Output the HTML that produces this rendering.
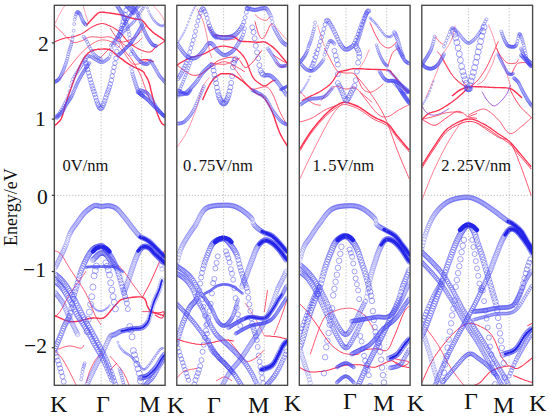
<!DOCTYPE html>
<html><head><meta charset="utf-8"><style>
html,body{margin:0;padding:0;background:#fff;}
body{width:550px;height:419px;overflow:hidden;position:relative;font-family:"Liberation Serif",serif;color:#111;}
svg{position:absolute;left:0;top:0;}
.p{margin:0 1.7px}
.t{position:absolute;white-space:nowrap;line-height:1;}
</style></head><body>
<svg width="550" height="419" viewBox="0 0 550 419">
<defs>
<clipPath id="cp0"><rect x="54.3" y="5.3" width="110.8" height="380"/></clipPath>
<clipPath id="cp1"><rect x="176.8" y="5.3" width="110.8" height="380"/></clipPath>
<clipPath id="cp2"><rect x="299.3" y="5.3" width="110.8" height="380"/></clipPath>
<clipPath id="cp3"><rect x="421.8" y="5.3" width="110.8" height="380"/></clipPath>
<marker id="m75" markerUnits="userSpaceOnUse" markerWidth="16" markerHeight="16" refX="8" refY="8" overflow="visible"><circle cx="8" cy="8" r="0.75" fill="none" stroke="#4a4af2" stroke-width="0.4"/></marker>
<marker id="m100" markerUnits="userSpaceOnUse" markerWidth="20" markerHeight="20" refX="10" refY="10" overflow="visible"><circle cx="10" cy="10" r="1.0" fill="none" stroke="#4a4af2" stroke-width="0.4"/></marker>
<marker id="m125" markerUnits="userSpaceOnUse" markerWidth="24" markerHeight="24" refX="12" refY="12" overflow="visible"><circle cx="12" cy="12" r="1.25" fill="none" stroke="#4a4af2" stroke-width="0.4"/></marker>
<marker id="m150" markerUnits="userSpaceOnUse" markerWidth="28" markerHeight="28" refX="14" refY="14" overflow="visible"><circle cx="14" cy="14" r="1.5" fill="none" stroke="#4a4af2" stroke-width="0.4"/></marker>
<marker id="m175" markerUnits="userSpaceOnUse" markerWidth="32" markerHeight="32" refX="16" refY="16" overflow="visible"><circle cx="16" cy="16" r="1.75" fill="none" stroke="#4a4af2" stroke-width="0.4"/></marker>
<marker id="m200" markerUnits="userSpaceOnUse" markerWidth="36" markerHeight="36" refX="18" refY="18" overflow="visible"><circle cx="18" cy="18" r="2.0" fill="none" stroke="#4a4af2" stroke-width="0.5"/></marker>
<marker id="m200t" markerUnits="userSpaceOnUse" markerWidth="36" markerHeight="36" refX="18" refY="18" overflow="visible"><circle cx="18" cy="18" r="2.0" fill="none" stroke="#4a4af2" stroke-width="0.3"/></marker>
<marker id="m225" markerUnits="userSpaceOnUse" markerWidth="40" markerHeight="40" refX="20" refY="20" overflow="visible"><circle cx="20" cy="20" r="2.25" fill="none" stroke="#4a4af2" stroke-width="0.5"/></marker>
<marker id="m225t" markerUnits="userSpaceOnUse" markerWidth="40" markerHeight="40" refX="20" refY="20" overflow="visible"><circle cx="20" cy="20" r="2.25" fill="none" stroke="#4a4af2" stroke-width="0.3"/></marker>
<marker id="m250" markerUnits="userSpaceOnUse" markerWidth="44" markerHeight="44" refX="22" refY="22" overflow="visible"><circle cx="22" cy="22" r="2.5" fill="none" stroke="#4a4af2" stroke-width="0.5"/></marker>
<marker id="m250t" markerUnits="userSpaceOnUse" markerWidth="44" markerHeight="44" refX="22" refY="22" overflow="visible"><circle cx="22" cy="22" r="2.5" fill="none" stroke="#4a4af2" stroke-width="0.3"/></marker>
<marker id="m275" markerUnits="userSpaceOnUse" markerWidth="48" markerHeight="48" refX="24" refY="24" overflow="visible"><circle cx="24" cy="24" r="2.75" fill="none" stroke="#4a4af2" stroke-width="0.5"/></marker>
<marker id="m300" markerUnits="userSpaceOnUse" markerWidth="52" markerHeight="52" refX="26" refY="26" overflow="visible"><circle cx="26" cy="26" r="3.0" fill="none" stroke="#4a4af2" stroke-width="0.5"/></marker>
</defs>
<g clip-path="url(#cp0)">
<g fill="none" stroke="#ff3050"><path d="M86.4,25.4L86.8,24.9L87.4,24.2L88.1,23.4L88.9,22.6L89.7,21.6L90.5,20.7L91.3,19.8L92.1,19.0L92.8,18.2L93.6,17.4L94.4,16.6L95.1,15.8L95.9,15.1L96.6,14.4L97.3,13.8L97.9,13.3L98.4,12.9L98.9,12.7L99.3,12.5L99.7,12.4L100.1,12.3L100.5,12.3L101.0,12.2L101.5,12.2L102.1,12.2L102.6,12.2L103.1,12.2L103.7,12.3L104.4,12.3L105.1,12.4L106.0,12.6L107.0,12.7L108.2,12.9L109.7,13.0L111.3,13.3L112.9,13.5L114.6,13.7L116.3,14.0L117.8,14.2L119.2,14.5L120.4,14.8L121.5,15.0L122.5,15.3L123.5,15.6L124.4,15.9L125.3,16.2L126.2,16.5L127.2,16.8L128.2,17.1L129.2,17.4L130.3,17.7L131.3,18.0L132.3,18.3L133.3,18.5L134.3,18.8L135.2,19.0L136.1,19.2L137.0,19.2L137.8,19.3L138.6,19.3L139.4,19.4L140.2,19.5L141.0,19.8L141.8,20.2L142.6,20.8L143.3,21.6L144.1,22.4L144.9,23.4L145.6,24.3L146.3,25.3L147.1,26.3L147.8,27.1L148.5,27.9L149.2,28.6L149.9,29.4L150.7,30.1L151.4,30.8L152.1,31.5L152.8,32.1L153.6,32.8L154.4,33.4L155.3,34.1L156.2,34.7L157.1,35.2L158.0,35.8L158.8,36.4L159.6,36.9L160.4,37.4L161.1,37.9L161.8,38.4L162.5,38.9L163.2,39.4L163.8,39.8L164.3,40.2L164.8,40.5L165.1,40.8" stroke-width="1.44"/><path d="M54.3,42.0L55.0,41.7L56.0,41.3L57.2,40.8L58.5,40.3L59.8,39.8L61.2,39.3L62.6,38.8L63.9,38.4L65.2,38.1L66.5,37.8L67.8,37.6L69.1,37.4L70.4,37.3L71.7,37.0L73.0,36.8L74.2,36.5L75.4,36.2L76.5,35.8L77.6,35.4L78.7,35.0L79.8,34.6L80.8,34.1L81.9,33.6L83.0,33.0L84.1,32.4L85.2,31.6L86.3,30.8L87.5,30.0L88.6,29.2L89.7,28.4L90.8,27.6L92.0,27.0L93.2,26.4L94.4,25.8L95.6,25.3L96.8,24.8L98.0,24.3L99.2,24.0L100.4,23.7L101.5,23.6L102.6,23.6L103.7,23.8L104.8,24.0L105.9,24.3L107.0,24.7L108.0,25.2L109.0,25.6L110.0,26.0L111.0,26.4L111.9,26.9L112.8,27.4L113.7,27.9L114.6,28.4L115.4,29.0L116.2,29.5L116.9,30.0L117.6,30.5L118.2,30.9L118.7,31.4L119.3,31.8L119.8,32.3L120.3,32.8L120.9,33.4L121.5,34.0L122.2,34.7L122.8,35.6L123.6,36.4L124.3,37.4L125.0,38.3L125.7,39.2L126.5,40.0L127.2,40.8L127.9,41.5L128.6,42.1L129.2,42.7L129.9,43.2L130.6,43.8L131.3,44.3L132.1,44.8L132.9,45.4L133.8,46.0L134.7,46.6L135.7,47.2L136.7,47.9L137.8,48.5L138.9,49.0L139.9,49.5L141.0,50.0L142.1,50.4L143.3,50.8L144.4,51.2L145.6,51.6L146.8,51.9L147.9,52.1L149.0,52.1L150.0,52.0L150.9,51.7L151.6,51.3L152.3,50.7L153.0,50.0L153.7,49.3L154.4,48.5L155.1,47.7L156.0,47.0L157.0,46.3L158.2,45.4L159.6,44.6L160.9,43.7L162.2,42.9L163.3,42.1L164.3,41.5L165.0,41.0" stroke-width="1.04"/><path d="M54.3,24.8L54.8,25.3L55.5,26.0L56.4,26.9L57.3,27.8L58.3,28.8L59.3,29.8L60.3,30.8L61.2,31.7L62.1,32.6L62.9,33.5L63.8,34.4L64.7,35.3L65.5,36.2L66.4,37.0L67.2,37.8L68.0,38.5L68.8,39.2L69.5,39.8L70.2,40.5L70.8,41.0L71.5,41.5L72.2,42.0L73.0,42.3L73.8,42.5L74.7,42.6L75.6,42.5L76.6,42.4L77.7,42.1L78.7,41.8L79.7,41.5L80.8,41.2L81.8,40.8L82.8,40.4L83.7,39.9L84.6,39.3L85.6,38.8L86.5,38.2L87.5,37.7L88.6,37.3L89.8,37.0L91.1,36.9L92.5,36.8L94.1,36.9L95.6,37.0L97.2,37.1L98.7,37.3L100.2,37.4L101.5,37.4L102.7,37.4L103.8,37.2L104.8,37.1L105.8,36.9L106.7,36.8L107.7,36.7L108.8,36.8L110.0,37.0L111.3,37.4L112.6,38.1L114.0,38.9L115.4,39.8L116.9,40.6L118.4,41.3L119.9,41.8L121.5,42.0L123.2,41.9L124.9,41.6L126.8,41.1L128.7,40.4L130.5,39.7L132.2,38.9L133.8,38.2L135.2,37.4L136.4,36.6L137.4,35.8L138.3,34.9L139.0,34.0L139.7,33.1L140.4,32.2L141.1,31.3L141.8,30.5L142.6,29.7L143.3,28.9L144.1,28.1L144.8,27.3L145.5,26.6L146.1,26.0L146.6,25.4L147.0,25.0" stroke-width="0.80"/><path d="M54.3,125.8L54.7,125.5L55.2,125.1L55.7,124.7L56.4,124.2L57.1,123.6L57.7,123.0L58.4,122.4L58.9,121.8L59.4,121.2L59.8,120.7L60.2,120.2L60.6,119.7L61.0,119.1L61.4,118.3L61.8,117.3L62.3,116.1L62.8,114.6L63.3,112.9L63.8,111.1L64.3,109.1L64.9,106.9L65.5,104.7L66.2,102.4L66.9,100.0L67.7,97.5L68.7,94.7L69.7,91.8L70.8,88.9L71.8,85.9L72.9,83.1L73.9,80.3L74.9,77.8L75.8,75.4L76.7,73.2L77.6,71.0L78.5,68.9L79.3,66.9L80.2,65.1L81.0,63.4L81.8,61.8L82.6,60.4L83.3,59.1L84.0,58.0L84.7,57.0L85.4,56.0L86.1,55.2L86.8,54.4L87.5,53.7L88.2,53.0L88.9,52.5L89.6,52.0L90.2,51.6L90.9,51.2L91.7,50.9L92.5,50.6L93.3,50.3L94.2,50.0L95.2,49.8L96.2,49.6L97.2,49.4L98.3,49.3L99.4,49.2L100.4,49.1L101.5,49.1L102.5,49.1L103.6,49.0L104.6,49.0L105.7,49.0L106.7,49.1L107.8,49.3L108.9,49.6L110.0,50.0L111.1,50.6L112.2,51.3L113.3,52.2L114.4,53.2L115.6,54.2L116.7,55.2L117.9,56.2L119.2,57.2L120.5,58.2L121.9,59.2L123.3,60.2L124.8,61.3L126.2,62.3L127.7,63.3L129.2,64.3L130.6,65.2L132.1,66.0L133.7,66.8L135.3,67.6L136.8,68.3L138.4,68.9L139.8,69.6L141.0,70.3L142.1,70.9L142.9,71.5L143.5,72.1L144.0,72.6L144.3,73.1L144.6,73.7L144.8,74.2L145.1,74.8L145.5,75.5L145.9,76.2L146.4,76.9L146.8,77.6L147.2,78.4L147.7,79.2L148.1,80.2L148.6,81.2L149.0,82.4L149.4,83.8L149.8,85.3L150.2,86.9L150.6,88.6L151.0,90.4L151.5,92.2L151.9,94.1L152.4,96.0L152.9,98.0L153.5,100.1L154.0,102.3L154.6,104.5L155.2,106.7L155.8,108.8L156.4,110.8L157.0,112.6L157.6,114.3L158.2,115.8L158.8,117.3L159.4,118.7L159.9,120.0L160.5,121.1L161.1,122.1L161.6,123.0L162.1,123.7L162.7,124.2L163.2,124.5L163.7,124.8L164.2,124.9L164.6,125.0L164.9,125.1L165.2,125.2" stroke-width="1.44"/><path d="M58.9,80.1L59.7,79.1L60.7,77.9L62.0,76.4L63.3,74.7L64.8,72.9L66.3,71.0L67.8,69.2L69.2,67.5L70.6,65.8L72.0,64.0L73.4,62.2L74.9,60.4L76.3,58.6L77.8,56.9L79.3,55.2L80.7,53.7L82.1,52.3L83.6,50.9L85.0,49.5L86.5,48.2L87.9,47.0L89.3,45.9L90.7,44.9L92.0,44.0L93.3,43.2L94.5,42.5L95.7,41.8L96.8,41.3L97.9,40.8L99.1,40.4L100.3,40.2L101.5,40.0L102.8,39.9L104.1,40.0L105.5,40.1L106.8,40.4L108.2,40.7L109.5,41.1L110.8,41.5L112.0,42.0L113.2,42.5L114.3,43.1L115.3,43.8L116.4,44.6L117.4,45.3L118.4,46.2L119.3,47.1L120.3,48.0L121.2,49.0L122.2,50.1L123.0,51.3L123.9,52.5L124.8,53.8L125.6,55.0L126.4,56.1L127.2,57.2L127.9,58.2L128.6,59.3L129.3,60.3L129.9,61.2L130.6,62.1L131.3,62.9L132.0,63.5L132.9,64.0L133.9,64.3L135.0,64.3L136.2,64.3L137.4,64.1L138.7,63.8L139.9,63.5L141.0,63.2L142.1,62.9L143.1,62.6L144.1,62.1L145.2,61.6L146.1,61.1L147.0,60.6L147.8,60.2L148.5,59.8L149.0,59.5" stroke-width="0.72"/><path d="M54.3,24.8L54.7,24.1L55.1,23.1L55.7,22.0L56.3,20.7L57.0,19.4L57.6,18.0L58.3,16.8L58.9,15.6L59.5,14.5L60.1,13.4L60.7,12.3L61.3,11.2L61.9,10.1L62.5,9.2L63.0,8.3L63.5,7.6L63.9,7.0L64.3,6.6L64.6,6.2L64.9,5.9L65.2,5.7L65.4,5.6L65.6,5.4L65.8,5.3" stroke-width="0.64" opacity="0.7"/><path d="M83.0,5.3L83.3,6.2L83.6,7.5L84.1,9.0L84.6,10.6L85.1,12.3L85.5,14.0L86.0,15.5L86.4,16.8L86.8,17.9L87.1,19.0L87.4,20.0L87.8,20.9L88.1,21.8L88.3,22.5L88.5,23.1L88.7,23.6" stroke-width="0.64" opacity="0.7"/><path d="M153.0,5.3L153.5,5.8L154.1,6.5L154.9,7.3L155.7,8.2L156.6,9.1L157.4,10.1L158.3,11.1L159.0,12.0L159.7,13.0L160.4,14.0L161.1,15.0L161.8,16.1L162.5,17.2L163.1,18.2L163.6,19.1L164.0,20.0L164.3,20.8L164.6,21.6L164.7,22.3L164.8,23.0L164.9,23.6L164.9,24.2L165.0,24.6L165.0,25.0" stroke-width="0.64" opacity="0.7"/><path d="M110.0,28.0L110.3,28.5L110.8,29.2L111.3,30.0L111.9,30.9L112.5,31.9L113.2,32.9L113.9,34.0L114.6,35.0L115.4,36.1L116.2,37.2L117.2,38.4L118.1,39.7L119.1,40.9L120.0,42.1L120.8,43.2L121.5,44.3L122.1,45.2L122.5,46.1L122.9,46.9L123.2,47.7L123.5,48.4L123.9,49.2L124.3,50.1L124.9,51.0L125.6,52.0L126.4,53.0L127.3,54.0L128.2,55.0L129.1,56.2L130.1,57.3L131.0,58.6L132.0,60.0L133.0,61.5L134.0,63.1L135.0,64.8L136.1,66.6L137.1,68.4L138.1,70.2L139.1,72.1L140.0,74.0L140.9,75.9L141.7,78.0L142.5,80.1L143.2,82.2L144.0,84.4L144.7,86.4L145.4,88.3L146.0,90.0L146.6,91.6L147.2,93.2L147.8,94.6L148.4,96.0L148.9,97.2L149.3,98.3L149.7,99.3L150.0,100.0" stroke-width="0.80"/><path d="M118.0,37.4L118.4,38.0L119.0,38.8L119.7,39.8L120.5,40.9L121.3,41.9L122.1,43.0L122.9,43.8L123.7,44.5L124.4,45.0L125.1,45.4L125.8,45.7L126.5,45.9L127.2,46.0L128.0,46.1L128.7,46.1L129.5,46.0L130.3,45.9L131.2,45.7L132.1,45.4L133.0,45.0L134.0,44.6L134.9,44.1L135.8,43.6L136.6,43.1L137.4,42.5L138.3,41.7L139.1,40.9L139.9,40.1L140.7,39.2L141.4,38.5L142.0,37.9L142.4,37.4" stroke-width="0.80"/><path d="M139.5,60.3L140.1,60.2L140.8,60.1L141.7,60.0L142.7,59.8L143.7,59.7L144.7,59.6L145.8,59.6L146.7,59.6L147.6,59.7L148.6,60.0L149.7,60.3L150.7,60.6L151.7,60.9L152.5,61.3L153.3,61.5L153.8,61.7" stroke-width="1.28"/><path d="M100.0,58.0L110.0,48.0" stroke-width="0.72"/><path d="M54.7,250.7L55.2,250.9L55.8,251.1L56.5,251.3L57.3,251.6L58.2,252.0L59.1,252.6L60.0,253.3L61.0,254.3L62.0,255.6L63.0,257.1L64.1,258.8L65.2,260.7L66.3,262.7L67.5,264.7L68.7,266.7L69.9,268.7L71.2,270.7L72.6,272.7L74.0,274.8L75.4,276.9L76.8,279.0L78.2,281.0L79.5,282.9L80.7,284.8L81.8,286.5L82.7,288.1L83.6,289.5L84.5,291.0L85.3,292.4L86.1,293.9L86.9,295.5L87.8,297.3L88.7,299.3L89.6,301.5L90.5,303.9L91.5,306.3L92.4,308.7L93.3,311.0L94.2,313.1L95.0,315.0L95.8,316.7L96.7,318.3L97.6,319.8L98.5,321.1L99.2,322.3L100.0,323.4L100.5,324.3L101.0,325.0" stroke-width="0.80"/><path d="M54.3,318.0L54.8,317.4L55.5,316.8L56.2,316.0L57.1,315.0L58.0,314.0L59.0,312.8L60.0,311.5L61.0,310.0L62.0,308.3L63.1,306.4L64.2,304.3L65.3,302.1L66.5,299.9L67.6,297.7L68.8,295.6L69.9,293.7L71.0,291.9L72.2,290.2L73.4,288.5L74.6,286.9L75.8,285.3L76.9,283.9L78.0,282.5L78.9,281.2L79.8,280.0L80.6,278.9L81.3,277.9L82.0,277.0L82.6,276.2L83.2,275.4L83.7,274.7L84.2,274.0L84.6,273.4L84.9,272.9L85.2,272.4L85.4,272.1L85.6,271.7L85.8,271.4L85.9,271.2L86.0,271.0" stroke-width="0.80"/><path d="M54.3,315.1L54.8,315.4L55.5,315.7L56.3,316.1L57.2,316.6L58.2,317.1L59.2,317.6L60.2,318.1L61.2,318.5L62.1,318.9L63.1,319.3L64.1,319.8L65.1,320.2L66.2,320.5L67.2,320.9L68.2,321.2L69.2,321.4L70.2,321.6L71.2,321.7L72.1,321.7L73.1,321.7L74.1,321.7L75.1,321.6L76.1,321.5L77.2,321.4L78.3,321.2L79.4,321.0L80.6,320.7L81.8,320.3L83.0,320.0L84.2,319.7L85.3,319.4L86.4,319.1L87.5,318.9L88.5,318.7L89.5,318.5L90.5,318.3L91.5,318.2L92.5,318.0L93.5,318.0L94.4,317.9L95.3,317.9L96.3,318.0L97.2,318.1L98.2,318.3L99.1,318.4L99.9,318.5L100.7,318.6L101.5,318.5L102.2,318.4L102.8,318.2L103.4,318.0L103.9,317.7L104.4,317.4L104.9,317.0L105.4,316.6L105.9,316.2L106.4,315.8L106.9,315.3L107.3,314.8L107.8,314.3L108.3,313.7L108.8,313.0L109.4,312.4L110.0,311.6L110.7,310.7L111.5,309.8L112.4,308.7L113.3,307.6L114.2,306.5L115.1,305.4L116.0,304.5L116.9,303.6L117.6,302.8L118.2,302.1L118.8,301.5L119.3,300.9L120.0,300.4L120.8,299.9L121.9,299.4L123.3,299.0L125.2,298.6L127.5,298.1L130.1,297.6L132.9,297.3L135.7,297.0L138.3,296.9L140.6,296.9L142.4,297.3L143.7,298.0L144.8,299.0L145.5,300.3L146.1,301.8L146.5,303.2L146.9,304.7L147.3,306.0L147.8,307.0L148.3,307.8L148.7,308.6L149.1,309.2L149.5,309.8L149.8,310.3L150.2,310.7L150.7,311.2L151.3,311.6L152.0,312.0L152.8,312.4L153.7,312.7L154.6,312.9L155.5,313.2L156.4,313.4L157.3,313.7L158.1,313.9L158.9,314.2L159.8,314.4L160.6,314.7L161.4,314.9L162.2,315.1L162.9,315.3L163.5,315.5L163.9,315.6" stroke-width="1.44"/><path d="M142.4,297.3L143.0,296.2L143.8,294.8L144.7,293.0L145.8,291.1L146.9,289.1L148.0,287.0L149.1,284.9L150.1,282.9L151.0,281.0L151.9,279.0L152.8,277.0L153.7,275.0L154.6,272.9L155.5,270.9L156.4,268.8L157.3,266.8L158.2,264.7L159.2,262.4L160.3,260.1L161.3,257.7L162.3,255.6L163.1,253.6L163.9,251.9L164.4,250.7" stroke-width="0.96"/><path d="M118.0,265.0L118.5,265.6L119.2,266.3L120.0,267.2L121.0,268.2L121.9,269.3L122.9,270.4L123.9,271.6L124.9,272.8L125.8,274.1L126.8,275.4L127.8,276.8L128.7,278.2L129.7,279.7L130.8,281.2L131.8,282.8L132.9,284.3L134.1,285.9L135.4,287.7L136.8,289.6L138.2,291.5L139.5,293.3L140.7,294.9L141.7,296.3L142.4,297.3" stroke-width="0.80"/><path d="M151.0,311.6L151.5,311.7L152.3,311.9L153.2,312.1L154.1,312.4L155.1,312.6L156.2,312.8L157.1,312.9L158.0,313.0L158.9,312.9L159.8,312.8L160.7,312.5L161.6,312.2L162.4,312.0L163.1,311.8L163.6,311.8L164.0,312.0L164.2,312.5L164.2,313.2L164.1,314.1L163.8,315.1L163.5,316.1L163.0,317.0L162.5,317.6L162.0,318.0L161.3,318.0L160.4,317.8L159.4,317.4L158.4,316.9L157.3,316.3L156.4,315.8L155.6,315.3L155.0,315.0" stroke-width="1.12"/><path d="M142.1,311.6L150.1,311.6" stroke-width="0.80"/><path d="M57.7,349.3L58.6,349.0L59.8,348.6L61.2,348.0L62.7,347.5L64.4,346.9L66.1,346.4L67.7,346.1L69.2,345.9L70.7,346.0L72.3,346.2L73.9,346.6L75.5,347.0L77.0,347.5L78.4,347.9L79.7,348.1L80.7,348.2L81.5,348.0L82.2,347.7L82.7,347.3L83.1,346.7L83.4,346.2L83.6,345.7L83.8,345.3L84.0,345.0" stroke-width="0.80"/><path d="M54.3,350.5L54.8,351.0L55.5,351.6L56.4,352.3L57.3,353.2L58.3,354.1L59.3,355.1L60.3,356.2L61.2,357.3L62.1,358.5L62.9,359.8L63.8,361.2L64.6,362.6L65.4,364.1L66.3,365.7L67.1,367.2L68.0,368.8L68.9,370.5L69.9,372.3L70.8,374.3L71.8,376.2L72.7,378.1L73.6,379.8L74.3,381.4L74.9,382.6L75.3,383.5L75.6,384.3L75.8,384.8L75.9,385.2L75.9,385.4L75.9,385.6L76.0,385.8L76.0,386.0" stroke-width="0.80"/><path d="M86.4,382.6L86.6,381.7L87.0,380.5L87.3,379.1L87.7,377.6L88.2,375.9L88.7,374.2L89.2,372.6L89.8,371.1L90.4,369.6L91.1,368.1L91.8,366.5L92.5,365.0L93.3,363.5L94.1,362.1L94.9,360.8L95.6,359.6L96.4,358.6L97.2,357.6L98.1,356.8L98.9,356.0L99.7,355.4L100.4,354.8L101.0,354.3L101.5,353.9" stroke-width="0.80"/><path d="M110.0,356.2L110.5,356.8L111.2,357.6L112.1,358.6L113.0,359.6L114.0,360.8L115.0,361.9L116.0,363.1L116.9,364.2L117.8,365.3L118.7,366.3L119.5,367.4L120.4,368.5L121.3,369.6L122.2,370.8L123.0,372.1L123.8,373.4L124.6,374.9L125.4,376.6L126.3,378.4L127.1,380.3L127.8,382.0L128.5,383.7L129.1,385.0L129.5,386.0" stroke-width="0.80"/><path d="M110.0,370.0L116.9,363.1" stroke-width="0.80"/></g>
<g fill="none" stroke="#9040d0"></g>
<g fill="none" stroke="none"><path d="M54.3,82.0l.6,-.2l.6,-.3l.6,-.2l.5,-.3l.6,-.4l.6,-.4l.6,-.5l.6,-.7l.6,-.9l.6,-1.0l.5,-1.1l.6,-1.2l.6,-1.3l.6,-1.3l.6,-1.4l.6,-1.5l.6,-1.5l.5,-1.5l.6,-1.6l.6,-1.8l.6,-2.0l.6,-2.1l.6,-2.3l.5,-2.3l.6,-2.3l.6,-2.0l.6,-1.8l.6,-1.9l.6,-1.9l.6,-2.1l.5,-2.5l.6,-3.4l.6,-5.6l.6,-6.7l.6,-4.5l.6,-2.8l.6,-2.1l.5,-1.4l.6,-.9l.6,-.4l.6,.3l.6,.5l.6,.8l.6,.9l.5,1.1l.6,1.5l.6,1.6l.6,1.5l.6,1.2l.6,.9l.6,.7l.5,.7l.6,.6l.6,.7" marker-start="url(#m150)" marker-mid="url(#m150)" marker-end="url(#m150)"/><path d="M54.3,117.8l1.2,-.9l1.1,-.9l1.2,-1.0l1.2,-1.3l1.2,-1.8l1.1,-2.0l1.2,-2.2l1.2,-2.2l1.1,-2.1l1.2,-2.2l1.2,-2.5l1.1,-3.2l1.2,-4.4l1.2,-4.8l1.2,-4.2l1.1,-3.0l1.2,-2.3l1.2,-2.0l1.1,-1.8l1.2,-1.8l1.2,-1.7l1.2,-1.7l1.1,-1.8l1.2,-1.6l1.2,-1.6l1.1,-1.6l1.2,-1.7l1.2,-2.3l1.1,-1.1l1.2,.0l1.2,.4l1.2,.6l1.1,.8l1.2,.7l1.2,.7l1.1,.7l1.2,.7l1.2,.7l1.2,.6l1.1,.3l1.2,-.1l1.2,-.4l1.2,-.7l1.2,-.8l1.2,-.9l1.2,-.8l1.2,-1.5l1.2,-3.1l1.2,-4.6l1.2,-3.6l1.1,-2.7l1.2,-2.4l1.2,-2.3l1.2,-2.3l1.2,-2.2l1.2,-2.2l1.2,-2.1l1.2,-2.2l1.2,-2.1l1.2,-2.1l1.2,-2.0l1.2,-1.9l1.2,-1.8l1.2,-1.5l1.2,-1.5l1.1,-1.3l1.2,-1.3l1.2,-1.3l1.2,-1.3l1.2,-1.2l1.2,-1.2l1.2,-1.1" marker-start="url(#m150)" marker-mid="url(#m150)" marker-end="url(#m150)"/><path d="M56.6,118.0l.6,-.7l.6,-.6l.6,-.6l.6,-.7l.6,-.6l.6,-.6l.5,-.7l.6,-.7l.6,-.8l.6,-.8l.6,-.9l.6,-1.0l.6,-1.0l.5,-1.1l.6,-1.1l.6,-1.1l.6,-1.0l.6,-.9l.6,-.9l.5,-.8l.6,-.8l.6,-.8l.6,-.9l.6,-.9l.6,-1.0l.6,-1.1l.5,-1.3l.6,-1.4l.6,-1.4l.6,-1.5l.6,-1.5l.6,-1.4l.6,-1.3l.5,-1.3l.6,-1.2l.6,-1.2l.6,-1.2l.6,-1.2l.6,-1.1l.6,-1.2l.5,-1.0l.6,-1.1l.6,-1.0l.6,-1.0l.6,-.9l.6,-1.0l.6,-.9l.5,-.9l.6,-.9l.6,-.9l.6,-.9l.6,-.8l.6,-.9l.5,-.9l.6,-.9l.6,-.8" marker-start="url(#m150)" marker-mid="url(#m150)" marker-end="url(#m150)"/><path d="M110.7,45.7l1.2,-1.5l1.2,-1.5l1.1,-1.6l1.2,-1.6l1.2,-1.7l1.2,-1.9l1.2,-2.0l1.2,-2.1l1.2,-2.1l1.2,-2.1l1.2,-2.1l1.2,-2.0l1.2,-2.0l1.2,-1.9l1.2,-1.9l1.2,-1.9l1.2,-1.9l1.1,-1.8l1.2,-1.7l1.2,-1.6l1.2,-1.5l1.2,-1.3" marker-start="url(#m125)" marker-mid="url(#m125)" marker-end="url(#m125)"/><path d="M84.9,60.1l.9,3.1l.9,3.1l.9,3.2l.9,3.3l.9,3.4l.9,3.4l.9,3.3l.9,3.1l.9,2.8l.9,2.8l.9,2.8l.9,3.0l.9,3.2l.9,2.5l.9,2.1l.9,1.8l.9,1.2l.9,.2l.9,-1.1l1,-1.8l.9,-2.2l.9,-2.5l.9,-3.0l1,-3.0l.9,-2.5l.9,-2.5l.9,-2.7l.9,-3.1l1,-3.7l.9,-4.3l.9,-4.4l.9,-4.3l1,-4.2l.9,-4.8l.9,-6.9l.9,-6.2l.9,-5.4l1,-4.2l.9,-3.6l.9,-3.4l.9,-3.4l.9,-3.4l1,-3.5l.9,-3.7l.9,-4.3l.9,-4.7" marker-start="url(#m225)" marker-mid="url(#m225)" marker-end="url(#m225)"/><path d="M117.2,5.8l.6,.9l.6,.9l.6,.9l.6,.9l.6,1.0l.6,.9l.6,1.0l.6,1.1l.6,1.1l.6,1.2l.6,1.3l.6,1.3l.6,1.4l.6,1.4l.6,1.6l.6,1.8l.6,2.0l.6,2.3l.6,2.6l.6,3.1l.6,3.7l.6,5.2l.6,10.7l.5,13.6l.6,4.0l.6,2.6l.6,2.2l.6,1.9l.6,1.9l.6,1.9l.6,1.8l.6,1.9l.6,1.7l.6,1.6l.6,1.3l.6,1.1l.6,.9l.6,.7l.6,.6l.6,.5l.6,.5l.6,.4l.6,.5" marker-start="url(#m175)" marker-mid="url(#m175)" marker-end="url(#m175)"/><path d="M137.5,92.0l.6,.4l.6,.5l.6,.4l.6,.4l.6,.5l.6,.4l.6,.5l.6,.4l.6,.5l.5,.4l.6,.5l.6,.4l.6,.5l.6,.5l.6,.4l.6,.5l.5,.6l.6,.5l.6,.6l.6,.5l.6,.6l.6,.6l.6,.6l.5,.6l.6,.6l.6,.6l.6,.6l.6,.6l.6,.6l.5,.6l.6,.5l.6,.6l.6,.6l.6,.6l.6,.6l.6,.6l.5,.6l.6,.5l.6,.6l.6,.6l.6,.6l.6,.5l.6,.6l.5,.5l.6,.6l.6,.5l.6,.6" marker-start="url(#m150)" marker-mid="url(#m150)" marker-end="url(#m150)"/><path d="M140.1,90.0l.8,.3l.8,.3l.8,.2l.7,.3l.8,.3l.8,.3l.8,.4l.8,.4l.8,.6l.7,.8l.8,1.0l.8,1.1l.8,1.2l.8,1.3l.7,1.2l.8,1.2l.8,1.3l.8,1.3l.8,1.3l.7,1.3l.8,1.2l.8,1.1l.8,1.1l.8,1.0l.7,.9l.8,.9l.8,.9l.8,.8l.8,.7l.7,.5l.8,.4l.8,.3" marker-start="url(#m150)" marker-mid="url(#m150)" marker-end="url(#m150)"/><path d="M131.3,49.2l.8,1.4l.8,1.3l.8,1.3l.8,1.3l.8,1.2l.8,1.1l.8,1.1l.8,.9l.8,1.0l.8,.8l.8,.8l.8,.7l.8,.5l.8,.5l.7,.4l.8,.2l.8,.2l.8,.2l.8,.0l.8,.0l.7,-.2l.8,-1.0l.8,-2.1l.8,-.1l.8,.8l.7,1.2l.8,1.2l.8,1.4l.8,1.3l.8,1.3l.7,1.4l.8,1.4l.8,1.5l.8,1.4l.8,1.2l.7,1.2l.8,1.0l.8,.9l.8,.9l.8,.9l.7,.9l.8,.8l.8,.9" marker-start="url(#m150)" marker-mid="url(#m150)" marker-end="url(#m150)"/><path d="M147.5,7.9l1.2,3.4l1.2,2.8l1.2,2.1l1.1,1.8l1.2,1.6l1.2,1.4l1.1,1.3l1.2,1.1l1.2,.8l1.1,.7l1.2,.6l1.2,.4l1.2,.0l1.1,-.8" marker-start="url(#m100)" marker-mid="url(#m100)" marker-end="url(#m100)"/><path d="M130.4,5.6l.6,.5l.5,.4l.6,.5l.6,.4l.6,.5l.6,.6l.6,.5l.6,.7l.6,.7l.6,.8l.6,1.0l.6,1.2l.6,1.4l.6,1.5l.6,1.7l.6,1.8l.6,1.7l.6,1.7l.6,1.5l.6,1.4l.6,1.5l.5,1.4l.6,1.3l.6,1.4l.6,1.3l.6,1.2l.6,1.2l.6,1.1l.5,1.0l.6,1.0l.6,1.0l.6,.9l.6,.9l.6,.8l.6,.8l.5,.8l.6,.6l.6,.6l.6,.4l.6,.2l.6,.2l.5,.1l.6,.1l.6,.0" marker-start="url(#m150)" marker-mid="url(#m150)" marker-end="url(#m150)"/><path d="M126.2,5.5l.6,.7l.6,.7l.6,.8l.6,.7l.6,.7l.6,.6l.6,.7l.6,.6l.5,.6l.6,.6l.6,.6l.6,.6l.6,.5" marker-start="url(#m125)" marker-mid="url(#m125)" marker-end="url(#m125)"/><path d="M83.6,36.7l1.1,1.5l1.2,1.6l1.2,2.1l1.1,2.4l1.2,2.4l1.2,2.1l1.2,2.1l1.1,1.8l1.2,1.6l1.2,1.3l1.1,1.0l1.2,.8l1.2,.6l1.2,.6l1.1,.5" marker-start="url(#m150)" marker-mid="url(#m150)" marker-end="url(#m150)"/><path d="M142.3,24.7l-.6,1.0l-.6,1.1l-.6,1.0l-.6,1.1l-.6,1.0l-.6,1.1l-.6,1.0l-.6,1.0l-.6,1.0l-.6,1.0l-.6,.9l-.6,1.0l-.6,1.0l-.6,.9l-.6,.9l-.6,.9l-.6,.9l-.6,.8l-.5,.7l-.6,.7l-.6,.7l-.6,.6l-.6,.6l-.6,.6l-.6,.6l-.6,.6l-.6,.5l-.6,.6l-.6,.6l-.6,.5l-.6,.6l-.6,.6l-.6,.6l-.6,.6l-.6,.6l-.6,.6l-.6,.6l-.6,.6l-.6,.6l-.6,.6" marker-start="url(#m150)" marker-mid="url(#m150)" marker-end="url(#m150)"/><path d="M119,37.6l1.2,-1.4l1.2,-1.4l1.2,-1.4l1.2,-1.4l1.2,-1.4l1.2,-1.3l1.2,-1.3l1.2,-1.2l1.2,-1.1l1.2,-1.1l1.1,-1.1l1.2,-1.2l1.2,-1.3l1.2,-1.5l1.2,-1.7l1.2,-1.8l1.2,-2.0l1.2,-2.0l1.2,-1.9l1.2,-1.8l1.1,-1.6" marker-start="url(#m125)" marker-mid="url(#m125)" marker-end="url(#m125)"/><path d="M55.1,267.9l.8,-1.5l.7,-1.6l.8,-1.5l.8,-1.6l.8,-1.6l.8,-1.6l.7,-1.5l.8,-1.6l.8,-1.6l.8,-1.7l.8,-1.6l.7,-1.7l.8,-1.9l.8,-1.9l.8,-2.3l.8,-2.5l.7,-2.4l.8,-2.3l.8,-1.9l.8,-1.5l.8,-1.4l.7,-1.3l.8,-1.1l.8,-1.1l.8,-1.1l.8,-1.1l.8,-1.0l.7,-1.1l.8,-1.1l.8,-1.1l.8,-1.2l.8,-1.1l.7,-1.0l.8,-1.1l.8,-1.0l.8,-.9l.8,-.9l.7,-.9l.8,-.7l.8,-.7l.8,-.7l.8,-.6l.7,-.6l.8,-.6l.8,-.5l.8,-.6l.8,-.5l.7,-.5l.8,-.4l.8,-.4l.8,-.2l.8,-.1l.7,.0l.8,.1l.8,.2l.8,.2l.8,.2l.7,.1l.8,.2l.8,.0l.8,-.1l.8,-.1l.8,-.1l.8,-.2l.8,-.1l.8,-.1l.8,-.1l.8,.0l.8,.0l.8,.2l.8,.2l.8,.2l.8,.2l.8,.2l.8,.3l.7,.4l.8,.4l.8,.5l.8,.6l.8,.7l.8,.8l.8,.9l.8,.9l.8,.9l.8,1.0l.8,1.0l.8,.9l.8,1.0l.8,1.0l.8,1.0l.8,1.0l.8,1.0l.8,1.1l.8,1.0l.8,1.1l.8,1.0l.7,1.0l.8,1.1l.8,.9l.8,1.0l.8,1.0l.8,1.0l.8,1.0l.8,1.0l.8,.9l.8,.9l.8,.8l.8,.8l.8,.5l.8,.5l.8,.2l.7,.3l.8,.3l.8,.4l.8,.4l.8,.5l.8,.4l.7,.4l.8,.5l.8,.5l.8,.6l.8,.7l.7,.8l.8,.8l.8,.9l.8,.8l.8,.9l.7,.8l.8,.8l.8,.7l.8,.8l.8,.9l.7,.8l.8,.8l.8,.8l.8,.9l.8,.9l.7,.9l.8,.9l.8,.9" marker-start="url(#m225t)" marker-mid="url(#m225t)" marker-end="url(#m225t)"/><path d="M123.8,292.5l.6,-1.5l.6,-1.5l.6,-1.5l.6,-1.6l.6,-1.6l.6,-1.7l.6,-1.8l.6,-1.8l.6,-1.8l.6,-1.9l.6,-1.8l.6,-1.8l.5,-1.7l.6,-1.7l.6,-1.7l.6,-1.7l.6,-1.7l.6,-1.7l.6,-1.6l.6,-1.6l.6,-1.5l.6,-1.5l.6,-1.3l.6,-1.3l.6,-1.1l.6,-1.1l.6,-1.0l.6,-.9l.6,-.7l.6,-.6l.6,-.5l.6,-.4l.5,-.2l.6,-.2l.6,-.1l.6,.0l.6,.1l.6,.1l.6,.1l.5,.2l.6,.2l.6,.3l.6,.4l.6,.5l.6,.6l.6,.6l.5,.7l.6,.7l.6,.6l.6,.7l.6,.6l.6,.6l.5,.6l.6,.6l.6,.6l.6,.6l.6,.6l.6,.6l.6,.6l.5,.5l.6,.6l.6,.6l.6,.6l.6,.6l.6,.6l.6,.6l.5,.5l.6,.6" marker-start="url(#m250t)" marker-mid="url(#m250t)" marker-end="url(#m250t)"/><path d="M54.3,350.5l.9,-2.1l.9,-2.1l.9,-2.2l.9,-2.1l.9,-2.1l.9,-2.2l.9,-2.2l.9,-2.3l.9,-2.4l.9,-2.3l.9,-2.2l.9,-1.9l.9,-1.7l.9,-1.4l.9,-1.6l.9,-1.7l.9,-2.1l.9,-3.1l.9,-4.3l.9,-5.1l.9,-4.8l.9,-3.7l.9,-3.2l.9,-3.0l.9,-2.9l.9,-3.2l.9,-3.4l.9,-3.3l.9,-2.9l.9,-2.5l.9,-2.4l.9,-2.2l.9,-2.1l.9,-2.0l.9,-1.8l.9,-1.6l.9,-1.6l.9,-1.6l.9,-1.4l.9,-1.4l.9,-1.2l.9,-1.1l.9,-.9l.9,-.8l.9,-.5l.9,-.5l.9,-.3l.9,-.3l.9,-.3l.9,-.2l.9,-.1l.9,-.2l.9,-.1l1,.6l.9,1.0l.9,1.0l.9,1.1l1,1.1l.9,1.1l.9,1.2l.9,1.2l.9,1.4l1,1.4l.9,1.6l.9,1.7l.9,1.9l1,2.0l.9,2.1l.9,2.3l.9,2.6l.9,2.9l1,3.1l.9,3.0l.9,3.2l.9,3.3l.9,3.2l1,3.2l.9,3.0l.9,3.3l.9,3.9l1,5.8" marker-start="url(#m250)" marker-mid="url(#m250)" marker-end="url(#m250)"/><path d="M129.8,326.6l1.2,3.4l1.1,6.9l1.2,13.7l1.2,4.3l1.2,4.5l1.2,4.8l1.2,4.6l1.2,4.5l1.2,7.7" marker-start="url(#m300)" marker-mid="url(#m300)" marker-end="url(#m300)"/><path d="M92.9,260.0l.6,-.6l.6,-.6l.6,-.7l.6,-.6l.6,-.6l.5,-.6l.6,-.5l.6,-.6l.6,-.6l.6,-.4l.6,-.5l.6,-.4l.5,-.2l.6,-.1l.6,.0l.6,.0l.6,.0l.6,.1l.6,.2l.6,.3l.6,.3l.6,.5l.6,.6l.6,.6l.6,.8l.6,.8l.6,.8l.6,.8l.6,.8l.6,.8l.6,.8l.6,.8l.6,.7l.6,.8l.6,.7l.5,.8l.6,.7l.6,.8l.6,.7l.6,.8" marker-start="url(#m250t)" marker-mid="url(#m250t)" marker-end="url(#m250t)"/><path d="M96.4,266.1l-1.1,4.5l-1.2,5.2l-1.2,11.3l-1.1,9.6l-1.2,7.7l-1.2,7.7l-1.2,7.3l-1.1,12.0" marker-start="url(#m300)" marker-mid="url(#m300)" marker-end="url(#m300)"/><path d="M105.9,262.9l1.2,3.4l1.2,3.7l1.2,4.9l1.2,7.9l1.2,7.2l1.2,6.5l1.1,5.8l1.2,6.6" marker-start="url(#m300)" marker-mid="url(#m300)" marker-end="url(#m300)"/><path d="M85.9,267.5l.6,-.2l.6,-.2l.6,-.1l.5,-.1l.6,.0l.6,-.1l.6,.0l.6,.0l.6,-.1l.6,.0l.5,.0l.6,.0l.6,.0l.6,.0l.6,-.1l.6,.0l.6,.0l.5,.0l.6,.0l.6,.0l.6,.0l.6,.0l.6,.0l.6,.0l.5,.0l.6,.0l.6,.0l.6,.0l.6,.0l.6,.0l.6,.0l.6,.0l.6,.0l.6,.0l.6,.0l.6,.0l.6,.0l.6,.0l.6,.0l.6,.0l.6,.0l.6,.0l.6,.0l.6,.0l.6,.0l.6,.1l.6,.0l.5,.1l.6,.1l.6,.1l.6,.2l.6,.2l.6,.3l.6,.5l.6,.4l.6,.4l.6,.4l.6,.4l.6,.5l.6,.4l.6,.5l.6,.5l.6,.4" marker-start="url(#m100)" marker-mid="url(#m100)" marker-end="url(#m100)"/><path d="M55.5,274.6l1.1,.9l1.2,1.0l1.2,1.0l1.2,1.0l1.1,1.3l1.2,1.3l1.2,1.3l1.1,1.5l1.2,1.5l1.2,1.6l1.1,1.8l1.2,1.8l1.2,2.0l1.2,2.0l1.1,2.1l1.2,2.2l1.2,2.1l1.1,2.3l1.2,2.3l1.2,2.4l1.2,2.3l1.1,2.4l1.2,2.3l1.2,2.2l1.1,2.2l1.2,2.1l1.2,2.1l1.1,2.1l1.2,2.1l1.2,2.1l1.2,2.1l1.1,2.1l1.2,2.2l1.2,2.1l1.1,2.1l1.2,2.2l1.2,2.1l1.2,2.2l1.1,2.2l1.2,2.5l1.2,2.5l1.2,2.5l1.2,2.7l1.2,2.8l1.2,3.0l1.2,3.1l1.2,3.1l1.2,3.2l1.2,3.2l1.1,3.3l1.2,3.3" marker-start="url(#m250)" marker-mid="url(#m250)" marker-end="url(#m250)"/><path d="M55.5,281.8l1.1,.9l1.2,.9l1.2,.9l1.2,1.2l1.1,1.3l1.2,1.5l1.2,1.7l1.1,1.8l1.2,1.8l1.2,1.9l1.1,2.0l1.2,2.2l1.2,2.4l1.2,2.4l1.1,2.5l1.2,2.3l1.2,2.3l1.1,2.2l1.2,2.0l1.2,1.7l1.2,1.7l1.1,1.7l1.2,1.8l1.2,1.8l1.1,1.9l1.2,1.9l1.2,1.9l1.1,2.0l1.2,2.2l1.2,2.1l1.2,2.3l1.1,2.2l1.2,2.2l1.2,2.1l1.1,2.0l1.2,2.0l1.2,1.9l1.2,2.0l1.1,2.1l1.2,2.3l1.2,2.4l1.2,2.4l1.2,2.6l1.2,2.7l1.2,2.8l1.2,2.9l1.2,3.0l1.2,3.1" marker-start="url(#m250)" marker-mid="url(#m250)" marker-end="url(#m250)"/><path d="M55.1,292.5l.8,1.0l.7,.9l.8,1.0l.8,1.0l.8,1.0l.8,1.0l.7,1.1l.8,1.1l.8,1.1l.8,1.3l.8,1.5l.7,1.7l.8,1.8l.8,1.9l.8,2.0l.8,1.9l.7,1.7l.8,1.7l.8,1.6l.8,1.6l.8,1.5l.7,1.6l.8,1.6l.8,1.5l.8,1.6l.8,1.6l.8,1.5l.7,1.6l.8,1.5" marker-start="url(#m225t)" marker-mid="url(#m225t)" marker-end="url(#m225t)"/><path d="M90.6,303.5l1.2,1.6l1.1,1.4l1.2,1.4l1.2,1.1l1.1,.9l1.2,.6l1.2,.4l1.2,.2l1.1,.0l1.2,-.2l1.2,-.4l1.2,-.7l1.2,-.8l1.2,-.9l1.2,-1.1l1.2,-1.5" marker-start="url(#m75)" marker-mid="url(#m75)" marker-end="url(#m75)"/><path d="M161.2,265.3l.8,3.6l0,11.1l-.8,3.1l-.8,2.6l-.8,2.5l-.7,2.3l-.8,2.1l-.8,1.8l-.8,1.7l-.8,1.7l-.7,1.7l-.8,1.9l-.8,2.1l-.8,2.5l-.8,2.7l-.7,2.9l-.8,2.8l-.8,2.8l-.8,2.9l-.8,1.7l-.7,1.2l-.8,1.1l-.8,.9l-.8,.8l-.8,.7l-.8,.6l-.7,.4l-.8,.4l-.8,.2l-.8,.2l-.8,.1l-.8,.0l-.8,.1l-.8,.0l-.8,.0l-.8,.1l-.8,.0l-.8,.1l-.8,.1l-.8,.1l-.8,.2l-.7,.1l-.8,.1l-.8,.2l-.8,.1l-.8,.1l-.8,.2l-.8,.1l-.8,.2l-.8,.2l-.8,.2l-.8,.2l-.8,.2l-.8,.3l-.8,.3l-.8,.3l-.8,.4l-.8,.4l-.8,.5l-.8,.5l-.8,.4l-.8,.5l-.7,.3l-.8,.1l-.8,.1l-.8,.2l-.8,.7l-.8,1.0l-.8,1.4l-.8,1.5l-.8,1.8l-.8,1.8l-.8,1.8l-.8,1.9l-.8,1.8l-.8,1.7l-.8,1.6l-.8,1.6l-.8,1.6l-.8,1.6l-.7,1.5l-.8,1.5l-.8,1.6l-.8,1.5l-.8,1.6l-.7,1.5l-.8,1.5l-.8,1.5l-.8,1.6l-.8,1.6l-.7,1.6l-.8,1.7l-.8,1.7l-.8,1.7l-.8,1.8l-.7,1.7l-.8,1.8" marker-start="url(#m225t)" marker-mid="url(#m225t)" marker-end="url(#m225t)"/><path d="M117.8,342.3l1.2,3.2l1.2,2.0l1.2,1.6l1.2,1.3l1.2,1.2l1.2,.9l1.2,.8l1.2,.7l1.2,.7l1.2,.8l1.2,1.0l1.1,1.1l1.2,1.1l1.2,1.3l1.2,1.2l1.2,1.3l1.2,1.3l1.2,1.5l1.2,1.6l1.2,1.4l1.2,.9l1.1,.3l1.2,-.4l1.2,-1.1l1.1,-1.2l1.2,-1.4l1.2,-1.5l1.2,-1.7l1.1,-1.7l1.2,-1.7l1.2,-1.6l1.1,-1.7l1.2,-1.7l1.2,-1.6l1.1,-1.6l1.2,-1.3l1.2,-.9l1.2,-.2" marker-start="url(#m100)" marker-mid="url(#m100)" marker-end="url(#m100)"/><path d="M139.9,378.0l.6,-.2l.6,-.1l.6,-.1l.6,-.1l.6,-.1l.5,-.1l.6,-.1l.6,-.2l.6,-.1l.6,-.2l.6,-.3l.6,-.2l.5,-.3l.6,-.4l.6,-.4l.6,-.5l.6,-.5l.6,-.5l.6,-.5l.5,-.6l.6,-.6l.6,-.6l.6,-.7l.6,-.6l.6,-.7l.5,-.7l.6,-.7l.6,-.7l.6,-.9l.6,-.8l.6,-1.0l.6,-1.0l.5,-1.0l.6,-1.0l.6,-1.1l.6,-1.0l.6,-.9l.6,-.8l.6,-.8l.5,-.8l.6,-.7l.6,-.7l.6,-.7" marker-start="url(#m250t)" marker-mid="url(#m250t)" marker-end="url(#m250t)"/><path d="M144,386.0l1.2,-1.1l1.2,-1.1l1.1,-1.1l1.2,-1.1l1.2,-1.1l1.2,-1.2l1.1,-1.3l1.2,-1.5l1.2,-1.8l1.1,-2.0l1.2,-2.1l1.2,-2.2l1.1,-2.2l1.2,-1.8l1.2,-1.7l1.2,-1.6l1.1,-1.5l1.2,-1.5" marker-start="url(#m200)" marker-mid="url(#m200)" marker-end="url(#m200)"/><path d="M84.7,363.3l-.5,1.7l-.6,1.8l-.6,2.1l-.6,3.0l-.6,3.7l-.6,3.7" marker-start="url(#m150)" marker-mid="url(#m150)" marker-end="url(#m150)"/><path d="M119.6,369.1l.6,2.0l.6,2.1l.6,2.2l.6,2.2l.6,2.4l.6,2.4l.6,2.5" marker-start="url(#m150)" marker-mid="url(#m150)" marker-end="url(#m150)"/><path d="M55.5,353.0l1.1,3.8l1.2,3.8l1.2,3.9l1.2,3.8l1.1,3.9l1.2,4.3l1.2,5.1" marker-start="url(#m250)" marker-mid="url(#m250)" marker-end="url(#m250)"/></g>
<g fill="none" stroke="#2424e8" stroke-linecap="round" stroke-linejoin="round"><path d="M140.0,237.0L140.5,237.2L141.1,237.4L141.8,237.7L142.6,238.0L143.5,238.3L144.4,238.7L145.2,239.1L146.0,239.5L146.8,240.0L147.5,240.4L148.2,241.0L149.0,241.5L149.8,242.1L150.5,242.7L151.2,243.4L152.0,244.0L152.7,244.7L153.5,245.4L154.2,246.1L154.9,246.8L155.7,247.6L156.4,248.4L157.2,249.2L158.0,250.0L158.9,250.9L159.8,251.8L160.9,252.9L161.9,253.9L162.8,254.8L163.7,255.7L164.5,256.5L165.0,257.0" stroke-width="3.20"/><path d="M138.0,251.0L138.4,250.6L138.9,250.1L139.5,249.5L140.1,248.8L140.8,248.2L141.6,247.6L142.3,247.1L143.0,246.8L143.7,246.6L144.5,246.6L145.2,246.6L146.0,246.7L146.8,246.9L147.5,247.1L148.3,247.4L149.0,247.8L149.7,248.2L150.3,248.8L150.9,249.4L151.5,250.1L152.1,250.8L152.7,251.6L153.3,252.3L154.0,253.0L154.7,253.7L155.5,254.4L156.2,255.1L157.0,255.8L157.8,256.5L158.5,257.2L159.3,257.8L160.0,258.5L160.7,259.2L161.4,259.9L162.2,260.6L162.9,261.3L163.5,262.0L164.1,262.6L164.6,263.1L165.0,263.5" stroke-width="3.20"/><path d="M93.0,251.5L93.3,251.2L93.6,250.9L94.0,250.5L94.5,250.0L94.9,249.5L95.5,249.0L96.0,248.6L96.5,248.3L97.0,248.0L97.6,247.8L98.2,247.6L98.8,247.4L99.5,247.2L100.1,247.1L100.7,247.0L101.3,247.0L101.9,247.0L102.5,247.1L103.1,247.2L103.7,247.4L104.3,247.6L104.9,247.8L105.5,248.0L106.0,248.3L106.5,248.6L107.0,249.0L107.6,249.5L108.0,250.0L108.5,250.5L108.9,250.9L109.2,251.2L109.5,251.5" stroke-width="4.50"/><path d="M162.0,280.0L161.8,280.8L161.5,281.8L161.2,282.9L160.8,284.3L160.4,285.7L160.0,287.2L159.5,288.7L159.0,290.1L158.4,291.5L157.8,293.1L157.1,294.6L156.4,296.2L155.7,297.8L155.0,299.4L154.3,301.0L153.7,302.6L153.2,304.2L152.6,305.8L152.2,307.5L151.7,309.1L151.3,310.7L150.9,312.3L150.5,313.7L150.1,315.0L149.8,316.1L149.5,317.2L149.3,318.1L149.1,318.9L148.9,319.7L148.6,320.5L148.2,321.2L147.8,322.0L147.3,322.8L146.7,323.6L146.1,324.4L145.4,325.2L144.6,326.0L143.9,326.6L143.0,327.2L142.1,327.7L141.1,328.0L140.1,328.3L139.0,328.4L137.9,328.5L136.7,328.5L135.4,328.5L134.2,328.6L132.9,328.8L131.5,329.0L129.9,329.3L128.3,329.7L126.6,330.0L125.0,330.4L123.6,330.7L122.4,330.9L121.5,331.1" stroke-width="1.80"/><path d="M143.0,377.0L143.3,376.9L143.8,376.9L144.3,376.9L144.9,376.9L145.5,376.7L146.3,376.5L147.0,376.2L147.8,375.7L148.7,375.0L149.6,374.2L150.7,373.2L151.8,372.2L152.9,371.1L154.0,369.9L155.0,368.8L155.9,367.7L156.7,366.6L157.5,365.4L158.3,364.1L159.0,362.9L159.7,361.7L160.4,360.5L161.0,359.4L161.6,358.5L162.2,357.7L162.7,356.9L163.3,356.2L163.8,355.6L164.2,355.1L164.6,354.6L164.9,354.2L165.2,353.9" stroke-width="1.50"/></g>
</g>
<g clip-path="url(#cp1)">
<g fill="none" stroke="#ff3050"><path d="M196.9,8.7L197.4,9.5L198.0,10.6L198.7,11.9L199.5,13.4L200.4,15.0L201.2,16.7L202.0,18.4L202.7,20.2L203.3,22.1L204.0,24.2L204.6,26.4L205.2,28.7L205.7,31.0L206.3,33.2L206.8,35.4L207.2,37.4L207.6,39.3L207.9,41.2L208.2,43.1L208.5,44.8L208.7,46.5L209.0,48.1L209.2,49.6L209.5,51.0L209.8,52.2L210.2,53.4L210.5,54.4L210.9,55.4L211.2,56.2L211.5,56.9L211.8,57.5L212.0,58.0" stroke-width="0.72" opacity="0.8"/><path d="M214.9,35.3L215.6,35.3L216.6,35.4L217.8,35.5L219.1,35.6L220.5,35.6L221.9,35.7L223.2,35.8L224.4,35.9L225.5,35.9L226.7,36.0L227.8,36.0L229.0,36.0L230.1,36.0L231.2,36.1L232.2,36.2L233.2,36.5L234.1,36.9L235.0,37.4L235.9,38.1L236.7,38.8L237.5,39.4L238.3,40.1L239.2,40.6L240.1,41.0L241.0,41.3L242.0,41.4L242.9,41.5L243.9,41.5L244.9,41.5L245.9,41.5L247.0,41.6L248.1,41.6L249.3,41.7L250.5,41.8L251.8,41.9L253.1,42.0L254.4,42.0L255.7,42.1L256.9,42.2L258.0,42.2L259.0,42.2L259.9,42.1L260.8,42.0L261.6,42.0L262.4,41.9L263.1,41.8L263.9,41.9L264.6,42.0L265.3,42.2L266.0,42.5L266.7,42.8L267.3,43.2L268.0,43.6L268.6,44.0L269.3,44.5L270.0,45.0L270.7,45.5L271.5,46.1L272.2,46.6L273.0,47.2L273.7,47.9L274.5,48.6L275.2,49.3L276.0,50.0L276.8,50.8L277.5,51.6L278.3,52.5L279.1,53.4L279.8,54.4L280.6,55.3L281.3,56.2L282.0,57.0L282.7,57.8L283.4,58.7L284.2,59.6L284.9,60.4L285.5,61.2L286.1,61.9L286.6,62.5L287.0,63.0" stroke-width="1.44"/><path d="M206.9,25.0L207.2,25.5L207.7,26.3L208.2,27.1L208.8,28.1L209.5,29.1L210.2,30.1L210.8,31.0L211.5,31.9L212.1,32.7L212.8,33.5L213.5,34.3L214.2,35.0L214.9,35.8L215.6,36.4L216.4,37.1L217.2,37.6L218.0,38.1L218.9,38.5L219.7,38.8L220.6,39.1L221.5,39.4L222.5,39.6L223.4,39.8L224.4,39.9L225.5,40.0L226.6,40.0L227.8,39.9L229.0,39.8L230.1,39.7L231.3,39.6L232.3,39.4L233.2,39.3L234.0,39.1L234.8,38.9L235.4,38.7L236.0,38.4L236.6,38.2L237.1,37.9L237.5,37.7L237.8,37.6" stroke-width="0.80"/><path d="M176.9,65.1L177.8,64.6L178.9,63.9L180.2,63.0L181.7,62.1L183.3,61.2L185.0,60.2L186.7,59.4L188.3,58.6L190.0,58.0L191.8,57.4L193.7,56.8L195.6,56.3L197.5,55.8L199.4,55.3L201.1,54.8L202.6,54.3L204.0,53.8L205.2,53.2L206.4,52.6L207.4,52.1L208.4,51.5L209.4,51.0L210.3,50.5L211.2,50.0L212.1,49.6L212.8,49.2L213.5,48.8L214.2,48.4L214.9,48.1L215.5,47.7L216.2,47.5L217.0,47.2L217.8,47.0L218.6,46.8L219.5,46.6L220.3,46.4L221.2,46.3L222.2,46.2L223.1,46.2L224.1,46.2L225.2,46.3L226.3,46.4L227.5,46.6L228.7,46.8L229.9,47.0L231.1,47.3L232.2,47.6L233.2,47.9L234.1,48.2L234.9,48.5L235.6,48.9L236.2,49.2L236.9,49.6L237.6,50.1L238.2,50.7L239.0,51.4L239.8,52.2L240.6,53.0L241.5,53.9L242.3,54.9L243.2,56.0L244.1,57.2L244.9,58.5L245.8,60.0L246.6,61.8L247.5,63.8L248.3,66.1L249.2,68.5L250.0,70.8L250.9,73.0L251.7,75.0L252.6,76.7L253.5,78.1L254.3,79.2L255.2,80.2L256.1,81.0L257.0,81.7L257.9,82.3L258.7,82.9L259.5,83.5L260.3,84.0L261.0,84.6L261.7,85.0L262.4,85.4L263.0,85.6L263.7,85.8L264.4,85.9L265.2,85.8L266.0,85.5L266.9,85.1L267.8,84.4L268.8,83.7L269.7,83.0L270.6,82.3L271.4,81.7L272.1,81.2L272.7,80.9L273.3,80.7L273.8,80.5L274.3,80.4L274.7,80.3L275.1,80.2L275.4,80.2L275.6,80.1" stroke-width="1.28"/><path d="M176.9,65.1L177.6,65.6L178.5,66.3L179.6,67.2L180.8,68.1L182.0,69.0L183.3,69.9L184.4,70.8L185.5,71.5L186.5,72.1L187.4,72.7L188.3,73.2L189.1,73.7L190.0,74.2L190.9,74.6L191.7,74.9L192.6,75.1L193.5,75.3L194.4,75.3L195.2,75.4L196.1,75.3L197.0,75.2L197.9,75.0L198.8,74.8L199.8,74.4L200.8,73.9L201.9,73.3L202.9,72.7L204.0,71.9L205.1,71.1L206.2,70.3L207.3,69.4L208.4,68.6L209.5,67.7L210.6,66.8L211.7,65.8L212.8,64.9L213.9,63.9L215.0,63.0L216.0,62.2L217.0,61.5L218.0,60.9L218.9,60.4L219.7,60.0L220.6,59.7L221.4,59.4L222.3,59.1L223.2,58.9L224.1,58.6L225.1,58.3L226.0,58.1L227.0,57.8L228.1,57.6L229.1,57.4L230.1,57.3L231.1,57.2L232.0,57.2L232.9,57.3L233.8,57.4L234.7,57.5L235.5,57.8L236.4,58.1L237.2,58.4L238.0,58.9L238.9,59.5L239.7,60.3L240.6,61.5L241.4,62.8L242.2,64.1L243.1,65.4L243.9,66.5L244.8,67.2L245.8,67.5L246.8,67.3L248.0,66.7L249.1,65.7L250.3,64.6L251.6,63.3L252.7,62.0L253.9,60.7L254.9,59.5L255.9,58.3L256.9,57.1L258.0,55.7L258.9,54.4L259.8,53.1L260.6,52.0L261.3,51.0L261.8,50.3" stroke-width="0.96"/><path d="M209.8,62.9L210.9,63.0L212.5,63.2L214.4,63.5L216.5,63.8L218.6,64.0L220.6,64.2L222.5,64.3L224.1,64.3L225.4,64.2L226.5,63.9L227.5,63.6L228.4,63.2L229.3,62.8L230.2,62.3L231.1,61.9L232.0,61.5L233.0,61.1L234.2,60.6L235.3,60.1L236.5,59.6L237.6,59.1L238.6,58.6L239.4,58.3L240.0,58.0" stroke-width="0.80"/><path d="M198.0,78.0L198.6,77.4L199.5,76.5L200.5,75.4L201.6,74.2L202.7,73.1L203.9,71.9L205.0,70.9L206.0,70.0L206.9,69.3L207.7,68.7L208.5,68.2L209.3,67.8L210.1,67.3L211.0,66.9L211.9,66.5L213.0,66.0L214.2,65.4L215.5,64.7L216.9,64.0L218.3,63.3L219.8,62.7L221.2,62.2L222.7,61.8L224.1,61.7L225.5,61.8L226.9,62.1L228.2,62.6L229.6,63.2L231.0,63.9L232.3,64.6L233.7,65.3L235.0,66.0L236.4,66.7L237.8,67.5L239.3,68.4L240.7,69.3L242.0,70.1L243.2,70.9L244.2,71.5L245.0,72.0" stroke-width="0.80"/><path d="M202.6,100.0L202.9,99.2L203.3,98.2L203.8,97.0L204.4,95.7L205.0,94.3L205.6,92.8L206.3,91.4L206.9,90.1L207.5,88.8L208.2,87.5L208.9,86.2L209.6,84.8L210.4,83.5L211.1,82.3L211.9,81.1L212.7,80.1L213.5,79.1L214.4,78.3L215.4,77.4L216.3,76.7L217.3,76.0L218.2,75.4L219.0,74.8L219.8,74.4L220.4,74.1L221.0,73.8L221.5,73.7L221.9,73.7L222.3,73.6L222.8,73.7L223.4,73.7L224.1,73.7L224.9,73.7L225.8,73.7L226.7,73.6L227.7,73.7L228.8,73.7L229.8,73.8L230.9,74.1L232.0,74.4L233.1,74.9L234.2,75.4L235.4,76.1L236.6,76.9L237.8,77.7L239.0,78.5L240.1,79.3L241.2,80.1L242.3,80.9L243.3,81.7L244.3,82.6L245.3,83.5L246.3,84.4L247.2,85.2L248.2,86.1L249.2,87.0L250.2,87.9L251.3,88.8L252.3,89.8L253.4,90.7L254.4,91.6L255.4,92.5L256.3,93.3L257.2,93.9L258.0,94.3L258.7,94.6L259.3,94.7L259.9,94.7L260.5,94.8L261.1,95.1L261.8,95.5L262.6,96.3L263.5,97.3L264.5,98.5L265.5,99.8L266.6,101.3L267.7,103.0L268.8,104.8L269.9,106.8L271.0,109.0L272.1,111.5L273.1,114.3L274.2,117.3L275.3,120.5L276.3,123.7L277.4,126.7L278.4,129.6L279.5,132.2L280.6,134.6L281.8,136.8L283.0,139.0L284.2,141.0L285.4,142.9L286.4,144.5L287.3,145.9L287.9,147.0" stroke-width="1.44"/><path d="M232.0,65.2L232.5,65.9L233.2,66.8L234.0,67.9L234.9,69.1L235.8,70.4L236.9,71.7L237.9,73.1L238.9,74.4L240.0,75.8L241.1,77.3L242.3,78.9L243.6,80.5L244.8,82.0L246.0,83.5L247.1,84.7L248.0,85.8L248.7,86.7L249.3,87.4L249.7,87.9L250.0,88.4L250.4,88.8L250.9,89.0L251.6,89.2L252.6,89.3L253.9,89.2L255.6,88.9L257.4,88.4L259.4,87.9L261.3,87.4L263.2,87.0L265.0,86.8L266.4,87.0L267.6,87.4L268.5,88.1L269.4,88.9L270.1,89.8L270.8,90.9L271.5,92.1L272.2,93.5L273.0,95.0L273.9,96.7L274.7,98.7L275.6,100.9L276.5,103.2L277.4,105.5L278.2,107.8L279.1,110.0L280.0,112.0L280.9,113.9L281.9,115.8L282.9,117.7L283.9,119.6L284.9,121.3L285.7,122.8L286.5,124.0L287.0,125.0" stroke-width="0.80"/><path d="M177.2,147.0L177.9,145.9L178.9,144.5L180.1,142.8L181.4,140.9L182.8,138.9L184.2,136.7L185.5,134.5L186.7,132.2L187.8,129.9L189.0,127.4L190.1,124.8L191.2,122.2L192.4,119.4L193.4,116.6L194.5,113.8L195.5,111.0L196.5,108.1L197.4,104.9L198.3,101.7L199.2,98.5L200.0,95.3L200.9,92.3L201.7,89.6L202.6,87.3L203.5,85.3L204.6,83.6L205.6,82.1L206.6,80.8L207.6,79.7L208.5,78.7L209.2,77.9L209.8,77.2" stroke-width="0.64" opacity="0.8"/><path d="M254.9,14.5L255.3,14.9L255.9,15.4L256.7,16.0L257.4,16.7L258.3,17.4L259.1,18.0L259.9,18.6L260.7,19.0L261.4,19.3L262.2,19.6L262.9,19.9L263.7,20.1L264.4,20.2L265.1,20.3L265.8,20.3L266.4,20.2L267.0,20.0L267.5,19.6L268.0,19.1L268.5,18.6L268.9,18.0L269.2,17.5L269.6,17.1L269.8,16.8" stroke-width="0.72"/><path d="M254.9,21.3L255.3,22.5L255.7,24.3L256.3,26.4L256.9,28.7L257.6,31.0L258.2,33.1L258.9,34.9L259.5,36.2L260.1,37.1L260.6,37.8L261.2,38.2L261.7,38.5L262.3,38.5L262.9,38.3L263.5,38.0L264.1,37.4L264.8,36.5L265.5,35.2L266.3,33.6L267.1,31.9L267.9,30.1L268.6,28.4L269.2,27.0L269.8,25.9L270.3,25.2L270.7,24.6L271.0,24.3L271.3,24.0L271.6,23.9L271.8,23.8L271.9,23.7L272.1,23.6" stroke-width="0.88"/><path d="M271.0,23.6L271.5,24.0L272.3,24.6L273.2,25.4L274.2,26.1L275.2,27.0L276.2,27.8L277.1,28.6L277.9,29.4L278.6,30.1L279.2,30.9L279.8,31.6L280.3,32.3L280.8,33.0L281.3,33.8L281.8,34.4L282.4,35.1L283.0,35.8L283.7,36.4L284.4,37.1L285.1,37.8L285.7,38.4L286.3,38.9L286.8,39.4L287.2,39.7" stroke-width="0.64" opacity="0.8"/><path d="M273.3,54.9L273.8,55.3L274.5,55.7L275.3,56.3L276.3,56.9L277.2,57.6L278.2,58.2L279.2,58.9L280.1,59.5L281.1,60.1L282.2,60.7L283.3,61.3L284.4,61.9L285.5,62.4L286.3,63.0L286.9,63.5L287.2,64.0L287.1,64.5L286.6,65.0L285.9,65.5L285.0,66.0L284.0,66.5L283.0,66.8L282.1,66.9L281.3,66.9L280.6,66.6L279.8,66.1L279.0,65.4L278.3,64.6L277.6,63.8L276.9,63.1L276.4,62.4L276.0,62.0" stroke-width="0.96"/><path d="M176.6,338.9L177.4,339.2L178.4,339.5L179.7,339.9L181.1,340.4L182.6,340.9L184.1,341.4L185.7,341.8L187.2,342.2L188.7,342.6L190.3,342.9L192.0,343.3L193.6,343.6L195.3,343.9L197.0,344.2L198.7,344.3L200.4,344.4L202.1,344.3L203.7,344.2L205.4,343.9L207.1,343.6L208.7,343.2L210.4,342.9L212.0,342.5L213.5,342.2L215.0,341.9L216.4,341.6L217.8,341.2L219.2,340.9L220.6,340.6L221.9,340.3L223.2,340.1L224.5,340.0L225.8,340.0L227.2,340.1L228.6,340.2L229.9,340.4L231.2,340.6L232.3,340.8L233.3,341.0L234.0,341.1" stroke-width="1.04"/><path d="M264.3,335.7L265.2,335.8L266.5,335.9L268.0,336.0L269.7,336.1L271.4,336.3L273.2,336.4L274.9,336.6L276.4,336.8L277.9,337.0L279.4,337.3L280.9,337.6L282.4,338.0L283.8,338.3L285.1,338.6L286.1,338.8L286.9,339.0" stroke-width="1.04"/><path d="M251.2,315.7L264.3,318.1" stroke-width="0.80"/><path d="M245.0,303.0L245.8,304.1L246.8,305.6L248.0,307.4L249.4,309.4L250.9,311.5L252.3,313.7L253.7,315.9L255.0,318.0L256.3,320.2L257.6,322.6L258.9,325.2L260.3,327.8L261.5,330.2L262.6,332.5L263.6,334.3L264.3,335.7" stroke-width="0.72" opacity="0.8"/><path d="M267.5,290.0L264.3,312.0" stroke-width="0.80"/><path d="M176.6,378.4L177.1,377.9L177.7,377.1L178.5,376.2L179.3,375.3L180.2,374.3L181.1,373.4L182.0,372.6L182.8,371.9L183.6,371.4L184.4,371.0L185.2,370.7L186.0,370.5L186.8,370.3L187.6,370.1L188.5,369.9L189.4,369.7L190.4,369.5L191.5,369.3L192.6,369.1L193.8,368.9L194.9,368.7L195.9,368.5L196.8,368.4L197.4,368.3" stroke-width="0.80"/><path d="M228.0,339.0L228.7,339.8L229.6,341.0L230.7,342.3L231.8,343.8L233.1,345.4L234.4,347.0L235.6,348.5L236.8,350.0L237.9,351.5L239.0,353.1L240.1,354.7L241.2,356.3L242.3,357.8L243.4,359.2L244.5,360.3L245.6,361.0L246.7,361.4L247.8,361.5L248.9,361.4L249.9,361.1L251.0,360.7L252.1,360.1L253.2,359.5L254.4,358.8L255.7,358.0L257.0,356.9L258.5,355.6L259.9,354.3L261.3,352.9L262.5,351.7L263.5,350.7L264.3,350.0" stroke-width="0.80"/><path d="M216.0,381.0L216.7,380.6L217.6,380.1L218.6,379.4L219.8,378.8L221.0,378.1L222.2,377.5L223.4,377.1L224.5,377.0L225.5,377.1L226.6,377.5L227.7,378.1L228.8,378.8L229.8,379.4L230.7,380.1L231.4,380.6L232.0,381.0" stroke-width="0.80"/><path d="M287.0,300.0L286.5,301.6L285.7,303.7L284.8,306.3L283.9,309.1L282.9,312.0L281.8,314.9L280.9,317.6L280.0,320.0L279.2,322.2L278.3,324.5L277.4,326.7L276.6,328.8L275.8,330.7L275.1,332.4L274.5,333.9L274.0,335.0" stroke-width="0.80"/></g>
<g fill="none" stroke="#9040d0"></g>
<g fill="none" stroke="none"><path d="M178,78.5l1.1,-1.7l1.2,-1.8l1.2,-2.0l1.2,-2.3l1.1,-2.4l1.2,-2.5l1.2,-2.7l1.1,-2.8l1.2,-3.4l1.2,-4.7l1.1,-4.1l1.2,-3.9l1.2,-4.0l1.2,-4.2l1.1,-4.7l1.2,-5.4l1.2,-4.9l1.1,-4.1l1.2,-3.8l1.2,-3.1l1.2,-1.4l1.1,.7l1.2,2.3l1.2,2.8l1.1,3.8l1.2,4.6l1.2,3.1l1.1,2.9l1.2,2.5l1.2,2.1l1.2,1.5l1.1,1.0l1.2,.6l1.2,.4l1.1,.3l1.2,.2l1.2,.1l1.2,.1l1.1,.0l1.2,.0l1.2,.0l1.2,-.1l1.2,-.2l1.2,-.2l1.2,-.3l1.2,-.4l1.2,-.5l1.2,-.6l1.2,-.9l1.1,-1.1l1.2,-1.3l1.2,-1.5l1.2,-1.5l1.2,-1.8l1.2,-2.1l1.2,-3.0l1.2,-4.5l1.2,-5.3l1.2,-3.9l1.2,-1.9" marker-start="url(#m200)" marker-mid="url(#m200)" marker-end="url(#m200)"/><path d="M209.2,28.0l.9,1.8l.9,1.8l.9,1.7l.9,1.4l.9,1.1l.9,.9l.9,.7l.9,.7" marker-start="url(#m150)" marker-mid="url(#m150)" marker-end="url(#m150)"/><path d="M178,42.7l1.1,-1.9l1.2,-2.0l1.2,-2.0l1.2,-2.0l1.1,-2.1l1.2,-2.3l1.2,-2.5l1.1,-2.9l1.2,-3.2l1.2,-3.3l1.1,-3.1l1.2,-2.7l1.2,-2.4l1.2,-2.3l1.1,-2.2" marker-start="url(#m75)" marker-mid="url(#m75)" marker-end="url(#m75)"/><path d="M177.7,44.2l.9,1.4l.9,1.4l.9,1.4l.9,1.3l.9,1.3l.9,1.1l.9,1.2l.9,1.0l.9,1.0l.9,.8l.9,.7l.9,.5l.9,.4l.9,.3l.9,.2l.9,.1l.9,.1l.9,-.1l.9,-.2l.9,-.3l.9,-.5l.9,-.6l.9,-.8l.9,-.8l.9,-1.0l.9,-.9l.9,-1.0l.9,-1.1l.9,-1.1l.9,-1.4l.9,-1.4l.9,-1.4l.9,-1.2l.9,-.9l.9,-.5l.9,-.2l.9,.2l.9,.5l.9,.7l.9,1.0l.9,1.4l.9,1.4l.9,1.2l.9,.9l.9,.8l.9,.9l.9,.7l.9,.7l.9,.6l.9,.5l.9,.4l.9,.2l1,-.1l.9,-.2l.9,-.3l.9,-.4l1,-.5l.9,-.6l.9,-.6l.9,-.6l.9,-.8l1,-1.0l.9,-1.1l.9,-1.1l.9,-1.4l1,-1.5l.9,-1.6l.9,-1.6l.9,-1.4l.9,-1.4l1,-1.7l.9,-2.3l.9,-3.0l.9,-3.3" marker-start="url(#m175)" marker-mid="url(#m175)" marker-end="url(#m175)"/><path d="M177.7,94.3l.9,.1l.9,.0l.9,-.1l.9,.0l.9,-.1l.9,-.2l.9,-.3l.9,-.4l.9,-.5l.9,-.6l.9,-.8l.9,-.8l.9,-.8l.9,-1.0l.9,-.9l.9,-1.0l.9,-1.0l.9,-1.0l.9,-1.1l.9,-1.1l.9,-1.1l.9,-1.2l.9,-1.4l.9,-1.4l.9,-1.4l.9,-1.3l.9,-1.3l.9,-1.1l.9,-1.0l.9,-.9l.9,-1.0l.9,-.8l.9,-.9l.9,-.8l.9,-.8l.9,-.8l.9,-.6l.9,-.4" marker-start="url(#m175)" marker-mid="url(#m175)" marker-end="url(#m175)"/><path d="M177.7,96.6l.9,-3.3l.9,-2.7l.9,-2.3l.9,-2.2l.9,-2.1l.9,-2.3l.9,-2.2l.9,-2.2l.9,-2.3l.9,-2.2l.9,-2.4l.9,-2.3l.9,-2.5l.9,-2.5l.9,-2.7" marker-start="url(#m150)" marker-mid="url(#m150)" marker-end="url(#m150)"/><path d="M212.8,66.3l.8,4.3l.8,4.2l.9,4.2l.8,4.2l.8,4.4l.9,4.2l.8,3.3l.8,2.6l.9,1.9l.8,1.6l.9,1.3l.8,.8l.8,.3l.9,-.3l.8,-.9l.9,-1.3l.8,-1.6l.8,-2.1l.9,-2.6l.8,-3.4l.9,-4.0l.8,-4.5l.9,-6.7l.8,-9.0l.9,-4.4l.8,-2.3l.9,-1.5" marker-start="url(#m250)" marker-mid="url(#m250)" marker-end="url(#m250)"/><path d="M177.7,123.6l.9,-.1l.9,-.1l.9,-.1l.9,-.2l.9,-.3l.9,-.3l.9,-.5l.9,-.7l.9,-.8l.9,-.9l.9,-1.0l.9,-1.0l.9,-1.1l.9,-1.2l.9,-1.3l.9,-1.4l.9,-1.5l.9,-1.7l.9,-1.8l.9,-2.0l.9,-2.0l.9,-2.1l.9,-2.2l.9,-2.2l.9,-2.2l.9,-2.1l.9,-2.1l.9,-2.1l.9,-2.2" marker-start="url(#m150)" marker-mid="url(#m150)" marker-end="url(#m150)"/><path d="M178.6,90.2l.5,.3l.6,.4l.6,.3l.6,.4l.6,.4l.6,.3l.6,.3l.5,.3l.6,.3l.6,.3l.6,.3l.6,.2l.6,.1l.6,.1l.5,-.1l.6,-.3l.6,-.5l.6,-.6l.6,-.8l.6,-1.0l.5,-.8" marker-start="url(#m125)" marker-mid="url(#m125)" marker-end="url(#m125)"/><path d="M246.7,8.2l.9,.2l.9,.2l.9,.3l1,.2l.9,.2l.9,.2l.9,.2l.9,.1l1,.1l.9,.0l.9,-.2l.9,-.2l1,-.3l.9,-.3l.9,-.2l.9,-.1l.9,-.2l1,-.2l.9,-.1l.9,.0l.9,.3l.9,.8l.9,1.1l.9,1.5l.9,1.7l.9,2.1l.9,2.3l.9,4.1l.9,3.6l.9,2.2l.9,1.9l.9,1.8l.9,1.6l.9,1.6l.9,1.6l.9,1.6l.9,1.4l.9,1.3l.9,1.2l.9,.9l.9,.7l.9,.6l.9,.6l.9,.5" marker-start="url(#m175)" marker-mid="url(#m175)" marker-end="url(#m175)"/><path d="M252.3,27.4l1.2,4.7l1.1,6.2l1.2,7.5l1.2,6.5l1.2,6.0l1.2,6.9l1.2,5.4l1.2,2.5l1.2,1.4" marker-start="url(#m250)" marker-mid="url(#m250)" marker-end="url(#m250)"/><path d="M264.2,75.5l.9,-.1l.9,-.1l.9,-.1l.9,.0l.9,.0l.9,.2l.9,.4l.9,.6l.9,.6l.9,.8l.9,.8l.9,.9l.9,.9l.9,1.0l.9,1.1l.9,1.2l.9,1.3l.9,1.2l.9,1.2l.9,1.3l.9,1.2l.9,1.3l.9,1.3l.9,1.3l.9,1.3" marker-start="url(#m175)" marker-mid="url(#m175)" marker-end="url(#m175)"/><path d="M267.8,48.4l.9,1.4l.9,1.3l.9,1.4l.9,1.3l.9,1.4l.9,1.4l.9,1.5l.9,1.5l.9,1.5l.9,1.4l.9,1.2l.9,1.1l.9,.9l.9,.4l.9,.2l.9,.0l.9,-.1l.9,-.2l.9,-.2l.9,-.2l.9,-.3" marker-start="url(#m150)" marker-mid="url(#m150)" marker-end="url(#m150)"/><path d="M252.2,90.1l.9,.5l.9,.4l1,.5l.9,.4l.9,.4l.9,.5l1,.5l.9,.5l.9,.5l.9,.6l.9,.6l1,.7l.9,.7l.9,.9l.9,1.1l.9,1.2l.9,1.5l.9,1.6l.9,1.7l.9,1.7l.9,1.7l.9,1.6l.9,1.3l.9,1.3l.9,1.2l.9,1.3l.9,1.1l.9,1.2l.9,1.1l.9,1.0l.9,1.0l.9,.9l.9,.8l.9,.7l.9,.5l.9,.4l.9,.4l.9,.3l.9,.3" marker-start="url(#m150)" marker-mid="url(#m150)" marker-end="url(#m150)"/><path d="M280.6,89.7l.6,-.3l.5,-.3l.6,-.3l.6,-.3l.6,-.3l.6,-.3l.6,-.3l.6,-.3l.5,-.3l.6,-.3l.6,-.3l.6,-.2" marker-start="url(#m125)" marker-mid="url(#m125)" marker-end="url(#m125)"/><path d="M176.8,265.4l.8,-4.5l.8,-3.3l.7,-3.1l.8,-2.7l.8,-2.2l.8,-1.9l.8,-1.7l.7,-1.5l.8,-1.4l.8,-1.3l.8,-1.4l.8,-1.2l.7,-1.3l.8,-1.3l.8,-1.2l.8,-1.3l.8,-1.1l.7,-1.2l.8,-1.1l.8,-1.1l.8,-1.1l.8,-1.2l.7,-1.1l.8,-1.2l.8,-1.4l.8,-1.5l.8,-1.6l.8,-1.6l.7,-1.6l.8,-1.5l.8,-1.4l.8,-1.4l.8,-1.1l.7,-1.0l.8,-.9l.8,-.8l.8,-.6l.8,-.5l.7,-.4l.8,-.4l.8,-.3l.8,-.2l.8,-.3l.7,-.2l.8,-.1l.8,-.2l.8,-.1l.8,-.1l.7,-.1l.8,-.1l.8,-.1l.8,.0l.8,-.1l.7,.0l.8,-.1l.8,.0l.8,.0l.8,.0l.7,-.1l.8,.0l.8,.0l.8,.0l.8,.0l.8,.0l.8,.0l.8,.0l.8,.1l.8,.1l.8,.1l.8,.1l.8,.2l.8,.2l.8,.2l.8,.2l.8,.3l.8,.3l.7,.4l.8,.4l.8,.4l.8,.4l.8,.5l.8,.5l.8,.5l.8,.6l.8,.6l.8,.6l.8,.6l.8,.6l.8,.7l.8,.6l.8,.7l.8,.7l.8,.8l.8,.8l.8,.8l.8,1.2l.8,3.1l.7,2.0l.8,1.0l.8,.8l.8,.8l.8,.7l.8,.6l.8,.7l.8,.6l.8,.5l.8,.6l.8,.5l.8,.5l.8,.5l.8,.4l.8,.3l.7,.3l.8,.2l.8,.2l.8,.3l.8,.2l.8,.2l.7,.4l.8,.4l.8,.4l.8,.6l.8,.6l.7,.7l.8,.8l.8,.7l.8,.8l.8,.9l.7,.8l.8,.9l.8,.9l.8,.8l.8,.9l.7,.9l.8,.9l.8,1.0l.8,1.0l.8,1.0l.7,1.0" marker-start="url(#m225t)" marker-mid="url(#m225t)" marker-end="url(#m225t)"/><path d="M242.1,286.5l.6,-1.6l.6,-1.6l.6,-1.5l.6,-1.6l.6,-1.6l.6,-1.6l.6,-1.5l.6,-1.6l.6,-1.6l.6,-1.7l.6,-1.6l.6,-1.7l.6,-1.6l.6,-1.6l.6,-1.6l.6,-1.6l.6,-1.5l.6,-1.6l.6,-1.5l.5,-1.6l.6,-1.6l.6,-1.5l.6,-1.4l.6,-1.3l.6,-1.1l.6,-1.0l.6,-.9l.6,-.8l.6,-.8l.6,-.7l.6,-.6l.6,-.6l.6,-.5l.6,-.4l.6,-.4l.6,-.4l.6,-.3l.6,-.2l.6,-.1l.5,.0l.6,.0l.6,.1l.6,.2l.6,.2l.6,.3l.6,.3l.5,.3l.6,.4l.6,.4l.6,.4l.6,.4l.6,.4l.6,.5l.5,.5l.6,.6l.6,.5l.6,.6l.6,.6l.6,.7l.5,.6l.6,.7l.6,.7l.6,.7l.6,.8l.6,.7l.6,.8l.5,.9l.6,.8l.6,.8l.6,.9l.6,.9l.6,.8l.6,.9l.5,.9l.6,.9" marker-start="url(#m250t)" marker-mid="url(#m250t)" marker-end="url(#m250t)"/><path d="M176.8,342.5l.9,-3.4l.9,-3.0l.9,-2.9l.9,-2.9l.9,-2.7l.9,-2.5l.9,-2.4l.9,-2.3l.9,-2.3l.9,-2.2l.9,-2.1l.9,-2.0l.9,-1.9l.9,-1.7l.9,-1.4l.9,-1.2l.9,-1.1l.9,-.9l.9,-.9l.9,-1.0l.9,-1.2l.9,-1.6l.9,-2.0l.9,-2.8l.9,-3.8l.9,-6.7l.9,-6.1l.9,-4.7l.9,-4.0l.9,-3.3l.9,-3.0l.9,-2.6l.9,-2.5l.9,-2.3l.9,-2.2l.9,-2.3l.9,-2.2l.9,-2.0l.9,-1.6l.9,-1.3l.9,-.9l.9,-.8l.9,-.6l.9,-.5l.9,-.5l.9,-.5l.9,-.3l.9,-.4l.9,-.2l.9,-.2l.9,-.2l.9,.0l.9,.2l1,.4l.9,.7l.9,.9l.9,1.1l1,1.1l.9,1.2l.9,1.1l.9,1.3l.9,1.3l1,1.4l.9,1.5l.9,1.6l.9,1.9l1,2.5l.9,3.4l.9,3.9l.9,3.4l.9,3.3l1,3.2l.9,3.2l.9,3.0l.9,2.6l.9,2.5l1,2.8l.9,3.8l.9,6.3l.9,6.3l1,6.7l.9,7.3l.9,5.3l.9,3.6l.9,2.9l1,2.8l.9,3.1l.9,4.1l.9,6.9l1,8.5l.9,6.1l.9,5.3l.9,5.5l.9,5.6l1,5.3" marker-start="url(#m250)" marker-mid="url(#m250)" marker-end="url(#m250)"/><path d="M217.8,256.3l-1.2,6.5l-1.2,5.6l-1.1,10.5l-1.2,4.2l-1.2,10.3l-1.2,10.4l-1.1,7.1l-1.2,6.8l-1.2,6.2l-1.1,6.7l-1.2,7.1l-1.2,7.0l-1.1,7.1l-1.2,8.3l-1.2,5.9l-1.2,3.8l-1.1,3.3l-1.2,3.2l-1.2,3.7l-1.1,4.5" marker-start="url(#m250)" marker-mid="url(#m250)" marker-end="url(#m250)"/><path d="M226,251.3l1.2,3.3l1.2,3.5l1.2,4.3l1.2,6.7l1.2,4.6l1.2,6.0l1.2,8.5l1.2,9.9l1.1,9.7l1.2,6.5l1.2,5.6l1.2,5.9" marker-start="url(#m250)" marker-mid="url(#m250)" marker-end="url(#m250)"/><path d="M204.3,293.8l.6,-.3l.6,-.3l.6,-.3l.6,-.3l.5,-.3l.6,-.3l.6,-.3l.6,-.3l.6,-.4l.6,-.3l.5,-.4l.6,-.4l.6,-.4l.6,-.4l.6,-.5l.6,-.5l.6,-.4l.5,-.4l.6,-.4l.6,-.4l.6,-.3l.6,-.3l.6,-.2l.6,-.2l.5,-.2l.6,-.2l.6,-.1l.6,-.2l.6,-.1l.6,-.1l.6,-.1l.5,.0l.6,-.1l.6,.0l.6,.0l.6,.0l.6,.1l.6,.0l.6,.1l.6,.1l.6,.1l.6,.2l.6,.1l.6,.2l.6,.2l.6,.2l.6,.3l.6,.3l.6,.3l.6,.3l.6,.4l.6,.4l.6,.4l.6,.4l.5,.4l.6,.5l.6,.4l.6,.4l.6,.5l.6,.4l.6,.5l.6,.5l.6,.6l.6,.5l.6,.5" marker-start="url(#m100)" marker-mid="url(#m100)" marker-end="url(#m100)"/><path d="M176.8,266.3l1.2,.7l1.1,.7l1.2,.8l1.2,.8l1.2,.8l1.1,.8l1.2,.9l1.2,1.0l1.1,1.0l1.2,1.0l1.2,1.2l1.1,1.3l1.2,1.6l1.2,1.7l1.2,1.9l1.1,2.1l1.2,2.1l1.2,2.2l1.1,2.3l1.2,1.8l1.2,1.6l1.2,4.7l1.1,7.3l1.2,9.3l1.2,9.3l1.1,8.4l1.2,6.7l1.2,4.6l1.1,3.1l1.2,2.1l1.2,1.6l1.2,1.3l1.1,1.0l1.2,1.1l1.2,1.2l1.1,1.5l1.2,1.2l1.2,1.1l1.2,1.0l1.1,1.1l1.2,1.2l1.2,1.3l1.2,1.3l1.2,1.4l1.2,1.3l1.2,1.4l1.2,1.4l1.2,1.4l1.2,1.6l1.2,1.6l1.1,1.8l1.2,1.8l1.2,1.8l1.2,1.9l1.2,1.9" marker-start="url(#m225)" marker-mid="url(#m225)" marker-end="url(#m225)"/><path d="M176.8,273.5l1.2,.7l1.1,.6l1.2,.7l1.2,.8l1.2,.8l1.1,.8l1.2,1.1l1.2,1.2l1.1,1.2l1.2,1.4l1.2,1.5l1.1,1.7l1.2,1.9l1.2,2.3l1.2,2.7l1.1,3.0l1.2,2.8l1.2,2.4l1.1,2.1l1.2,2.0l1.2,1.9l1.2,2.1l1.1,2.2l1.2,2.4l1.2,2.4l1.1,2.4l1.2,2.3l1.2,2.2l1.1,2.2l1.2,2.2l1.2,2.1l1.2,1.9l1.1,1.7l1.2,1.5l1.2,1.3l1.1,1.2l1.2,1.0l1.2,1.0l1.2,1.0l1.1,1.0l1.2,1.1l1.2,1.1l1.2,1.1l1.2,1.1l1.2,1.1l1.2,1.2l1.2,1.1l1.2,1.2l1.2,1.2l1.2,1.2l1.1,1.2l1.2,1.2l1.2,1.3l1.2,1.3l1.2,1.3l1.2,1.3l1.2,1.4l1.2,1.5l1.2,1.6l1.2,1.8l1.2,1.8l1.2,2.0l1.2,2.1l1.2,2.1l1.2,2.2l1.1,2.4l1.2,2.4l1.2,2.5" marker-start="url(#m225)" marker-mid="url(#m225)" marker-end="url(#m225)"/><path d="M176.8,304.0l1.2,1.2l1.1,1.2l1.2,1.2l1.2,1.2l1.2,1.2l1.1,1.2l1.2,1.2l1.2,1.3l1.1,1.3l1.2,1.3l1.2,1.3l1.1,1.4l1.2,1.3l1.2,1.4l1.2,1.5l1.1,1.4l1.2,1.5l1.2,1.5l1.1,1.5l1.2,1.6l1.2,1.6l1.2,1.6l1.1,1.7l1.2,1.6l1.2,1.7l1.1,1.7l1.2,1.7l1.2,1.7l1.1,1.8l1.2,1.8l1.2,1.8l1.2,1.8l1.1,1.8l1.2,1.7l1.2,1.6l1.1,1.5l1.2,1.2l1.2,1.1l1.2,1.0l1.1,1.1l1.2,1.2l1.2,1.4l1.2,1.3l1.2,1.4l1.2,1.4l1.2,1.4l1.2,1.4l1.2,1.3" marker-start="url(#m200)" marker-mid="url(#m200)" marker-end="url(#m200)"/><path d="M202.6,295.1l.5,.8l.6,.9l.6,.8l.6,.9l.6,.8l.6,.9l.6,.8l.5,.9l.6,.8l.6,.9l.6,.9l.6,.9l.6,.9l.5,1.0l.6,1.0l.6,1.0l.6,1.2l.6,1.2l.6,1.3l.6,1.3l.5,1.3l.6,1.3l.6,1.2l.6,1.2l.6,1.0l.6,.9l.6,.8l.5,.7l.6,.6l.6,.6l.6,.5l.6,.4l.6,.4l.6,.3l.5,.1l.6,.1l.6,.0l.6,-.1l.6,-.2l.6,-.4l.6,-.5l.6,-.5l.6,-.6l.6,-.7l.6,-.7l.6,-.8l.6,-.7l.6,-.9l.6,-.8l.6,-1.0l.6,-1.2l.6,-1.6l.6,-1.7l.6,-1.7l.6,-1.8l.6,-1.9l.6,-1.9l.5,-1.9l.6,-2.0l.6,-1.9" marker-start="url(#m175)" marker-mid="url(#m175)" marker-end="url(#m175)"/><path d="M176.8,344.0l1.2,3.9l1.1,3.9l1.2,3.8l1.2,3.6l1.2,3.5l1.1,3.5l1.2,3.5l1.2,3.5l1.1,3.5l1.2,3.4" marker-start="url(#m225)" marker-mid="url(#m225)" marker-end="url(#m225)"/><path d="M228.4,327.8l.6,-.4l.6,-.4l.6,-.4l.6,-.3l.6,-.4l.6,-.4l.6,-.4l.6,-.3l.6,-.4l.6,-.4l.6,-.3l.6,-.4l.6,-.3l.5,-.4l.6,-.3l.6,-.3l.6,-.4l.6,-.3l.6,-.3l.6,-.3l.6,-.3l.6,-.3l.6,-.3l.6,-.3l.6,-.3l.6,-.3l.6,-.3l.6,-.2l.6,-.3l.6,-.2l.6,-.2l.6,-.2l.6,-.1l.6,-.2l.6,-.1l.6,-.1l.6,.0l.6,-.1l.6,.0l.6,.1l.6,.0l.6,.1l.5,.1l.6,.1l.6,.1l.6,.1l.6,.1l.6,.1l.6,.1l.6,.1l.6,.1l.6,.1l.6,.1l.6,.1l.6,.0l.6,.1l.6,.0l.6,-.1l.6,.0l.6,-.2l.6,-.2l.6,-.2l.5,-.3l.6,-.4l.6,-.5l.6,-.5l.6,-.6l.6,-.7l.6,-.7l.5,-.9l.6,-.8l.6,-.8l.6,-.8l.6,-.8l.6,-.9l.6,-.9l.5,-.9l.6,-1.0l.6,-1.0l.6,-1.1l.6,-1.0l.6,-1.1l.5,-1.0l.6,-1.0l.6,-.9l.6,-.9l.6,-.7l.6,-.6l.6,-.7l.5,-.9l.6,-1.1l.6,-1.1l.6,-1.1l.6,-1.2l.6,-1.2l.6,-1.2l.5,-1.2l.6,-1.2" marker-start="url(#m175)" marker-mid="url(#m175)" marker-end="url(#m175)"/><path d="M235.6,333.7l.6,-.3l.5,-.4l.6,-.3l.6,-.4l.6,-.3l.6,-.4l.6,-.3l.6,-.4l.6,-.3l.6,-.4l.6,-.3l.6,-.3l.6,-.4l.6,-.3l.6,-.3l.6,-.3l.6,-.3l.6,-.3l.6,-.3l.6,-.3l.6,-.3l.6,-.3l.6,-.2l.6,-.2l.6,-.3l.6,-.2l.6,-.1l.6,-.2l.6,-.2l.6,-.1l.5,-.1l.6,-.1l.6,-.1l.6,-.1l.6,-.1l.6,-.1l.6,-.1l.6,-.1l.6,-.1l.6,-.1l.6,.0l.6,-.1l.6,-.1l.6,-.2l.6,-.1l.6,-.1l.6,-.2l.6,-.2l.6,-.2l.6,-.2l.5,-.2l.6,-.2l.6,-.2l.6,-.3l.6,-.2l.6,-.3l.6,-.3l.5,-.4l.6,-.4l.6,-.5l.6,-.5l.6,-.5l.6,-.6l.6,-.6l.5,-.7l.6,-.7l.6,-.8l.6,-.8l.6,-.8l.6,-.9l.5,-.9l.6,-.9l.6,-.9l.6,-.9l.6,-1.0l.6,-.9l.6,-.9l.5,-.9l.6,-.9l.6,-.9l.6,-.9l.6,-.9l.6,-1.0l.6,-.9l.5,-1.0l.6,-1.0" marker-start="url(#m150)" marker-mid="url(#m150)" marker-end="url(#m150)"/><path d="M261.8,369.5l1.2,-.3l1.2,-.3l1.2,-.4l1.1,-.4l1.2,-.4l1.2,-.4l1.1,-.6l1.2,-.7l1.2,-1.0l1.2,-1.3l1.1,-1.8l1.2,-2.1l1.2,-2.4l1.1,-2.3l1.2,-2.2l1.2,-2.5l1.1,-2.5l1.2,-2.2l1.2,-1.6l1.2,-1.3l1.1,-1.1" marker-start="url(#m250)" marker-mid="url(#m250)" marker-end="url(#m250)"/><path d="M266.5,385.4l1.2,-1.4l1.2,-1.3l1.1,-1.4l1.2,-1.3l1.2,-1.5l1.2,-1.5l1.1,-1.6l1.2,-1.8l1.2,-2.0l1.1,-2.1l1.2,-2.2l1.2,-2.4l1.1,-2.4l1.2,-2.5l1.2,-2.7l1.2,-2.9l1.1,-3.0" marker-start="url(#m225)" marker-mid="url(#m225)" marker-end="url(#m225)"/><path d="M286,271.4l-.7,1.8l-.8,1.8l-.8,1.8l-.8,1.6l-.8,1.7l-.7,1.5l-.8,1.5l-.8,1.5l-.8,1.5l-.8,1.6l-.7,1.8l-.8,2.1l-.8,2.3l-.8,2.5l-.8,2.4l-.7,2.1l-.8,2.2l-.8,2.1l-.8,2.1l-.8,2.0l-.7,1.9l-.8,1.9l-.8,1.7l-.8,1.7l-.8,1.6l-.8,1.5l-.7,1.5l-.8,1.5l-.8,1.5l-.8,1.4l-.8,1.4l-.8,1.4l-.8,1.3l-.8,1.4l-.8,1.2l-.8,1.3l-.8,1.2l-.8,1.2l-.8,1.1l-.8,1.2l-.8,1.2l-.7,1.1l-.8,1.2l-.8,1.1l-.8,1.2l-.8,1.2l-.8,1.2l-.8,1.2l-.8,1.2l-.8,1.3l-.8,1.2l-.8,1.2l-.8,1.3l-.8,1.2l-.8,1.1l-.8,1.2l-.8,1.1l-.8,1.2l-.8,1.0l-.8,1.0l-.8,1.0l-.8,.9l-.7,.9l-.8,.9l-.8,.9l-.8,.9l-.8,.9l-.8,.9l-.8,1.0l-.8,1.0l-.8,1.1l-.8,1.2l-.8,1.3l-.8,1.3l-.8,1.4l-.8,1.4l-.8,1.4l-.8,1.5l-.8,1.5l-.8,1.5l-.7,1.4" marker-start="url(#m225t)" marker-mid="url(#m225t)" marker-end="url(#m225t)"/></g>
<g fill="none" stroke="#2424e8" stroke-linecap="round" stroke-linejoin="round"><path d="M262.0,231.5L262.8,231.8L263.8,232.2L265.1,232.7L266.5,233.2L267.9,233.8L269.4,234.5L270.8,235.2L272.1,236.0L273.3,236.9L274.5,237.9L275.7,239.0L276.9,240.2L278.0,241.4L279.1,242.5L280.1,243.7L281.1,244.7L282.0,245.7L282.9,246.8L283.8,247.9L284.6,248.9L285.4,249.9L286.0,250.7L286.6,251.4L287.0,252.0" stroke-width="3.20"/><path d="M259.0,244.5L259.4,244.1L260.0,243.6L260.7,243.0L261.5,242.3L262.3,241.7L263.2,241.1L264.1,240.7L264.9,240.5L265.7,240.5L266.6,240.6L267.5,240.8L268.4,241.1L269.3,241.4L270.3,241.9L271.2,242.4L272.1,243.0L273.0,243.6L273.9,244.4L274.8,245.2L275.7,246.1L276.6,247.0L277.5,248.0L278.4,249.0L279.3,250.1L280.3,251.3L281.4,252.6L282.5,254.0L283.6,255.5L284.7,256.9L285.6,258.2L286.4,259.2L287.0,260.0" stroke-width="3.20"/><path d="M215.0,242.0L215.3,241.8L215.7,241.4L216.2,241.0L216.7,240.6L217.3,240.1L217.9,239.7L218.5,239.3L219.0,239.0L219.5,238.8L220.0,238.6L220.6,238.4L221.1,238.2L221.6,238.1L222.2,238.1L222.7,238.0L223.3,238.0L223.9,238.0L224.5,238.1L225.1,238.1L225.7,238.2L226.3,238.4L226.9,238.6L227.5,238.8L228.0,239.0L228.5,239.3L229.0,239.7L229.6,240.1L230.0,240.6L230.5,241.0L230.9,241.4L231.2,241.8L231.5,242.0" stroke-width="4.50"/><path d="M245.0,319.0L245.3,318.8L245.7,318.6L246.1,318.3L246.6,317.9L247.2,317.6L248.0,317.3L248.9,317.1L250.0,317.0L251.4,317.0L253.1,317.3L255.0,317.6L257.0,317.9L259.0,318.2L261.0,318.4L262.8,318.4L264.3,318.1L265.6,317.6L266.7,316.9L267.7,316.0L268.6,315.0L269.5,313.9L270.3,312.8L271.1,311.6L272.0,310.4L272.9,309.1L273.8,307.8L274.7,306.3L275.6,304.8L276.4,303.3L277.2,301.8L277.9,300.5L278.6,299.4L279.2,298.4L279.8,297.5L280.3,296.7L280.7,296.0L281.1,295.4L281.5,294.8L281.8,294.4L282.0,294.0" stroke-width="1.50"/><path d="M261.0,369.8L261.9,369.5L263.1,369.2L264.5,368.8L266.1,368.3L267.7,367.7L269.3,367.1L270.8,366.3L272.0,365.4L273.1,364.3L274.0,363.1L274.9,361.7L275.7,360.2L276.5,358.7L277.2,357.1L277.9,355.7L278.6,354.4L279.3,353.2L279.9,351.9L280.4,350.8L281.0,349.6L281.5,348.5L282.0,347.5L282.5,346.5L283.0,345.6L283.5,344.8L284.1,344.0L284.7,343.4L285.3,342.8L285.8,342.2L286.3,341.7L286.7,341.3L287.0,341.0" stroke-width="3.00"/></g>
</g>
<g clip-path="url(#cp2)">
<g fill="none" stroke="#ff3050"><path d="M317.6,24.8L317.8,25.4L318.0,26.3L318.3,27.3L318.6,28.4L318.9,29.5L319.3,30.7L319.6,31.8L319.9,32.8L320.2,33.7L320.5,34.6L320.8,35.5L321.0,36.3L321.3,37.2L321.6,38.0L321.9,38.8L322.2,39.7L322.5,40.6L322.8,41.6L323.2,42.6L323.5,43.6L323.8,44.5L324.1,45.4L324.3,46.1L324.5,46.6" stroke-width="0.64" opacity="0.8"/><path d="M324.5,48.0L324.8,48.7L325.3,49.6L325.8,50.7L326.4,52.0L327.1,53.3L327.8,54.6L328.4,55.9L329.1,57.2L329.8,58.5L330.5,59.8L331.2,61.2L332.0,62.7L332.7,64.0L333.5,65.3L334.2,66.5L334.8,67.5L335.4,68.4L335.8,69.1L336.3,69.7L336.7,70.3L337.1,70.8L337.6,71.2L338.2,71.5L338.8,71.9L339.5,72.2L340.3,72.4L341.1,72.5L342.0,72.6L343.0,72.7L343.9,72.8L344.9,72.9L345.9,73.0L347.0,73.1L348.1,73.0L349.2,73.0L350.4,72.9L351.6,73.0L352.8,73.2L353.9,73.6L355.0,74.4L356.0,75.6L356.9,77.2L357.8,79.0L358.7,81.0L359.6,83.0L360.5,85.0L361.3,86.7L362.2,88.0L363.1,89.0L364.0,89.9L364.9,90.6L365.7,91.2L366.6,91.6L367.5,91.9L368.4,92.2L369.3,92.3L370.2,92.3L371.1,92.1L372.0,91.9L372.9,91.5L373.8,91.0L374.7,90.5L375.6,89.9L376.5,89.4L377.4,88.8L378.4,88.0L379.5,87.2L380.5,86.4L381.5,85.5L382.3,84.8L383.1,84.2L383.6,83.7" stroke-width="0.80"/><path d="M338.8,71.9L339.3,71.8L339.8,71.7L340.5,71.5L341.3,71.3L342.2,71.1L343.1,70.9L344.1,70.7L345.1,70.5L346.1,70.3L347.2,70.0L348.4,69.7L349.6,69.4L350.8,69.1L352.1,68.9L353.5,68.7L355.0,68.6L356.5,68.6L358.2,68.6L359.9,68.7L361.6,68.8L363.4,68.9L365.3,69.1L367.3,69.2L369.3,69.3L371.5,69.4L373.9,69.4L376.5,69.5L379.1,69.5L381.6,69.6L384.0,69.7L386.0,69.9L387.7,70.1L388.9,70.4L389.8,70.7L390.3,71.1L390.7,71.4L391.0,71.9L391.3,72.4L391.7,73.0L392.2,73.6L392.9,74.3L393.5,75.1L394.2,76.0L394.9,76.9L395.7,77.8L396.4,78.8L397.2,79.8L398.0,80.8L398.8,81.8L399.7,83.0L400.7,84.2L401.6,85.4L402.6,86.5L403.5,87.6L404.3,88.6L405.1,89.4L405.8,90.1L406.5,90.6L407.1,91.0L407.7,91.4L408.2,91.7L408.7,91.9L409.1,92.1L409.4,92.3" stroke-width="1.44"/><path d="M301.8,100.6L302.3,100.3L303.0,100.0L303.7,99.6L304.6,99.2L305.6,98.7L306.6,98.2L307.7,97.6L308.9,97.0L310.2,96.4L311.6,95.7L313.2,95.0L314.8,94.2L316.4,93.4L318.0,92.6L319.5,91.8L320.9,91.0L322.2,90.2L323.5,89.3L324.8,88.5L326.0,87.6L327.2,86.7L328.3,85.8L329.4,84.9L330.4,83.9L331.3,82.9L332.2,81.8L333.1,80.6L333.8,79.5L334.6,78.4L335.2,77.3L335.8,76.3L336.4,75.5L336.9,74.8L337.3,74.2L337.7,73.6L338.0,73.2L338.2,72.8L338.5,72.4L338.6,72.1L338.8,71.9" stroke-width="1.28"/><path d="M299.4,91.0L299.8,91.4L300.3,91.9L300.9,92.4L301.5,93.1L302.2,93.8L302.9,94.5L303.6,95.2L304.2,95.8L304.8,96.4L305.4,97.0L305.9,97.7L306.5,98.3L307.0,98.9L307.6,99.5L308.3,100.1L308.9,100.6L309.6,101.1L310.3,101.6L311.1,102.1L311.8,102.6L312.6,103.1L313.4,103.5L314.1,103.9L314.9,104.2L315.7,104.5L316.5,104.7L317.4,104.8L318.3,105.0L319.1,105.1L319.8,105.2L320.4,105.2L320.9,105.3" stroke-width="0.80"/><path d="M320.9,100.6L321.7,99.7L322.7,98.5L323.9,97.0L325.3,95.4L326.7,93.8L328.0,92.2L329.3,90.9L330.4,89.8L331.3,89.0L332.1,88.3L332.8,87.7L333.4,87.2L334.0,86.8L334.7,86.6L335.5,86.4L336.4,86.3L337.4,86.4L338.5,86.6L339.7,87.0L341.0,87.5L342.2,88.0L343.5,88.4L344.7,88.8L345.9,89.0L347.1,89.0L348.2,88.8L349.4,88.5L350.5,88.2L351.6,87.9L352.8,87.8L353.9,87.8L355.0,88.0L356.1,88.5L357.2,89.2L358.3,90.1L359.3,91.0L360.4,92.1L361.5,93.1L362.5,94.2L363.6,95.1L364.7,96.0L366.0,97.1L367.2,98.1L368.4,99.1L369.6,100.1L370.7,101.0L371.5,101.7L372.2,102.3" stroke-width="0.80"/><path d="M369.9,22.5L370.3,23.5L370.9,24.8L371.6,26.5L372.4,28.2L373.2,30.1L374.0,31.9L374.8,33.6L375.6,35.1L376.3,36.5L377.0,37.8L377.7,39.0L378.5,40.3L379.2,41.4L379.9,42.5L380.7,43.4L381.4,44.3L382.2,45.1L383.0,45.7L383.8,46.3L384.6,46.8L385.4,47.2L386.2,47.5L387.0,47.7L387.7,47.9L388.4,48.0L389.0,48.0L389.5,47.8L390.1,47.6L390.6,47.4L391.1,47.1L391.7,46.8L392.2,46.4L392.8,46.0L393.3,45.4L393.9,44.8L394.5,44.1L395.1,43.5L395.6,42.9L396.0,42.4L396.3,42.0" stroke-width="0.88"/><path d="M387.7,66.5L388.0,65.4L388.5,64.0L389.1,62.2L389.7,60.3L390.3,58.4L391.0,56.5L391.6,54.9L392.2,53.6L392.8,52.6L393.3,51.9L393.9,51.2L394.4,50.7L395.0,50.3L395.5,50.0L396.0,49.6L396.5,49.3L397.0,49.0L397.5,48.7L398.0,48.5L398.5,48.4L399.0,48.3L399.4,48.2L399.7,48.1L400.0,48.0" stroke-width="0.80"/><path d="M369.3,49.3L369.0,50.1L368.6,51.1L368.1,52.3L367.5,53.7L366.9,55.2L366.3,56.6L365.6,58.0L365.0,59.3L364.3,60.6L363.5,61.9L362.7,63.2L361.9,64.6L361.1,65.8L360.4,66.9L359.7,67.9L359.3,68.6" stroke-width="0.64" opacity="0.8"/><path d="M299.9,148.9L300.8,147.5L301.9,145.7L303.2,143.4L304.7,141.0L306.3,138.4L308.0,135.8L309.7,133.3L311.3,131.0L313.0,128.8L314.7,126.6L316.6,124.3L318.4,122.1L320.3,120.0L322.1,117.9L323.9,116.0L325.6,114.3L327.2,112.7L328.8,111.3L330.4,109.9L332.0,108.7L333.5,107.5L334.9,106.5L336.3,105.6L337.6,104.8L338.8,104.1L339.8,103.5L340.8,103.1L341.7,102.7L342.6,102.5L343.6,102.3L344.7,102.3L345.9,102.4L347.3,102.6L348.8,103.0L350.4,103.5L352.1,104.1L353.9,104.7L355.6,105.5L357.4,106.3L359.1,107.2L360.8,108.2L362.6,109.3L364.4,110.5L366.2,111.8L368.0,113.1L369.8,114.4L371.6,115.6L373.4,116.7L375.2,117.7L377.1,118.6L379.0,119.4L380.8,120.2L382.7,121.0L384.5,121.8L386.1,122.8L387.7,123.9L389.1,125.1L390.4,126.5L391.5,127.9L392.6,129.4L393.7,131.0L394.8,132.5L395.9,134.2L397.2,135.8L398.7,137.6L400.3,139.5L402.0,141.6L403.8,143.7L405.5,145.7L407.0,147.5L408.3,149.0L409.2,150.1" stroke-width="1.52"/><path d="M299.9,151.0L300.8,149.6L301.9,147.7L303.2,145.5L304.7,143.0L306.3,140.4L308.0,137.8L309.7,135.3L311.3,133.0L313.0,130.8L314.7,128.6L316.6,126.4L318.4,124.2L320.3,122.1L322.1,120.1L323.9,118.2L325.6,116.5L327.2,114.9L328.8,113.5L330.4,112.1L332.0,110.9L333.5,109.7L334.9,108.7L336.3,107.8L337.6,107.0L338.8,106.3L339.8,105.7L340.8,105.3L341.7,104.9L342.6,104.7L343.6,104.5L344.7,104.5L345.9,104.6L347.3,104.8L348.8,105.2L350.4,105.7L352.1,106.2L353.9,106.9L355.6,107.7L357.4,108.5L359.1,109.4L360.8,110.4L362.6,111.5L364.4,112.8L366.2,114.1L368.0,115.4L369.8,116.7L371.6,117.9L373.4,119.0L375.2,120.0L377.1,120.8L379.0,121.6L380.8,122.3L382.7,123.1L384.5,124.0L386.1,124.9L387.7,126.0L389.1,127.2L390.4,128.6L391.5,130.0L392.6,131.6L393.7,133.1L394.8,134.7L395.9,136.4L397.2,138.0L398.7,139.8L400.3,141.7L402.0,143.7L403.8,145.8L405.5,147.7L407.0,149.4L408.3,150.9L409.2,152.0" stroke-width="0.80"/><path d="M299.9,178.8L300.6,177.4L301.4,175.5L302.5,173.2L303.6,170.7L304.9,168.1L306.2,165.3L307.6,162.4L308.9,159.7L310.3,156.9L311.7,154.0L313.2,151.0L314.7,147.9L316.3,144.8L317.8,141.7L319.4,138.7L320.9,135.8L322.4,132.9L323.9,130.0L325.5,127.1L327.0,124.2L328.5,121.5L330.0,118.9L331.4,116.5L332.8,114.3L334.1,112.4L335.5,110.7L336.8,109.1L338.1,107.7L339.3,106.5L340.4,105.4L341.4,104.4L342.3,103.6L343.1,103.0L343.7,102.5L344.3,102.3L344.7,102.1L345.1,102.1L345.5,102.1L345.8,102.1L346.0,102.0" stroke-width="0.72" opacity="0.85"/><path d="M360.0,92.0L360.4,92.6L361.0,93.3L361.6,94.1L362.4,95.1L363.2,96.2L364.1,97.4L365.1,98.6L366.2,100.0L367.4,101.6L368.8,103.4L370.3,105.4L371.9,107.5L373.6,109.5L375.2,111.4L376.7,113.0L378.1,114.3L379.4,115.2L380.6,116.0L381.8,116.5L382.9,116.8L384.0,117.0L385.2,117.1L386.4,116.9L387.7,116.7L389.1,116.2L390.6,115.5L392.1,114.6L393.6,113.5L395.2,112.4L396.7,111.3L398.2,110.3L399.6,109.5L401.0,108.8L402.4,108.0L403.8,107.3L405.1,106.7L406.4,106.1L407.5,105.6L408.5,105.1L409.2,104.8" stroke-width="0.80"/><path d="M355.0,74.4L356.0,75.6L357.4,77.1L359.0,79.0L360.8,81.1L362.6,83.3L364.5,85.6L366.3,87.8L368.0,90.0L369.6,92.1L371.2,94.4L372.8,96.7L374.3,99.0L375.9,101.3L377.3,103.6L378.7,105.8L380.0,108.0L381.2,110.0L382.2,111.9L383.1,113.7L384.0,115.4L384.9,117.3L385.7,119.3L386.7,121.4L387.7,123.9L388.8,126.7L389.9,129.7L391.0,132.9L392.2,136.2L393.4,139.6L394.6,143.1L395.9,146.6L397.2,150.1L398.7,153.8L400.3,157.8L402.0,161.9L403.8,166.1L405.5,170.0L407.0,173.6L408.3,176.6L409.2,178.8" stroke-width="0.80"/><path d="M300.0,122.0L300.9,121.7L302.1,121.4L303.6,121.0L305.2,120.5L306.9,120.0L308.6,119.4L310.4,118.7L312.0,118.0L313.6,117.2L315.2,116.2L316.9,115.1L318.6,114.0L320.3,112.9L321.9,111.8L323.5,110.8L325.0,110.0L326.5,109.3L327.9,108.6L329.4,108.0L330.8,107.5L332.1,107.0L333.3,106.6L334.2,106.3L335.0,106.0" stroke-width="0.80"/><path d="M299.6,303.8L300.2,304.4L301.0,305.2L302.0,306.2L303.1,307.2L304.3,308.4L305.5,309.7L306.8,311.1L308.0,312.6L309.3,314.2L310.6,316.0L311.9,317.9L313.3,319.9L314.8,321.9L316.2,324.0L317.6,326.0L319.0,328.0L320.4,330.0L321.7,332.0L323.1,334.0L324.4,336.1L325.8,338.0L327.2,339.9L328.5,341.7L329.9,343.3L331.3,344.8L332.7,346.1L334.1,347.4L335.5,348.5L336.9,349.6L338.3,350.5L339.6,351.4L340.9,352.1L342.1,352.7L343.3,353.2L344.4,353.5L345.5,353.8L346.5,353.9L347.6,354.1L348.6,354.2L349.7,354.3L350.8,354.4L351.8,354.6L352.9,354.7L353.9,354.7L354.9,354.7L355.9,354.7L356.9,354.5L357.8,354.3L358.6,353.9L359.4,353.5L360.0,352.9L360.7,352.2L361.4,351.6L362.2,351.0L363.1,350.4L364.2,350.0L365.5,349.7L367.1,349.4L368.8,349.3L370.6,349.1L372.4,349.0L374.2,348.9L375.9,348.9L377.4,348.9L378.8,349.0L380.2,349.4L381.5,349.9L382.7,350.3L383.9,350.7L385.1,350.8L386.2,350.6L387.3,350.0L388.4,348.9L389.4,347.5L390.3,345.7L391.2,343.7L392.1,341.6L393.0,339.3L394.0,337.0L395.0,334.6L396.1,332.1L397.2,329.2L398.4,326.2L399.5,323.1L400.7,320.0L401.8,317.2L402.9,314.7L403.8,312.6L404.7,311.0L405.5,309.7L406.3,308.7L407.1,307.9L407.8,307.3L408.4,306.8L408.9,306.4L409.3,306.0" stroke-width="0.96"/><path d="M299.6,367.5L300.4,367.9L301.4,368.4L302.6,369.1L303.9,369.8L305.4,370.5L307.0,371.1L308.6,371.6L310.2,371.9L311.9,372.0L313.8,372.1L315.8,372.0L317.8,371.8L319.9,371.6L321.9,371.4L323.8,371.1L325.5,370.8L327.1,370.5L328.6,370.1L330.0,369.7L331.4,369.2L332.7,368.8L334.0,368.3L335.2,367.9L336.5,367.5L337.7,367.2L338.8,366.8L339.9,366.5L340.9,366.2L341.9,366.0L343.1,365.7L344.3,365.5L345.7,365.3L347.3,365.1L348.9,365.0L350.7,364.9L352.6,364.8L354.5,364.7L356.4,364.7L358.3,364.7L360.1,364.8L361.9,365.0L363.7,365.4L365.5,365.8L367.2,366.3L369.0,366.7L370.8,367.1L372.5,367.2L374.2,367.2L375.9,366.9L377.7,366.3L379.5,365.6L381.3,364.8L383.0,364.0L384.6,363.2L386.0,362.5L387.3,362.0L388.3,361.6L389.2,361.3L389.9,361.1L390.5,360.9L391.0,360.8L391.5,360.8L392.1,360.8L392.8,361.0L393.5,361.3L394.3,361.8L395.0,362.4L395.8,363.0L396.6,363.7L397.5,364.3L398.4,364.9L399.4,365.4L400.5,365.8L401.9,366.2L403.3,366.5L404.8,366.8L406.2,367.0L407.4,367.3L408.5,367.4L409.3,367.6" stroke-width="1.04"/><path d="M310.2,354.3L311.2,351.4L312.6,347.4L314.2,342.6L316.0,337.3L317.9,332.0L319.8,326.9L321.7,322.6L323.4,319.2L325.0,316.8L326.7,315.0L328.3,313.7L329.9,312.7L331.6,312.1L333.2,311.5L334.9,311.0L336.5,310.4L338.2,309.8L339.9,309.3L341.7,308.9L343.5,308.6L345.2,308.4L346.8,308.3L348.3,308.2L349.7,308.2L350.9,308.2L351.9,308.4L352.8,308.6L353.7,308.8L354.5,309.2L355.3,309.5L356.1,309.9L357.0,310.4L357.9,310.9L358.9,311.3L359.8,311.8L360.8,312.3L361.7,312.9L362.7,313.7L363.7,314.6L364.8,315.7L366.0,317.1L367.3,318.9L368.6,321.0L370.0,323.1L371.3,325.2L372.5,327.1L373.5,328.7L374.2,329.8" stroke-width="0.80"/><path d="M392.0,358.0L392.6,358.2L393.4,358.4L394.4,358.6L395.4,358.9L396.6,359.2L397.7,359.5L398.9,359.7L400.0,360.0L401.2,360.2L402.5,360.5L404.0,360.7L405.4,360.9L406.7,361.1L407.8,361.4L408.6,361.7L409.0,362.0L409.0,362.5L408.6,363.0L407.9,363.7L407.0,364.4L406.0,365.0L404.9,365.5L403.9,365.9L403.0,366.0L402.1,365.9L401.2,365.5L400.1,364.9L399.1,364.2L398.2,363.6L397.3,362.9L396.5,362.4L396.0,362.0" stroke-width="0.96"/></g>
<g fill="none" stroke="#9040d0"></g>
<g fill="none" stroke="none"><path d="M299.3,63.0l.6,-.7l.6,-.7l.6,-.7l.5,-.7l.6,-.7l.6,-.8l.6,-.8l.6,-.8l.6,-.9l.6,-1.0l.5,-1.1l.6,-1.1l.6,-1.1l.6,-1.4l.6,-2.3l.6,-2.1l.6,-1.4l.5,-1.4l.6,-1.4l.6,-1.8l.6,-2.0l.6,-2.2l.6,-2.2l.5,-2.1l.6,-2.2l.6,-3.0l.6,-3.8" marker-start="url(#m150)" marker-mid="url(#m150)" marker-end="url(#m150)"/><path d="M311,68.0l1.2,-2.2l1.1,-2.3l1.2,-2.9l1.2,-3.4l1.2,-3.8l1.1,-3.8l1.2,-4.0l1.2,-4.1l1.1,-4.1l1.2,-4.1l1.2,-4.4l1.2,-4.3l1.1,-3.7l1.2,-.7l1.2,1.2l1.1,1.7l1.2,2.0l1.2,2.0l1.1,2.3l1.2,2.4l1.2,2.5l1.2,2.4l1.1,2.5l1.2,2.5l1.2,2.1l1.1,1.7l1.2,1.6l1.2,1.2l1.2,.8l1.1,.3l1.2,-.1l1.2,-.5l1.2,-.6l1.2,-.8l1.2,-.9l1.2,-1.1l1.2,-2.2l1.2,-2.8l1.2,-3.0l1.2,-3.2l1.1,-3.2l1.2,-3.2l1.2,-3.2l1.2,-3.2l1.2,-3.1l1.2,-2.8l1.2,-2.6l1.2,-1.9l1.2,.0" marker-start="url(#m200)" marker-mid="url(#m200)" marker-end="url(#m200)"/><path d="M356.3,44.6l.6,-1.6l.6,-1.7l.6,-1.8l.6,-1.7l.5,-1.7l.6,-1.9l.6,-1.8l.6,-2.0l.6,-2.0l.6,-1.9l.6,-2.0l.6,-1.8l.6,-1.9l.6,-1.8l.6,-1.8l.6,-1.7l.6,-1.5l.6,-1.2l.6,-1.1" marker-start="url(#m175)" marker-mid="url(#m175)" marker-end="url(#m175)"/><path d="M301.1,64.1l.9,1.1l.9,1.0l.9,.9l.9,.9l.9,.9l.9,.6l.9,.5l.9,.4l.9,.3l.9,.2l.9,.0l.9,-.1l.9,-.2l.9,-.4l.9,-.6l.9,-.7l.9,-.8l.9,-.9l.9,-.9l.9,-.9l.9,-1.0l.9,-1.0l.9,-1.2l.9,-1.2l.9,-1.7l.9,-4.4l.9,-3.0l.9,-2.6l.9,-2.4l.9,-2.5l.9,-2.1l.9,-1.3l.9,-.2l.9,.4l.9,.8l.9,.9l.9,1.0" marker-start="url(#m150)" marker-mid="url(#m150)" marker-end="url(#m150)"/><path d="M315.7,50.2l-1.2,3.2l-1.2,3.5l-1.1,4.7l-1.2,8.5l-1.2,6.4l-1.1,3.2l-1.2,2.4l-1.2,2.1l-1.1,2.0l-1.2,1.8l-1.2,1.6l-1.2,1.6l-1.1,1.3" marker-start="url(#m75)" marker-mid="url(#m75)" marker-end="url(#m75)"/><path d="M334.4,50.8l1.2,4.7l1.2,4.5l1.1,4.6l0,9.5l0,9.0l1.2,2.8l1.2,2.1l1.1,2.4l1.2,2.8l1.2,2.8l1.2,2.8l1.1,1.8l1.2,-1.0l1.2,-1.7l1.2,-2.3l1.2,-2.5l1.2,-2.5l1.2,-2.0l1.2,-2.7l1.2,-5.7l1.2,-8.6l1.2,-9.0l1.1,-5.7l0,-3.6l-1.1,-3.1l-1.2,-2.2l-1.2,-1.9" marker-start="url(#m250)" marker-mid="url(#m250)" marker-end="url(#m250)"/><path d="M300.3,104.7l1,-.7l.9,-.7l1,-.6l1,-.7l1,-.6l.9,-.6l1,-.6l1,-.5l1,-.4l.9,-.2l1,-.2l1,-.2l1,-.1l.9,.0l1,-.1l1,.0l1,-.1l.9,-.1l1,-.2l1,-.2l1,-.1l.9,-.2l1,-.3l1,-.4l1,-.5l.9,-.6l1,-.9l1,-1.0l1,-1.1l.9,-1.2l1,-1.3l1,-1.2l1,-1.3" marker-start="url(#m150)" marker-mid="url(#m150)" marker-end="url(#m150)"/><path d="M370,18.0l1.2,1.1l1.2,1.2l1.2,1.2l1.2,1.2l1.2,1.3l1.1,1.4l1.2,1.6l1.2,1.5l1.2,1.6l1.2,1.5l1.2,1.6l1.2,1.4l1.2,1.1l1.2,.7l1.2,.3l1.1,.2l1.2,-.1l1.2,-.4l1.1,-1.2" marker-start="url(#m100)" marker-mid="url(#m100)" marker-end="url(#m100)"/><path d="M394.3,32.2l.6,1.1l.6,1.1l.6,1.2l.5,1.5l.6,1.6l.6,1.8l.6,1.9l.6,2.0l.6,2.2l.5,2.2l.6,2.0l.6,1.7l.6,1.6l.6,1.5l.6,1.5" marker-start="url(#m175)" marker-mid="url(#m175)" marker-end="url(#m175)"/><path d="M396.6,45.3l.6,1.2l.6,1.2l.6,1.2l.6,1.2l.6,1.1l.5,1.2l.6,1.1l.6,1.1l.6,1.1l.6,1.0l.6,1.1l.6,1.0l.5,.9l.6,.8l.6,.6l.6,.6l.6,.4l.6,.4l.6,.3l.5,.3l.6,.2" marker-start="url(#m150)" marker-mid="url(#m150)" marker-end="url(#m150)"/><path d="M376.5,45.1l.6,2.0l.6,2.0l.6,1.9l.6,1.7l.6,1.4l.6,1.4l.6,1.3l.6,1.3l.6,1.1l.6,1.2l.6,1.0l.6,1.0l.6,.8l.6,.7l.6,.6l.6,.5l.6,.6l.6,.5" marker-start="url(#m125)" marker-mid="url(#m125)" marker-end="url(#m125)"/><path d="M379.5,71.2l.6,1.1l.6,1.0l.6,1.1l.6,1.0l.6,1.0l.6,.9l.6,.7l.6,.7l.6,.6l.6,.5l.6,.3l.6,.3l.6,.3l.6,.1l.5,.1l.6,.0l.6,.0l.6,-.1l.6,.0l.6,-.1l.6,.0l.5,.0l.6,.0l.6,.1l.6,.2l.6,.2l.6,.2l.6,.2l.5,.3l.6,.4l.6,.3l.6,.4l.6,.4l.6,.4l.5,.5l.6,.6l.6,.6l.6,.6l.6,.6l.6,.7l.6,.6l.5,.6l.6,.6l.6,.5l.6,.4l.6,.4l.6,.4l.6,.4l.5,.4l.6,.3" marker-start="url(#m150)" marker-mid="url(#m150)" marker-end="url(#m150)"/><path d="M387.9,70.2l1.1,1.0l1.2,1.1l1.2,1.1l1.1,1.2l1.2,1.1l1.2,1.2l1.2,1.3l1.1,1.4l1.2,1.4l1.2,1.5l1.1,1.2l1.2,1.1l1.2,1.0l1.1,.9l1.2,.9l1.2,.9l1.2,1.0l1.1,1.4l0,.8l-1.1,1.0l-1.2,.4l-1.2,.1l-1.2,-.1l-1.1,-.5l-1.2,-.9l-1.2,-1.0l-1.1,-1.1l-1.2,-1.2l-1.2,-1.2l-1.1,-1.2l-1.2,-1.4l-1.2,-1.4l-1.2,-1.5" marker-start="url(#m100)" marker-mid="url(#m100)" marker-end="url(#m100)"/><path d="M395.5,81.5l.6,1.0l.5,1.1l.6,1.1l.6,1.1l.6,1.1l.6,1.0l.6,1.1l.5,1.0l.6,1.1l.6,1.0l.6,1.0l.6,.9l.6,.9l.6,.9l.5,.8l.6,.9l.6,.8l.6,.8l.6,.8l.6,.8l.6,.8l.5,.8l.6,.8" marker-start="url(#m150)" marker-mid="url(#m150)" marker-end="url(#m150)"/><path d="M400.7,90.4l.6,.8l.6,.8l.6,.8l.6,.7l.6,.8l.5,.8l.6,.8l.6,.7l.6,.8l.6,.8l.6,.9l.6,.8l.5,.9l.6,.9l.6,.9l.6,.9" marker-start="url(#m150)" marker-mid="url(#m150)" marker-end="url(#m150)"/><path d="M300.1,259.0l.8,-2.7l.7,-2.7l.8,-2.6l.8,-2.2l.8,-1.8l.8,-1.6l.7,-1.3l.8,-1.2l.8,-1.2l.8,-1.1l.8,-1.1l.7,-1.1l.8,-1.1l.8,-1.2l.8,-1.1l.8,-1.2l.7,-1.3l.8,-1.2l.8,-1.2l.8,-1.2l.8,-1.1l.7,-1.1l.8,-1.1l.8,-1.0l.8,-1.1l.8,-1.1l.8,-1.1l.7,-1.1l.8,-1.1l.8,-1.1l.8,-1.1l.8,-1.0l.7,-1.0l.8,-.9l.8,-.9l.8,-.9l.8,-.8l.7,-.7l.8,-.6l.8,-.6l.8,-.5l.8,-.4l.7,-.4l.8,-.3l.8,-.3l.8,-.3l.8,-.2l.7,-.2l.8,-.2l.8,-.1l.8,-.1l.8,-.1l.7,-.1l.8,-.1l.8,-.1l.8,-.1l.8,.0l.7,-.1l.8,.0l.8,-.1l.8,.0l.8,-.1l.8,.0l.8,.0l.8,.0l.8,.0l.8,.1l.8,.0l.8,.1l.8,.1l.8,.1l.8,.2l.8,.2l.8,.2l.8,.2l.7,.3l.8,.3l.8,.4l.8,.4l.8,.4l.8,.5l.8,.5l.8,.5l.8,.6l.8,.6l.8,.6l.8,.6l.8,.7l.8,.6l.8,.7l.8,.8l.8,.7l.8,.8l.8,.8l.8,.9l.8,1.6l.7,3.5l.8,1.2l.8,.8l.8,.6l.8,.5l.8,.5l.8,.4l.8,.4l.8,.4l.8,.4l.8,.5l.8,.4l.8,.4l.8,.5l.8,.4l.7,.4l.8,.4l.8,.4l.8,.4l.8,.5l.8,.4l.7,.5l.8,.5l.8,.6l.8,.7l.8,.7l.7,.9l.8,.9l.8,1.0l.8,1.0l.8,1.1l.7,1.1l.8,1.1l.8,1.0l.8,1.0l.8,1.0l.7,1.0l.8,1.1l.8,1.0l.8,1.1l.8,1.1l.7,1.3l.8,1.4" marker-start="url(#m225t)" marker-mid="url(#m225t)" marker-end="url(#m225t)"/><path d="M367,296.8l.6,-3.9l.6,-3.9l.6,-3.5l.6,-3.3l.6,-3.0l.6,-2.5l.6,-2.3l.6,-2.2l.6,-2.0l.6,-2.0l.6,-1.8l.6,-1.9l.6,-1.8l.6,-1.8l.6,-1.8l.5,-1.7l.6,-1.8l.6,-1.6l.6,-1.7l.6,-1.5l.6,-1.5l.6,-1.4l.6,-1.2l.6,-1.2l.6,-1.2l.6,-1.0l.6,-1.0l.6,-.8l.6,-.8l.6,-.5l.6,-.5l.6,-.3l.6,-.3l.6,-.1l.6,.0l.5,.0l.6,.1l.6,.2l.6,.2l.6,.2l.6,.3l.6,.3l.5,.3l.6,.4l.6,.4l.6,.4l.6,.5l.6,.5l.6,.5l.5,.6l.6,.6l.6,.6l.6,.7l.6,.7l.6,.6l.5,.8l.6,.7l.6,.8l.6,.8l.6,.8l.6,.9l.6,.9l.5,.9l.6,.9l.6,.9l.6,1.0l.6,.9l.6,.9l.6,.9l.5,1.0l.6,.9l.6,1.0" marker-start="url(#m250t)" marker-mid="url(#m250t)" marker-end="url(#m250t)"/><path d="M300.2,346.5l.9,-2.3l.9,-2.9l.9,-3.1l.9,-3.2l.9,-3.2l.9,-3.2l.9,-3.2l.9,-3.3l.9,-3.3l.9,-3.1l.9,-2.8l.9,-2.6l.9,-2.6l.9,-2.4l.9,-2.4l.9,-2.4l.9,-2.3l.9,-2.3l.9,-1.9l.9,-.1l.9,-3.0l.9,-3.6l.9,-3.8l.9,-3.7l.9,-3.4l.9,-3.3l.9,-3.1l.9,-2.9l.9,-2.7l.9,-2.6l.9,-2.5l.9,-2.4l.9,-2.4l.9,-2.2l.9,-2.1l.9,-2.3l.9,-2.1l.9,-1.8l.9,-1.5l.9,-1.2l.9,-.9l.9,-.9l.9,-.7l.9,-.6l.9,-.6l.9,-.5l.9,-.4l.9,-.3l.9,-.3l.9,-.1l.9,.1l.9,.3l1,.5l.9,.7l.9,.8l.9,1.0l1,1.1l.9,1.1l.9,1.2l.9,1.4l.9,1.6l1,1.7l.9,1.9l.9,2.2l.9,2.6l1,2.9l.9,3.0l.9,2.7l.9,2.7l.9,2.7l1,2.9l.9,3.0l.9,3.0l.9,3.3l.9,3.5l1,3.8l.9,3.9l.9,4.2l.9,5.1l1,10.3l.9,8.8l.9,7.3l.9,4.9l.9,3.7l1,3.3l.9,3.4l.9,3.8l.9,5.3l1,7.9l.9,8.0l.9,7.5l.9,7.3" marker-start="url(#m275)" marker-mid="url(#m275)" marker-end="url(#m275)"/><path d="M341.4,246.8l-1.1,7.0l-1.2,7.0l-1.2,7.0l-1.1,7.0l-1.2,7.0l-1.2,7.0l-1.2,6.5l-1.1,13.1l-1.2,8.3l-1.2,8.0l-1.1,8.3l-1.2,7.8l-1.2,6.4l-1.1,10.0l-1.2,16.0" marker-start="url(#m275)" marker-mid="url(#m275)" marker-end="url(#m275)"/><path d="M349.7,249.5l1.2,3.4l1.2,3.9l1.2,6.7l1.2,8.0l1.2,7.0l1.2,5.8l1.2,6.1l1.1,8.7l1.2,36.9l1.2,5.5l1.2,7.3l1.2,6.9l1.2,5.1l1.2,4.5l1.2,4.6l1.2,5.3l1.2,10.7" marker-start="url(#m250)" marker-mid="url(#m250)" marker-end="url(#m250)"/><path d="M300.5,265.1l1.1,1.0l1.2,1.0l1.2,1.0l1.2,1.0l1.1,1.1l1.2,1.2l1.2,1.2l1.1,1.4l1.2,1.4l1.2,1.4l1.1,1.6l1.2,1.6l1.2,1.7l1.2,1.8l1.1,1.9l1.2,2.1l1.2,2.1l1.1,2.1l1.2,2.2l1.2,2.3l1.2,2.4l1.1,2.5l1.2,2.6l1.2,2.7l1.1,2.7l1.2,2.7l1.2,2.7l1.1,2.5l1.2,2.5l1.2,2.3l1.2,2.1l1.1,2.1l1.2,1.9l1.2,1.9l1.1,1.6l1.2,1.4l1.2,1.0l1.2,.6l1.1,.0l1.2,-.6l1.2,-1.1l1.2,-1.7l1.2,-1.9l1.2,-2.1l1.2,-2.1l1.2,-2.0l1.2,-2.1l1.2,-2.3l1.2,-2.5l1.1,-2.5l1.2,-2.4l1.2,-2.3l1.2,-2.4l1.2,-2.4l1.2,-2.4" marker-start="url(#m225)" marker-mid="url(#m225)" marker-end="url(#m225)"/><path d="M300.5,272.2l1.1,1.0l1.2,.9l1.2,1.0l1.2,1.0l1.1,1.1l1.2,1.3l1.2,1.4l1.1,1.6l1.2,1.7l1.2,1.8l1.1,1.9l1.2,2.0l1.2,2.0l1.2,2.1l1.1,2.3l1.2,2.4l1.2,2.5l1.1,2.5l1.2,2.6l1.2,2.7l1.2,2.7l1.1,2.6l1.2,2.6l1.2,2.6l1.1,2.6l1.2,2.6l1.2,2.5l1.1,2.5l1.2,2.4l1.2,2.2l1.2,2.1l1.1,2.1l1.2,2.1l1.2,2.1l1.1,1.9l1.2,1.6l1.2,1.3l1.2,.9l1.1,.3l1.2,-.4l1.2,-1.1l1.2,-1.7l1.2,-1.9l1.2,-2.2l1.2,-2.2l1.2,-2.0l1.2,-2.1l1.2,-2.4l1.2,-2.6l1.1,-2.5l1.2,-2.5l1.2,-2.4l1.2,-2.4l1.2,-2.3" marker-start="url(#m225)" marker-mid="url(#m225)" marker-end="url(#m225)"/><path d="M300.5,332.0l1.1,-3.4l1.2,-3.4l1.2,-3.3l1.2,-3.2l1.1,-3.1l1.2,-3.0l1.2,-3.0l1.1,-3.0l1.2,-3.0l1.2,-2.9l1.1,-2.8l1.2,-2.7l1.2,-2.5l1.2,-2.3l1.1,-2.1l1.2,-1.9" marker-start="url(#m200)" marker-mid="url(#m200)" marker-end="url(#m200)"/><path d="M300.1,349.3l.8,2.6l.7,2.6l.8,2.6l.8,2.5l.8,2.5l.8,2.3l.7,2.3l.8,2.2l.8,2.3l.8,2.4l.8,2.8l.7,3.1l.8,3.4" marker-start="url(#m225t)" marker-mid="url(#m225t)" marker-end="url(#m225t)"/><path d="M336.8,367.4l.5,-.4l.6,-.3l.6,-.4l.6,-.4l.6,-.3l.6,-.4l.6,-.3l.5,-.4l.6,-.3l.6,-.2l.6,-.3l.6,-.2l.6,-.2l.6,-.1l.5,-.1l.6,.0l.6,.1l.6,.2l.6,.2l.6,.3l.6,.3l.6,.3l.6,.4l.6,.4l.6,.4l.6,.4l.6,.5l.6,.4l.6,.4" marker-start="url(#m150)" marker-mid="url(#m150)" marker-end="url(#m150)"/><path d="M336.8,382.6l.5,-.5l.6,-.6l.6,-.5l.6,-.6l.6,-.5l.6,-.5l.6,-.6l.5,-.4l.6,-.5l.6,-.4l.6,-.4l.6,-.3l.6,-.3l.6,-.2l.5,-.1l.6,.0l.6,.2l.6,.3l.6,.3l.6,.4l.6,.5l.6,.5l.6,.5l.6,.6l.6,.6l.6,.6l.6,.7l.6,.6l.6,.6" marker-start="url(#m150)" marker-mid="url(#m150)" marker-end="url(#m150)"/><path d="M351.5,321.3l.6,-.1l.6,-.1l.6,-.1l.6,-.1l.6,-.1l.6,-.1l.6,-.1l.6,-.1l.6,-.1l.6,-.1l.6,-.1l.6,-.1l.5,-.1l.6,-.1l.6,-.1l.6,-.1l.6,-.1l.6,-.1l.6,-.1l.6,-.1l.6,-.1l.6,-.1l.6,-.1l.6,-.1l.6,-.1l.6,-.1l.6,-.1l.6,-.1l.6,-.1l.6,-.1l.6,-.1l.6,-.2l.6,-.1l.6,-.1l.6,-.1l.6,-.1l.6,-.1l.6,-.1l.6,-.1l.6,-.1l.6,.0l.5,-.1l.6,-.1l.6,.0l.6,-.1l.6,.0l.6,.1l.6,.0l.6,.1l.6,.0l.6,.1l.6,.1l.6,.0l.6,.1l.6,.0l.6,.0l.6,.0l.6,-.1l.6,-.1l.6,-.2l.6,-.2l.5,-.3l.6,-.3l.6,-.4l.6,-.4l.6,-.5l.6,-.5l.6,-.6l.5,-.6l.6,-.6l.6,-.7l.6,-.6l.6,-.8l.6,-.7l.6,-.8l.5,-.9l.6,-.9l.6,-1.0l.6,-1.0l.6,-1.0l.6,-1.1l.5,-1.1l.6,-1.0l.6,-1.1l.6,-1.0l.6,-1.1l.6,-1.2l.6,-1.3l.5,-1.3l.6,-1.2l.6,-1.4l.6,-1.2l.6,-1.3l.6,-1.3l.6,-1.2l.5,-1.1l.6,-1.2l.6,-1.1" marker-start="url(#m200t)" marker-mid="url(#m200t)" marker-end="url(#m200t)"/><path d="M351.7,354.1l.9,-.5l.9,-.4l.9,-.5l.9,-.5l1,-.4l.9,-.5l.9,-.5l.9,-.4l1,-.5l.9,-.4l.9,-.4l.9,-.4l.9,-.4l1,-.4l.9,-.5l.9,-.4l.9,-.6l.9,-.6l1,-.6l.9,-.8l.9,-.9l.9,-.9l1,-1.0l.9,-1.0l.9,-1.1l.9,-1.1l.9,-1.1l1,-1.2l.9,-1.3l.9,-1.3l.9,-1.3l1,-1.2l.9,-1.1l.9,-.9l.9,-.8l.9,-.7l1,-.7l.9,-.7l.9,-.8l.9,-.7l.9,-.7l.9,-.7l.9,-.7l.9,-.7l.9,-.8l.9,-.8l.9,-.9l.9,-.9l.9,-1.1l.9,-1.2l.9,-1.2l.9,-1.3l.9,-1.4l.9,-1.3l.9,-1.4l.9,-1.4l.9,-1.3l.9,-1.4l.9,-1.3l.9,-1.2l.9,-1.3l.9,-1.2l.9,-1.3" marker-start="url(#m200)" marker-mid="url(#m200)" marker-end="url(#m200)"/><path d="M389,358.5l1.2,-.5l1.2,-.4l1.1,-.5l1.2,-.6l1.2,-.6l1.2,-.7l1.1,-.8l1.2,-1.2l1.2,-1.4l1.1,-1.7l1.2,-1.8l1.2,-1.7l1.1,-1.6l1.2,-1.4l1.2,-1.4l1.2,-1.4l1.1,-1.4" marker-start="url(#m250)" marker-mid="url(#m250)" marker-end="url(#m250)"/><path d="M390.2,367.9l1.2,-.2l1.1,-.2l1.2,-.3l1.2,-.2l1.2,-.3l1.1,-.4l1.2,-.4l1.2,-.6l1.1,-.9l1.2,-1.5l1.2,-2.1l1.1,-2.4l1.2,-2.1l1.2,-2.1l1.2,-2.1l1.1,-2.1" marker-start="url(#m200)" marker-mid="url(#m200)" marker-end="url(#m200)"/><path d="M409.2,270.2l-.9,2.2l-.9,2.3l-.9,2.2l-.9,2.3l-.9,2.2l-.9,2.2l-.9,2.3l-.9,2.7l-.9,3.3l-.9,3.4l-.9,3.0l-.9,2.5l-.9,2.2l-.9,2.1l-.9,2.0l-.9,1.9l-.9,1.9l-.9,2.0l-.9,1.9l-.9,2.0l-.9,1.9l-.9,2.0l-.9,2.0l-.9,1.9l-.9,1.9l-.9,1.9l-1,1.9l-.9,1.9l-.9,1.9l-.9,1.8l-.9,1.9l-1,1.8l-.9,1.8l-.9,1.9l-.9,1.8l-1,1.8l-.9,1.9l-.9,1.8l-.9,1.8l-.9,1.8l-1,1.9l-.9,1.8l-.9,1.8l-.9,1.8l-1,1.9l-.9,1.8l-.9,1.9l-.9,2.0l-.9,2.0l-1,2.0l-.9,2.1l-.9,2.1l-.9,2.1l-.9,2.1l-1,2.1l-.9,2.2" marker-start="url(#m250)" marker-mid="url(#m250)" marker-end="url(#m250)"/></g>
<g fill="none" stroke="#2424e8" stroke-linecap="round" stroke-linejoin="round"><path d="M384.0,229.5L384.9,230.0L386.1,230.6L387.5,231.4L389.1,232.2L390.7,233.1L392.3,234.1L393.8,235.0L395.1,236.0L396.2,237.0L397.2,238.1L398.2,239.2L399.1,240.3L399.9,241.5L400.7,242.6L401.5,243.7L402.3,244.7L403.1,245.7L403.8,246.7L404.6,247.7L405.2,248.6L405.9,249.5L406.5,250.3L407.1,251.1L407.6,251.8L408.1,252.4L408.5,252.9L408.8,253.4L409.1,253.8L409.4,254.2L409.6,254.5L409.8,254.8L410.0,255.0" stroke-width="3.20"/><path d="M381.0,245.0L381.4,244.5L381.9,243.9L382.5,243.1L383.2,242.2L383.9,241.4L384.6,240.6L385.4,240.0L386.2,239.6L387.0,239.4L387.8,239.4L388.7,239.4L389.6,239.6L390.5,239.8L391.5,240.2L392.4,240.6L393.3,241.1L394.2,241.7L395.1,242.4L396.0,243.2L396.9,244.1L397.8,245.1L398.7,246.1L399.6,247.2L400.5,248.3L401.4,249.5L402.4,250.9L403.4,252.4L404.3,253.9L405.3,255.4L406.2,256.8L406.9,258.0L407.6,259.0L408.1,259.8L408.6,260.4L408.9,260.8L409.2,261.2L409.5,261.4L409.7,261.6L409.8,261.8L410.0,262.0" stroke-width="3.20"/><path d="M337.5,240.0L337.8,239.8L338.2,239.4L338.7,239.0L339.3,238.6L339.8,238.1L340.4,237.7L341.0,237.3L341.5,237.0L342.0,236.8L342.5,236.6L343.0,236.4L343.4,236.2L343.9,236.1L344.4,236.1L344.9,236.0L345.4,236.0L345.9,236.0L346.4,236.1L346.9,236.1L347.5,236.2L348.0,236.4L348.5,236.6L349.0,236.8L349.5,237.0L350.0,237.3L350.5,237.7L351.0,238.1L351.5,238.6L352.0,239.0L352.4,239.4L352.7,239.8L353.0,240.0" stroke-width="4.50"/><path d="M390.0,358.5L390.6,358.2L391.3,357.9L392.2,357.5L393.2,357.0L394.2,356.5L395.3,355.9L396.3,355.2L397.2,354.4L398.1,353.5L398.9,352.5L399.7,351.4L400.6,350.2L401.4,349.0L402.2,347.8L403.0,346.7L403.8,345.6L404.6,344.5L405.5,343.4L406.4,342.3L407.3,341.3L408.1,340.2L408.9,339.3L409.5,338.6L410.0,338.0" stroke-width="2.00"/></g>
</g>
<g clip-path="url(#cp3)">
<g fill="none" stroke="#ff3050"><path d="M425.8,98.0L426.7,95.8L428.0,92.8L429.5,89.3L431.2,85.4L432.9,81.3L434.5,77.5L436.0,73.9L437.1,71.0L437.9,68.7L438.4,66.7L438.8,64.9L439.0,63.4L439.3,61.9L439.6,60.5L440.1,58.9L440.8,57.2L441.8,55.3L443.0,53.4L444.3,51.5L445.7,49.5L447.1,47.5L448.5,45.5L449.7,43.5L450.7,41.5L451.6,39.4L452.3,37.2L453.0,34.9L453.6,32.6L454.1,30.5L454.5,28.5L454.9,26.9L455.2,25.7" stroke-width="0.64" opacity="0.8"/><path d="M421.9,200.0L422.8,197.8L423.9,194.9L425.2,191.4L426.7,187.6L428.3,183.5L430.0,179.4L431.7,175.4L433.3,171.6L434.9,168.0L436.7,164.3L438.4,160.6L440.3,156.9L442.1,153.2L444.0,149.7L445.8,146.2L447.6,143.0L449.5,139.8L451.4,136.7L453.4,133.6L455.3,130.7L457.2,127.9L459.0,125.4L460.6,123.3L462.0,121.5L463.2,120.2L464.2,119.3L465.1,118.7L465.9,118.4L466.6,118.3L467.1,118.2L467.6,118.1L468.0,118.0" stroke-width="0.72" opacity="0.85"/><path d="M435.0,36.2L435.4,36.7L435.9,37.3L436.4,38.1L437.1,39.0L437.8,39.8L438.4,40.7L439.0,41.4L439.6,42.0L440.1,42.5L440.6,42.9L441.1,43.2L441.6,43.5L442.1,43.8L442.5,44.0L442.8,44.1L443.1,44.3" stroke-width="0.80"/><path d="M437.3,51.4L437.6,51.8L438.1,52.3L438.6,53.0L439.2,53.7L439.9,54.4L440.6,55.3L441.2,56.2L441.9,57.2L442.6,58.3L443.3,59.5L444.0,60.8L444.7,62.1L445.5,63.5L446.2,64.9L447.0,66.2L447.7,67.5L448.4,68.7L449.1,69.9L449.8,71.1L450.5,72.3L451.2,73.5L451.9,74.6L452.6,75.7L453.4,76.7L454.2,77.7L455.0,78.6L455.8,79.6L456.7,80.5L457.6,81.3L458.5,82.1L459.4,82.8L460.3,83.5L461.3,84.2L462.2,84.9L463.2,85.5L464.2,86.1L465.3,86.6L466.3,86.9L467.4,87.1L468.5,87.0L469.6,86.7L470.8,86.1L472.0,85.4L473.1,84.6L474.3,83.6L475.5,82.5L476.7,81.3L477.9,80.0L479.0,78.7L480.1,77.3L481.2,75.9L482.3,74.3L483.4,72.6L484.6,70.7L485.8,68.7L487.0,66.4L488.4,63.7L489.9,60.4L491.6,56.8L493.2,53.1L494.8,49.5L496.2,46.2L497.4,43.5L498.3,41.5" stroke-width="0.88"/><path d="M441.9,58.3L442.5,59.4L443.4,60.9L444.4,62.7L445.5,64.6L446.7,66.7L447.9,68.7L449.0,70.5L450.0,72.0L450.9,73.3L451.8,74.4L452.7,75.5L453.5,76.5L454.4,77.4L455.2,78.3L456.1,79.1L457.0,80.0L458.0,80.9L459.0,81.8L460.0,82.6L461.0,83.4L462.0,84.2L463.0,84.9L464.0,85.5L465.0,86.0L466.0,86.4L467.0,86.6L468.0,86.8L469.0,86.9L469.9,86.9L470.8,86.9L471.5,87.0L472.0,87.0" stroke-width="0.80"/><path d="M488.5,24.8L488.8,25.7L489.3,26.8L489.9,28.1L490.5,29.6L491.1,31.2L491.8,32.8L492.4,34.5L493.0,36.2L493.6,37.9L494.1,39.8L494.7,41.7L495.3,43.6L495.8,45.6L496.4,47.5L497.0,49.3L497.6,51.0L498.2,52.5L498.9,53.9L499.5,55.3L500.2,56.5L500.9,57.8L501.5,59.1L502.2,60.4L502.8,61.9L503.4,63.5L504.0,65.1L504.6,66.9L505.2,68.6L505.8,70.4L506.3,72.1L506.9,73.8L507.4,75.5L507.9,77.2L508.5,79.0L509.0,80.8L509.5,82.6L510.0,84.3L510.4,85.8L510.7,87.0L511.0,88.0" stroke-width="0.64" opacity="0.8"/><path d="M496.5,48.0L496.7,48.5L497.1,49.2L497.4,50.1L497.8,51.0L498.3,52.0L498.8,53.0L499.3,54.0L499.9,54.9L500.5,55.8L501.2,56.7L502.0,57.7L502.8,58.7L503.6,59.6L504.3,60.4L505.0,61.2L505.7,61.8L506.3,62.3L506.8,62.6L507.2,62.9L507.7,63.1L508.1,63.3L508.6,63.4L509.1,63.4L509.7,63.5L510.4,63.6L511.2,63.6L512.1,63.6L513.0,63.5L513.8,63.4L514.7,63.3L515.4,63.1L516.0,62.9L516.5,62.6L516.9,62.2L517.3,61.7L517.5,61.2L517.8,60.6L518.0,60.2L518.1,59.8L518.3,59.5" stroke-width="0.88"/><path d="M511.4,74.4L511.8,73.6L512.3,72.6L512.8,71.3L513.5,69.9L514.2,68.5L514.8,67.2L515.5,66.1L516.0,65.2L516.5,64.6L516.9,64.1L517.2,63.7L517.6,63.5L517.9,63.3L518.3,63.2L518.8,63.0L519.4,62.9L520.1,62.8L520.9,62.7L521.8,62.6L522.7,62.5L523.6,62.5L524.6,62.6L525.5,62.7L526.3,62.9L527.1,63.2L527.9,63.6L528.8,64.1L529.6,64.6L530.3,65.1L531.0,65.6L531.6,66.0L532.0,66.3" stroke-width="0.88"/><path d="M452.0,96.0L452.6,95.5L453.4,94.9L454.4,94.1L455.5,93.2L456.6,92.3L457.8,91.4L458.9,90.6L460.0,90.0L461.0,89.5L462.1,89.0L463.1,88.5L464.2,88.1L465.2,87.8L466.3,87.5L467.3,87.2L468.4,87.0L469.4,86.8L470.3,86.7L471.3,86.6L472.2,86.6L473.2,86.6L474.3,86.6L475.5,86.7L477.0,86.7L478.7,86.7L480.6,86.8L482.7,86.9L484.9,87.0L487.1,87.1L489.4,87.3L491.6,87.4L493.7,87.5L495.8,87.6L497.9,87.6L500.1,87.6L502.2,87.7L504.3,87.8L506.2,87.9L508.0,88.1L509.6,88.4L511.0,88.8L512.1,89.4L513.1,90.0L514.0,90.7L514.8,91.4L515.6,92.1L516.3,92.8L517.1,93.4L517.9,94.0L518.6,94.7L519.3,95.4L520.0,96.0L520.6,96.6L521.2,97.2L521.6,97.6L522.0,98.0" stroke-width="1.44"/><path d="M509.6,88.4L509.9,89.0L510.3,89.9L510.8,90.8L511.3,91.9L511.9,93.1L512.5,94.3L513.1,95.5L513.8,96.7L514.5,97.9L515.3,99.2L516.1,100.5L516.9,101.8L517.8,103.1L518.7,104.4L519.6,105.6L520.4,106.7L521.2,107.7L522.1,108.6L523.0,109.5L523.8,110.4L524.7,111.2L525.5,111.9L526.3,112.7L527.1,113.4L527.8,114.1L528.6,114.9L529.3,115.6L530.0,116.3L530.7,117.0L531.2,117.5L531.7,118.0L532.1,118.4" stroke-width="0.96"/><path d="M477.0,84.7L477.5,84.4L478.2,84.1L479.0,83.8L479.9,83.3L480.9,82.8L481.9,82.1L482.9,81.2L483.9,80.1L484.9,78.7L485.9,77.0L487.0,75.1L488.1,73.0L489.2,70.9L490.2,68.8L491.1,66.9L491.9,65.2L492.6,63.6L493.2,62.1L493.7,60.5L494.1,59.1L494.5,57.8L494.8,56.6L495.1,55.7L495.3,54.9" stroke-width="0.64" opacity="0.8"/><path d="M422.0,119.3L422.5,118.8L423.2,118.2L424.0,117.4L424.9,116.6L425.8,115.7L426.9,114.8L427.9,114.1L429.0,113.4L430.1,112.9L431.2,112.5L432.4,112.2L433.6,111.9L434.9,111.6L436.2,111.2L437.6,110.7L439.0,110.1L440.5,109.3L442.2,108.4L443.9,107.3L445.7,106.2L447.5,105.1L449.2,103.9L450.9,102.8L452.4,101.7L453.8,100.6L455.2,99.6L456.6,98.5L457.9,97.4L459.1,96.3L460.3,95.3L461.4,94.3L462.4,93.4L463.4,92.5L464.3,91.6L465.2,90.8L466.0,89.9L466.7,89.2L467.3,88.5L467.9,87.9L468.3,87.5" stroke-width="1.28"/><path d="M422.0,119.3L422.5,119.6L423.3,120.1L424.1,120.6L425.1,121.2L426.1,121.9L427.1,122.4L428.1,123.0L429.0,123.4L429.8,123.8L430.6,124.2L431.4,124.6L432.2,124.9L433.0,125.2L433.8,125.3L434.7,125.3L435.7,125.1L436.8,124.7L438.0,124.0L439.2,123.2L440.5,122.3L441.8,121.3L443.1,120.3L444.4,119.3L445.7,118.4L447.0,117.5L448.3,116.5L449.6,115.6L451.0,114.6L452.3,113.7L453.5,112.8L454.7,112.2L455.8,111.7L456.8,111.4L457.7,111.3L458.6,111.3L459.4,111.5L460.1,111.7L460.9,112.0L461.6,112.3L462.4,112.6L463.2,113.0L463.9,113.5L464.5,114.0L465.2,114.7L465.9,115.3L466.6,115.9L467.4,116.4L468.3,116.8L469.3,117.1L470.5,117.4L471.7,117.7L473.0,117.9L474.3,118.0L475.4,118.2L476.3,118.3L477.0,118.4" stroke-width="0.96"/><path d="M422.0,119.3L423.1,119.0L424.6,118.7L426.3,118.3L428.3,117.8L430.3,117.4L432.3,116.9L434.1,116.4L435.7,116.0L437.1,115.6L438.3,115.2L439.5,114.8L440.6,114.4L441.7,114.0L442.7,113.6L443.8,113.3L445.0,113.0L446.2,112.8L447.5,112.6L448.8,112.4L450.1,112.2L451.4,112.1L452.7,112.1L453.9,112.0L455.0,112.0L456.1,112.0L457.1,112.1L458.2,112.3L459.1,112.4L460.0,112.6L460.8,112.8L461.5,112.9L462.0,113.0" stroke-width="0.80"/><path d="M468.0,115.5L468.7,115.1L469.6,114.6L470.7,114.0L471.9,113.3L473.2,112.7L474.6,112.0L475.8,111.4L477.0,111.0L478.1,110.6L479.1,110.2L480.2,109.7L481.2,109.4L482.3,109.1L483.4,109.0L484.5,109.1L485.8,109.5L487.1,110.1L488.6,111.0L490.1,112.1L491.6,113.3L493.2,114.7L494.7,116.1L496.3,117.6L497.8,119.1L499.3,120.8L500.8,122.8L502.3,125.1L503.8,127.3L505.2,129.4L506.7,131.2L508.2,132.6L509.7,133.4L511.2,133.5L512.7,133.2L514.3,132.4L515.8,131.3L517.3,130.0L518.8,128.7L520.2,127.4L521.6,126.3L523.0,125.3L524.4,124.1L525.8,122.9L527.1,121.7L528.4,120.5L529.5,119.4L530.5,118.6L531.2,117.9" stroke-width="0.80"/><path d="M468.3,116.8L477.0,113.4" stroke-width="0.80"/><path d="M421.9,165.6L422.8,164.2L423.9,162.4L425.2,160.3L426.7,157.8L428.3,155.3L430.0,152.7L431.7,150.1L433.3,147.7L434.9,145.3L436.5,142.8L438.2,140.2L439.9,137.6L441.7,135.1L443.5,132.7L445.5,130.5L447.6,128.6L449.9,126.9L452.4,125.2L455.0,123.7L457.7,122.4L460.4,121.2L463.0,120.2L465.6,119.5L467.9,119.1L470.1,119.0L472.1,119.2L474.1,119.6L476.0,120.3L477.9,121.1L479.7,122.0L481.5,123.0L483.4,123.9L485.3,124.9L487.1,126.0L489.0,127.2L490.8,128.4L492.6,129.7L494.4,131.0L496.1,132.2L497.8,133.4L499.4,134.5L501.0,135.5L502.6,136.5L504.1,137.5L505.5,138.5L507.0,139.6L508.3,140.6L509.7,141.8L511.0,143.0L512.2,144.2L513.3,145.5L514.4,146.8L515.6,148.1L516.7,149.5L517.9,151.0L519.2,152.5L520.7,154.2L522.3,156.2L524.0,158.2L525.8,160.3L527.5,162.3L529.0,164.1L530.3,165.7L531.2,166.8" stroke-width="1.28"/><path d="M421.9,168.0L422.8,166.6L423.9,164.8L425.2,162.6L426.7,160.2L428.3,157.6L430.0,155.0L431.7,152.4L433.3,150.0L434.9,147.6L436.5,145.1L438.2,142.5L439.9,140.0L441.7,137.5L443.5,135.1L445.5,132.9L447.6,131.0L449.9,129.3L452.4,127.6L455.0,126.1L457.7,124.8L460.4,123.6L463.0,122.6L465.6,121.9L467.9,121.5L470.1,121.4L472.1,121.6L474.1,122.0L476.0,122.7L477.9,123.5L479.7,124.4L481.5,125.4L483.4,126.3L485.3,127.3L487.1,128.4L489.0,129.6L490.8,130.8L492.6,132.1L494.4,133.4L496.1,134.6L497.8,135.8L499.4,136.9L501.0,137.9L502.6,138.8L504.1,139.8L505.5,140.8L507.0,141.8L508.3,142.8L509.7,144.0L511.0,145.2L512.2,146.5L513.3,147.8L514.4,149.1L515.6,150.5L516.7,152.0L517.9,153.5L519.2,155.0L520.7,156.7L522.3,158.6L524.0,160.6L525.8,162.7L527.5,164.6L529.0,166.4L530.3,167.9L531.2,169.0" stroke-width="0.96"/><path d="M477.0,123.0L478.0,123.7L479.4,124.7L481.1,125.8L482.9,127.1L484.8,128.4L486.7,129.8L488.4,131.0L490.0,132.0L491.4,132.9L492.7,133.8L494.0,134.6L495.2,135.3L496.4,136.0L497.6,136.7L498.8,137.4L500.0,138.0L501.2,138.5L502.5,138.7L503.7,138.9L504.9,139.0L506.1,139.3L507.3,139.7L508.5,140.6L509.7,141.8L510.9,143.4L512.0,145.4L513.2,147.6L514.3,150.0L515.5,152.7L516.7,155.6L517.9,158.7L519.2,162.0L520.7,165.8L522.3,170.2L524.0,175.1L525.8,180.0L527.5,184.8L529.0,189.2L530.3,192.8L531.2,195.5" stroke-width="0.80"/><path d="M462.0,80.0L462.5,80.6L463.1,81.5L463.9,82.6L464.8,83.8L465.7,84.9L466.6,85.9L467.5,86.6L468.4,87.0L469.3,87.0L470.2,86.7L471.2,86.1L472.1,85.4L473.0,84.7L473.8,84.0L474.5,83.4L475.0,83.0" stroke-width="0.72"/><path d="M421.8,382.5L422.7,380.6L423.8,378.1L425.1,375.2L426.6,371.9L428.2,368.4L429.9,365.0L431.6,361.8L433.2,358.9L434.8,356.3L436.6,353.7L438.4,351.2L440.2,348.7L442.1,346.4L443.9,344.1L445.6,342.0L447.3,340.0L448.9,338.1L450.5,336.4L452.0,334.7L453.5,333.2L455.0,331.8L456.5,330.5L457.8,329.3L459.2,328.2L460.5,327.2L461.7,326.3L462.9,325.6L464.0,324.9L465.1,324.4L466.2,323.9L467.4,323.6L468.6,323.4L469.8,323.3L471.1,323.3L472.3,323.5L473.6,323.7L474.9,324.1L476.2,324.5L477.6,325.1L479.0,325.8L480.5,326.6L482.1,327.4L483.8,328.3L485.5,329.4L487.2,330.6L488.9,331.9L490.4,333.5L491.9,335.3L493.3,337.5L494.6,340.1L495.8,342.9L497.0,345.9L498.2,348.9L499.3,351.7L500.4,354.3L501.4,356.5L502.4,358.3L503.5,359.9L504.5,361.3L505.5,362.6L506.4,363.6L507.2,364.6L507.9,365.3L508.4,366.0" stroke-width="0.96"/><path d="M426.1,328.2L427.0,329.4L428.2,331.1L429.7,333.0L431.3,335.1L433.0,337.4L434.7,339.9L436.3,342.3L437.9,344.7L439.4,347.2L440.8,349.8L442.3,352.5L443.8,355.3L445.3,358.2L446.7,360.9L448.2,363.5L449.7,366.0L451.2,368.4L452.8,370.8L454.4,373.1L456.1,375.4L457.6,377.5L459.1,379.4L460.4,381.1L461.5,382.5L462.4,383.6L463.2,384.4L463.9,384.9L464.5,385.3L465.0,385.5L465.4,385.7L465.7,385.8L466.0,386.0" stroke-width="0.80"/><path d="M472.0,386.0L472.6,385.8L473.4,385.6L474.3,385.3L475.3,385.0L476.4,384.6L477.6,384.0L478.9,383.4L480.1,382.5L481.4,381.4L482.7,380.0L484.0,378.4L485.5,376.7L487.0,375.0L488.5,373.3L490.2,371.9L491.9,370.7L493.8,369.7L495.9,368.9L498.1,368.1L500.3,367.5L502.5,366.9L504.7,366.5L506.6,366.2L508.4,366.0L509.9,366.0L511.1,366.4L512.3,366.9L513.3,367.5L514.3,368.1L515.3,368.5L516.5,368.6L517.9,368.3L519.6,367.5L521.5,366.3L523.6,364.8L525.7,363.2L527.8,361.5L529.7,360.0L531.2,358.7L532.4,357.8" stroke-width="1.04"/><path d="M513.2,375.4L514.1,375.8L515.4,376.3L517.0,377.0L518.7,377.7L520.4,378.4L522.1,379.1L523.7,379.7L525.0,380.2L526.2,380.6L527.3,381.0L528.3,381.3L529.3,381.7L530.2,381.9L530.9,382.1L531.6,382.3L532.1,382.5" stroke-width="1.04"/><path d="M527.3,325.8L532.1,323.4" stroke-width="0.96"/></g>
<g fill="none" stroke="#9040d0"><path d="M422.0,105.9L422.3,106.4L422.6,107.0L423.0,107.8L423.4,108.6L423.9,109.4L424.5,110.3L425.1,111.1L425.7,111.7L426.4,112.3L427.1,112.8L427.9,113.4L428.8,113.9L429.6,114.3L430.5,114.7L431.5,114.9L432.4,115.1L433.4,115.2L434.4,115.1L435.4,115.0L436.4,114.8L437.5,114.5L438.6,114.2L439.6,113.8L440.7,113.4L441.8,112.9L443.0,112.3L444.2,111.5L445.4,110.8L446.6,110.1L447.6,109.4L448.5,108.8L449.1,108.4" stroke-width="0.88"/><path d="M482.0,91.7L482.4,92.4L482.9,93.2L483.4,94.3L484.1,95.5L484.8,96.7L485.5,97.9L486.3,99.0L487.0,100.0L487.8,100.9L488.6,101.9L489.4,102.8L490.2,103.7L491.1,104.5L492.0,105.2L492.9,105.7L493.7,105.9L494.5,105.9L495.4,105.7L496.2,105.2L497.0,104.7L497.9,104.0L498.7,103.3L499.6,102.5L500.4,101.7L501.3,100.9L502.2,99.9L503.1,98.9L504.0,97.8L504.8,96.7L505.7,95.6L506.4,94.5L507.1,93.4L507.7,92.3L508.2,91.1L508.7,89.9L509.2,88.7L509.6,87.5L509.9,86.5L510.2,85.6L510.4,85.0" stroke-width="0.88"/></g>
<g fill="none" stroke="none"><path d="M421.8,64.7l.6,-.8l.6,-.9l.6,-.9l.5,-.9l.6,-.9l.6,-.8l.6,-.9l.6,-.9l.6,-1.0l.6,-.9l.5,-1.0l.6,-1.0l.6,-1.0l.6,-1.1l.6,-1.2l.6,-1.4l.6,-1.5l.5,-1.8l.6,-2.0l.6,-2.3l.6,-2.3l.6,-2.6" marker-start="url(#m150)" marker-mid="url(#m150)" marker-end="url(#m150)"/><path d="M421.8,64.3l.6,.5l.6,.5l.6,.6l.5,.5l.6,.4l.6,.4l.6,.3l.6,.3l.6,.2l.6,.2l.5,.2l.6,.1l.6,.1l.6,.1l.6,.0l.6,.0l.6,-.1l.5,-.2l.6,-.2l.6,-.3l.6,-.3l.6,-.3l.6,-.4l.5,-.4l.6,-.5l.6,-.5l.6,-.6l.6,-.7l.6,-.8l.6,-.9l.5,-.9l.6,-1.0l.6,-1.0l.6,-1.0l.6,-1.0l.6,-1.1l.6,-1.2l.5,-1.3" marker-start="url(#m150)" marker-mid="url(#m150)" marker-end="url(#m150)"/><path d="M444,46.5l1.2,-3.0l1.2,-3.0l1.2,-2.8l1.1,-2.9l1.2,-3.1l1.2,-2.3l1.1,-1.2l1.2,.1l1.2,.8l1.1,1.2l1.2,1.3l1.2,1.3l1.2,1.3l1.1,1.5l1.2,1.5l1.2,1.5l1.1,1.2l1.2,1.2l1.2,1.1l1.2,.7l1.1,.2l1.2,-.3l1.2,-.7l1.2,-.9l1.2,-1.0l1.2,-1.0l1.2,-1.3l1.2,-1.7l1.2,-1.6l1.2,-1.7l1.2,-1.8l1.1,-2.0l1.2,-2.4l1.2,-2.8l1.2,-2.5l1.2,-2.1" marker-start="url(#m150)" marker-mid="url(#m150)" marker-end="url(#m150)"/><path d="M453.4,31.2l1.2,3.0l1.1,3.6l1.2,4.6l1.2,5.5l1.2,6.1l1.1,6.2l1.2,6.2l1.2,5.2l1.1,4.2l1.2,3.8l1.2,3.7l1.2,4.3l1.1,1.2l1.2,-3.3l1.2,-4.5l1.2,-4.2l1.2,-4.4l1.2,-4.8l1.2,-5.2l1.2,-5.3l1.2,-5.2l1.2,-5.1l1.2,-5.3l1.1,-5.3l1.2,-4.9l1.2,-4.1" marker-start="url(#m300)" marker-mid="url(#m300)" marker-end="url(#m300)"/><path d="M501.4,31.6l.6,1.9l.6,1.8l.6,1.7l.6,1.4l.6,1.4l.6,1.3l.6,1.2l.6,1.1l.6,.9l.6,.8l.6,.6l.6,.4l.6,.3l.6,.1l.6,.1l.5,.1l.6,.1l.6,.0l.6,.1l.6,-.1l.6,.0l.6,-.2l.5,-.3l.6,-.5l.6,-.8l.6,-1.4l.6,-2.3l.6,-2.8l.6,-2.6l.5,-1.6l.6,-.3l.6,.6l.6,1.3l.6,1.6l.6,1.8l.5,1.9l.6,1.9l.6,2.2l.6,2.6l.6,2.6l.6,2.7l.6,2.9l.5,2.7l.6,2.1l.6,1.5l.6,.9l.6,.7l.6,.6l.6,.5l.5,.5l.6,.5" marker-start="url(#m150)" marker-mid="url(#m150)" marker-end="url(#m150)"/><path d="M497.9,54.2l.6,1.2l.5,1.2l.6,1.2l.6,1.2l.6,1.2l.6,1.2l.6,1.2l.6,1.1l.6,1.2l.6,1.1l.6,1.1l.6,1.2l.6,1.1l.6,1.1l.6,1.0l.6,.9l.6,.8l.6,.6l.6,.4l.6,.2l.6,.0l.5,.0l.6,.0l.6,-.2l.6,-.3l.6,-.4" marker-start="url(#m125)" marker-mid="url(#m125)" marker-end="url(#m125)"/><path d="M520.9,55.2l.6,.6l.6,.6l.5,.5l.6,.6l.6,.6l.6,.6l.6,.7l.6,.6l.6,.7l.5,.7l.6,.7l.6,.7l.6,.7l.6,.6l.6,.7l.6,.7l.5,.7" marker-start="url(#m150)" marker-mid="url(#m150)" marker-end="url(#m150)"/><path d="M520.9,48.6l.6,1.4l.6,1.4l.5,1.3l.6,1.2l.6,1.2l.6,1.0l.6,.9l.6,.8l.6,.7l.5,.7l.6,.6l.6,.5l.6,.6l.6,.5l.6,.5l.6,.5l.5,.6l.6,.5" marker-start="url(#m150)" marker-mid="url(#m150)" marker-end="url(#m150)"/><path d="M513.9,78.0l.6,.5l.5,.5l.6,.5l.6,.5l.6,.6l.6,.6l.6,.7l.6,.9l.5,1.0l.6,1.2l.6,1.3l.6,1.3l.6,1.2l.6,1.1l.5,1.1l.6,1.1l.6,1.0l.6,1.1l.6,1.0l.6,1.0l.6,1.1l.5,1.0l.6,1.0l.6,1.0l.6,.9l.6,.9l.6,.9l.6,.8l.5,.7l.6,.7l.6,.6" marker-start="url(#m150)" marker-mid="url(#m150)" marker-end="url(#m150)"/><path d="M433.5,81.4l-1.2,3.4l-1.1,3.3l-1.2,3.0l-1.2,2.7l-1.1,2.3l-1.2,2.1l-1.2,2.1l-1.2,2.0l-1.1,1.9" marker-start="url(#m75)" marker-mid="url(#m75)" marker-end="url(#m75)"/><path d="M466.3,88.6l.6,.1l.6,.2l.5,.1l.6,.0l.6,-.1l.6,-.1l.6,-.2" marker-start="url(#m250t)" marker-mid="url(#m250t)" marker-end="url(#m250t)"/><path d="M421.8,249.0l.8,-3.4l.8,-3.3l.7,-3.1l.8,-2.9l.8,-2.5l.8,-2.2l.8,-2.2l.7,-2.0l.8,-1.9l.8,-1.8l.8,-1.7l.8,-1.7l.7,-1.4l.8,-1.4l.8,-1.3l.8,-1.2l.8,-1.2l.7,-1.0l.8,-1.1l.8,-.9l.8,-.9l.8,-.9l.7,-.8l.8,-.8l.8,-.7l.8,-.7l.8,-.7l.8,-.6l.7,-.6l.8,-.6l.8,-.6l.8,-.5l.8,-.4l.7,-.5l.8,-.4l.8,-.4l.8,-.3l.8,-.3l.7,-.3l.8,-.3l.8,-.3l.8,-.2l.8,-.2l.7,-.2l.8,-.2l.8,-.2l.8,-.1l.8,-.2l.7,-.1l.8,-.1l.8,-.1l.8,-.1l.8,-.1l.7,-.1l.8,.0l.8,-.1l.8,.0l.8,.0l.7,.1l.8,.0l.8,.1l.8,.1l.8,.2l.8,.2l.8,.2l.8,.3l.8,.3l.8,.3l.8,.4l.8,.3l.8,.4l.8,.4l.8,.4l.8,.5l.8,.4l.8,.4l.7,.5l.8,.4l.8,.5l.8,.5l.8,.5l.8,.6l.8,.5l.8,.6l.8,.5l.8,.6l.8,.6l.8,.5l.8,.6l.8,.6l.8,.5l.8,.6l.8,.6l.8,.6l.8,.5l.8,.6l.8,.6l.7,.6l.8,.7l.8,.6l.8,.6l.8,.6l.8,.6l.8,.6l.8,.6l.8,.6l.8,.6l.8,.6l.8,.6l.8,.5l.8,.4l.8,.4l.7,.1l.8,.4l.8,.5l.8,.6l.8,.6l.8,.6l.7,.6l.8,.6l.8,.7l.8,.6l.8,.7l.7,.8l.8,.8l.8,.8l.8,.9l.8,1.1l.7,1.2l.8,1.2l.8,1.4l.8,1.4l.8,1.5l.7,1.4l.8,1.3l.8,1.3l.8,1.2l.8,1.2l.7,1.1l.8,1.2l.8,1.2" marker-start="url(#m225t)" marker-mid="url(#m225t)" marker-end="url(#m225t)"/><path d="M490.1,271.0l.6,-1.6l.6,-1.6l.6,-1.7l.6,-1.6l.6,-1.6l.6,-1.6l.6,-1.6l.6,-1.6l.6,-1.6l.6,-1.5l.6,-1.5l.6,-1.5l.6,-1.5l.6,-1.5l.5,-1.5l.6,-1.4l.6,-1.5l.6,-1.4l.6,-1.3l.6,-1.3l.6,-1.2l.6,-1.2l.6,-1.0l.6,-1.1l.6,-1.0l.6,-1.0l.6,-1.0l.6,-.8l.6,-.8l.6,-.7l.6,-.7l.6,-.5l.6,-.4l.6,-.3l.5,-.2l.6,-.1l.6,.0l.6,.1l.6,.1l.6,.3l.6,.3l.5,.4l.6,.5l.6,.4l.6,.5l.6,.5l.6,.6l.6,.6l.5,.7l.6,.7l.6,.7l.6,.7l.6,.8l.6,.8l.5,.7l.6,.8l.6,.9l.6,.8l.6,.8l.6,.8l.6,.9l.5,.9l.6,.9l.6,.9l.6,1.0l.6,.9l.6,1.0l.6,1.0l.5,1.1l.6,1.0l.6,1.0l.6,1.0" marker-start="url(#m250t)" marker-mid="url(#m250t)" marker-end="url(#m250t)"/><path d="M421.8,335.2l.9,-1.9l.9,-1.8l.9,-2.0l.9,-2.0l.9,-2.2l.9,-2.3l.9,-2.4l.9,-2.4l.9,-2.4l.9,-2.5l.9,-2.4l.9,-2.4l.9,-2.4l.9,-2.4l.9,-2.4l.9,-2.3l.9,-2.4l.9,-2.4l.9,-2.4l.9,-2.4l.9,-2.6l.9,-2.7l.9,-3.0l.9,-3.0l.9,-2.8l.9,-2.7l.9,-2.7l.9,-2.7l.9,-2.6l.9,-2.5l.9,-2.5l.9,-2.5l.9,-2.5l.9,-2.4l.9,-2.4l.9,-2.3l.9,-2.2l.9,-2.1l.9,-2.0l.9,-1.9l.9,-1.9l.9,-1.8l.9,-1.7l.9,-1.5l.9,-1.4l.9,-1.4l.9,-1.3l.9,-1.1l.9,-1.0l.9,-.8l.9,-.5l.9,-.1l.9,.4l1,.7l.9,1.1l.9,1.5l.9,1.7l1,1.9l.9,2.4l.9,2.8l.9,3.1l.9,3.1l1,2.8l.9,2.6l.9,2.7l.9,2.7l1,2.8l.9,3.0l.9,3.1l.9,3.3l.9,3.3l1,3.3l.9,3.2l.9,3.2l.9,3.2l.9,3.3l1,3.2l.9,3.2l.9,3.0l.9,3.0l1,3.3l.9,3.7l.9,5.0l.9,7.5l.9,8.3l1,7.2l.9,7.2l.9,7.3l.9,6.9l1,8.3l.9,14.5" marker-start="url(#m275)" marker-mid="url(#m275)" marker-end="url(#m275)"/><path d="M463.9,239.9l-1.1,5.9l-1.2,6.4l-1.2,7.0l-1.1,7.0l-1.2,6.9l-1.2,6.9l-1.2,6.8l-1.1,13.7l-1.2,8.1l-1.2,6.8l-1.1,7.9l-1.2,8.3l-1.2,8.0l-1.1,8.0l-1.2,8.4l-1.2,8.5l-1.2,8.2l-1.1,8.0" marker-start="url(#m275)" marker-mid="url(#m275)" marker-end="url(#m275)"/><path d="M472.2,240.0l1.2,7.0l1.2,7.0l1.2,7.1l1.2,7.3l1.2,7.4l1.2,7.8l1.2,6.3l1.1,-1.9l1.2,2.5l1.2,10.7l1.2,9.5l1.2,7.9l1.2,8.9l1.2,10.1l1.2,9.0l1.2,8.0l1.2,8.7l1.2,9.3l1.2,11.5" marker-start="url(#m250)" marker-mid="url(#m250)" marker-end="url(#m250)"/><path d="M421.8,252.1l1.2,1.1l1.1,1.1l1.2,1.1l1.2,1.2l1.2,1.1l1.1,1.1l1.2,1.2l1.2,1.1l1.1,1.2l1.2,1.3l1.2,1.2l1.1,1.2l1.2,1.3l1.2,1.3l1.2,1.3l1.1,1.4l1.2,1.4l1.2,1.6l1.1,1.7l1.2,1.7l1.2,1.9l1.2,2.0l1.1,1.9l1.2,2.0l1.2,2.0l1.1,2.1l1.2,2.1l1.2,2.1l1.1,2.2l1.2,2.2l1.2,2.3l1.2,2.2l1.1,2.3l1.2,2.1l1.2,2.1l1.1,2.0l1.2,2.0l1.2,2.0l1.2,1.9l1.1,1.9l1.2,1.9l1.2,1.9l1.2,1.8l1.2,1.9l1.2,1.9l1.2,1.8l1.2,1.9l1.2,1.8l1.2,1.8l1.2,1.9l1.1,1.8l1.2,1.9l1.2,1.9l1.2,2.0l1.2,2.0l1.2,2.0l1.2,2.0l1.2,2.0l1.2,1.9l1.2,2.0l1.2,2.0l1.2,2.0l1.2,1.9l1.2,2.0l1.2,2.0l1.1,2.0l1.2,1.9l1.2,2.0l1.2,2.0l1.2,2.1l1.2,2.1l1.2,2.3l1.2,2.5" marker-start="url(#m225)" marker-mid="url(#m225)" marker-end="url(#m225)"/><path d="M421.8,262.1l1.2,1.2l1.1,1.3l1.2,1.2l1.2,1.2l1.2,1.3l1.1,1.2l1.2,1.3l1.2,1.3l1.1,1.3l1.2,1.3l1.2,1.4l1.1,1.3l1.2,1.4l1.2,1.5l1.2,1.4l1.1,1.5l1.2,1.5l1.2,1.6l1.1,1.8l1.2,1.8l1.2,1.8l1.2,2.0l1.1,1.9l1.2,1.8l1.2,1.9l1.1,1.9l1.2,2.0l1.2,1.9l1.1,2.0l1.2,2.0l1.2,2.0l1.2,2.1l1.1,2.1l1.2,2.0l1.2,2.0l1.1,2.0l1.2,2.0l1.2,1.9l1.2,1.9l1.1,1.9l1.2,1.8l1.2,1.7l1.2,1.8l1.2,1.7l1.2,1.8l1.2,1.9l1.2,1.9l1.2,2.0l1.2,2.0l1.2,2.1l1.1,2.1l1.2,2.1l1.2,2.1l1.2,2.1l1.2,2.0l1.2,2.1l1.2,2.1l1.2,2.1l1.2,2.1l1.2,2.1l1.2,2.1l1.2,2.1l1.2,2.1l1.2,2.1l1.2,2.1l1.1,2.0l1.2,1.8l1.2,1.7" marker-start="url(#m200)" marker-mid="url(#m200)" marker-end="url(#m200)"/><path d="M421.8,323.0l1.2,-2.9l1.1,-2.8l1.2,-2.9l1.2,-2.8l1.2,-2.8l1.1,-2.7l1.2,-2.7l1.2,-2.6l1.1,-2.4l1.2,-2.4l1.2,-2.2l1.1,-2.1l1.2,-2.1l1.2,-2.1l1.2,-2.3l1.1,-2.3l1.2,-2.3" marker-start="url(#m200)" marker-mid="url(#m200)" marker-end="url(#m200)"/><path d="M424.1,336.5l.8,2.3l.8,2.3l.8,2.4l.8,2.3l.7,2.5l.8,2.5l.8,2.6l.8,2.7l.8,2.7l.7,2.8l.8,2.7l.8,2.8l.8,2.7l.8,2.7l.7,2.7l.8,2.7l.8,2.8l.8,2.9" marker-start="url(#m225t)" marker-mid="url(#m225t)" marker-end="url(#m225t)"/><path d="M442.9,382.2l1.1,-1.5l1.2,-1.4l1.2,-1.5l1.2,-1.4l1.1,-1.5l1.2,-1.4l1.2,-1.4l1.1,-1.4l1.2,-1.3l1.2,-1.3l1.1,-1.3l1.2,-1.4l1.2,-1.4l1.2,-1.3l1.1,-1.4l1.2,-1.3l1.2,-1.3l1.1,-1.2l1.2,-1.1l1.2,-.9l1.2,-.8l1.1,-.6l1.2,-.3l1.2,.0l1.2,.3l1.2,.6l1.2,.8l1.2,.9l1.2,1.0l1.2,.9l1.2,.8l1.2,.9l1.1,.8l1.2,.9l1.2,1.0l1.2,1.0l1.2,1.0l1.2,1.1l1.2,1.1l1.2,1.2l1.2,1.3l1.2,1.4l1.2,1.5l1.2,1.5l1.2,1.6l1.2,1.6" marker-start="url(#m200)" marker-mid="url(#m200)" marker-end="url(#m200)"/><path d="M473.4,311.6l.6,-.1l.6,.0l.6,-.1l.6,.0l.6,-.1l.6,-.1l.6,.0l.6,-.1l.6,.0l.6,-.1l.6,.0l.6,-.1l.6,.0l.5,-.1l.6,-.1l.6,-.1l.6,.0l.6,-.1l.6,-.1l.6,-.1l.6,-.1l.6,-.1l.6,-.1l.6,-.1l.6,-.1l.6,-.2l.6,-.1l.6,-.1l.6,-.2l.6,-.1l.6,-.1l.6,-.2l.6,-.1l.6,-.1l.6,-.1l.6,-.1l.6,-.1l.6,-.1l.6,-.1l.6,-.1l.6,.0l.6,-.1l.5,.0l.6,-.1l.6,.0l.6,.0l.6,-.1l.6,.0l.6,.0l.6,.0l.6,-.1l.6,.0l.6,.0l.6,-.1l.6,.0l.6,-.1l.6,-.1l.6,.0l.6,-.1l.6,-.2l.6,-.2l.6,-.1l.5,-.3l.6,-.2l.6,-.3l.6,-.4l.6,-.5l.6,-.6l.6,-.7l.5,-.8l.6,-.9l.6,-.9l.6,-1.0l.6,-1.1l.6,-1.2l.6,-1.1l.5,-1.3l.6,-1.2l.6,-1.2l.6,-1.3l.6,-1.3l.6,-1.3l.5,-1.2l.6,-1.3l.6,-1.4l.6,-1.6l.6,-1.5l.6,-1.3l.6,-1.1l.5,-1.1l.6,-1.0l.6,-1.0l.6,-.9l.6,-1.0l.6,-.9l.6,-1.0l.5,-.9l.6,-1.0" marker-start="url(#m200t)" marker-mid="url(#m200t)" marker-end="url(#m200t)"/><path d="M473.4,319.9l1.2,-.3l1.2,-.4l1.2,-.3l1.2,-.3l1.2,-.4l1.2,-.3l1.1,-.3l1.2,-.3l1.2,-.3l1.2,-.4l1.2,-.3l1.2,-.3l1.2,-.4l1.2,-.3l1.2,-.3l1.2,-.3l1.2,-.3l1.2,-.2l1.2,-.2l1.2,-.2l1.2,.0l1.1,-.1l1.2,.0l1.2,-.1l1.2,.0l1.2,.0l1.2,.0l1.2,-.1l1.2,-.1l1.2,-.2l1.2,-.3l1.1,-.4l1.2,-.4l1.2,-.6l1.1,-.8l1.2,-.9l1.2,-1.2l1.2,-1.2l1.1,-1.6l1.2,-1.8l1.2,-1.9l1.1,-2.1l1.2,-2.0l1.2,-2.0l1.1,-1.9l1.2,-2.0l1.2,-2.0l1.2,-2.1l1.1,-2.0" marker-start="url(#m150)" marker-mid="url(#m150)" marker-end="url(#m150)"/><path d="M504.4,354.0l1.2,-.4l1.2,-.3l1.2,-.3l1.2,-.4l1.2,-.4l1.1,-.4l1.2,-.6l1.2,-.6l1.1,-.8l1.2,-1.1l1.2,-1.4l1.2,-1.6l1.1,-1.8l1.2,-2.0l1.2,-2.0l1.1,-2.0l1.2,-1.8l1.2,-1.5l1.1,-1.3l1.2,-1.3l1.2,-1.1l1.2,-1.0l1.1,-1.1" marker-start="url(#m250)" marker-mid="url(#m250)" marker-end="url(#m250)"/><path d="M509.2,376.0l1.2,-2.8l1.1,-2.8l1.2,-2.8l1.2,-2.7l1.1,-2.6l1.2,-2.4l1.2,-2.4l1.2,-2.2l1.1,-2.1l1.2,-2.0l1.2,-2.0l1.1,-2.0l1.2,-1.9l1.2,-1.9l1.1,-1.9l1.2,-1.9l1.2,-1.8l1.2,-1.9l1.1,-1.9" marker-start="url(#m200)" marker-mid="url(#m200)" marker-end="url(#m200)"/><path d="M530.3,259.2l-1.2,3.3l-1.2,3.3l-1.2,3.5l-1.1,4.0l-1.2,4.8l-1.2,5.2l-1.1,4.5l-1.2,3.6l-1.2,3.1l-1.1,2.7l-1.2,2.6l-1.2,2.5l-1.2,2.6" marker-start="url(#m250)" marker-mid="url(#m250)" marker-end="url(#m250)"/><path d="M489.4,272.8l-1,2.2l-1,2.3l-1,2.3l-1,2.2l-.9,2.2l-1,2.2l-1,2.2l-1,2.1l-1,2.2l-1,2.1l-1,2.1l-1,2.0l-1,2.0l-1,2.0l-.9,1.9l-1,1.9l-1,1.9l-1,1.8l-1,1.9l-1,1.8l-1,1.9l-1,1.8l-.9,1.8l-1,1.8l-1,1.7l-1,1.7l-.9,1.8l-1,1.7l-1,1.7l-1,1.8l-.9,1.7l-1,1.8l-1,1.9l-1,1.8l-.9,1.9l-1,1.9l-1,1.9l-1,1.9l-.9,2.0l-1,1.9l-1,2.0l-1,2.1l-.9,2.1l-1,2.1l-1,2.2l-1,2.2l-.9,2.2l-1,2.3l-1,2.3l-1,2.4l-.9,2.3l-1,2.4l-1,2.4l-1,2.5l-.9,2.7" marker-start="url(#m225)" marker-mid="url(#m225)" marker-end="url(#m225)"/></g>
<g fill="none" stroke="#2424e8" stroke-linecap="round" stroke-linejoin="round"><path d="M508.0,221.5L508.3,221.6L508.7,221.7L509.1,221.9L509.6,222.1L510.1,222.3L510.8,222.6L511.5,223.1L512.3,223.6L513.2,224.3L514.3,225.0L515.5,225.9L516.7,226.9L517.9,227.9L519.2,229.0L520.3,230.1L521.4,231.3L522.4,232.6L523.3,234.0L524.2,235.5L525.1,237.0L525.9,238.5L526.7,240.0L527.5,241.4L528.2,242.6L528.9,243.7L529.7,244.8L530.4,245.8L531.0,246.8L531.6,247.6L532.2,248.4L532.6,249.0L533.0,249.5" stroke-width="3.20"/><path d="M505.0,235.0L505.4,234.5L505.9,233.8L506.5,232.9L507.1,232.0L507.8,231.1L508.6,230.3L509.3,229.7L510.1,229.3L510.9,229.1L511.6,229.0L512.4,229.1L513.3,229.2L514.1,229.5L515.0,230.0L515.9,230.6L516.9,231.3L517.9,232.3L519.0,233.5L520.2,234.9L521.4,236.4L522.6,237.9L523.7,239.6L524.9,241.1L525.9,242.6L526.9,244.1L528.0,245.7L529.0,247.4L530.0,249.0L530.9,250.6L531.8,251.9L532.5,253.1L533.0,254.0" stroke-width="3.20"/><path d="M460.0,230.0L460.3,229.7L460.7,229.3L461.2,228.8L461.7,228.2L462.3,227.7L462.9,227.1L463.5,226.7L464.0,226.3L464.5,226.0L465.1,225.7L465.6,225.5L466.2,225.3L466.7,225.2L467.3,225.1L467.8,225.0L468.4,225.0L469.0,225.0L469.5,225.1L470.1,225.2L470.7,225.3L471.3,225.5L471.9,225.7L472.5,226.0L473.0,226.3L473.6,226.7L474.1,227.1L474.7,227.7L475.3,228.2L475.8,228.8L476.3,229.3L476.7,229.7L477.0,230.0" stroke-width="4.50"/><path d="M505.0,354.0L505.8,353.7L506.9,353.4L508.2,353.0L509.7,352.6L511.2,352.0L512.7,351.3L514.2,350.5L515.5,349.4L516.7,348.0L518.0,346.4L519.2,344.5L520.4,342.5L521.6,340.5L522.8,338.6L523.9,336.8L525.0,335.3L526.1,334.0L527.2,332.8L528.3,331.7L529.3,330.8L530.3,329.9L531.2,329.2L531.9,328.5L532.5,328.0" stroke-width="2.00"/></g>
</g>
<g stroke="#9a9a9a" stroke-width="0.8" stroke-dasharray="1,2" fill="none"><line x1="101.1" y1="5.3" x2="101.1" y2="385.3"/><line x1="141.7" y1="5.3" x2="141.7" y2="385.3"/><line x1="54.3" y1="195.3" x2="165.1" y2="195.3"/></g>
<g stroke="#9a9a9a" stroke-width="0.8" stroke-dasharray="1,2" fill="none"><line x1="223.6" y1="5.3" x2="223.6" y2="385.3"/><line x1="264.2" y1="5.3" x2="264.2" y2="385.3"/><line x1="176.8" y1="195.3" x2="287.6" y2="195.3"/></g>
<g stroke="#9a9a9a" stroke-width="0.8" stroke-dasharray="1,2" fill="none"><line x1="346.1" y1="5.3" x2="346.1" y2="385.3"/><line x1="386.7" y1="5.3" x2="386.7" y2="385.3"/><line x1="299.3" y1="195.3" x2="410.1" y2="195.3"/></g>
<g stroke="#9a9a9a" stroke-width="0.8" stroke-dasharray="1,2" fill="none"><line x1="468.6" y1="5.3" x2="468.6" y2="385.3"/><line x1="509.2" y1="5.3" x2="509.2" y2="385.3"/><line x1="421.8" y1="195.3" x2="532.6" y2="195.3"/></g>
<rect x="54.3" y="5.3" width="110.8" height="380.0" fill="none" stroke="#474747" stroke-width="1.35"/>
<rect x="176.8" y="5.3" width="110.8" height="380.0" fill="none" stroke="#474747" stroke-width="1.35"/>
<rect x="299.3" y="5.3" width="110.8" height="380.0" fill="none" stroke="#474747" stroke-width="1.35"/>
<rect x="421.8" y="5.3" width="110.8" height="380.0" fill="none" stroke="#474747" stroke-width="1.35"/>
<line x1="51.8" y1="347.7" x2="54.3" y2="347.7" stroke="#3c3c3c" stroke-width="1.2"/>
<line x1="51.8" y1="271.5" x2="54.3" y2="271.5" stroke="#3c3c3c" stroke-width="1.2"/>
<line x1="51.8" y1="195.3" x2="54.3" y2="195.3" stroke="#3c3c3c" stroke-width="1.2"/>
<line x1="51.8" y1="119.1" x2="54.3" y2="119.1" stroke="#3c3c3c" stroke-width="1.2"/>
<line x1="51.8" y1="42.9" x2="54.3" y2="42.9" stroke="#3c3c3c" stroke-width="1.2"/>
</svg>
<div class="t" style="left:38px;top:34px;font-size:21.5px">2</div>
<div class="t" style="left:35px;top:109px;font-size:21.5px">1</div>
<div class="t" style="left:37px;top:187px;font-size:21.5px">0</div>
<div class="t" style="left:23px;top:260px;font-size:21.5px">&minus;1</div>
<div class="t" style="left:24px;top:336px;font-size:21.5px">&minus;2</div>
<div class="t" style="left:2px;top:245.5px;font-size:18px;transform:rotate(-90deg);transform-origin:0 0">Energy/eV</div>
<div class="t" style="left:50px;top:392px;font-size:24px">K</div>
<div class="t" style="left:96px;top:392px;font-size:24px">&Gamma;</div>
<div class="t" style="left:139px;top:392px;font-size:24px">M</div>
<div class="t" style="left:167px;top:393px;font-size:24px">K</div>
<div class="t" style="left:207px;top:393px;font-size:24px">&Gamma;</div>
<div class="t" style="left:248px;top:393px;font-size:24px">M</div>
<div class="t" style="left:284px;top:391px;font-size:24px">K</div>
<div class="t" style="left:343px;top:389px;font-size:24px">&Gamma;</div>
<div class="t" style="left:373px;top:391px;font-size:24px">M</div>
<div class="t" style="left:407px;top:391px;font-size:24px">K</div>
<div class="t" style="left:464px;top:389px;font-size:24px">&Gamma;</div>
<div class="t" style="left:493px;top:393px;font-size:24px">M</div>
<div class="t" style="left:529px;top:391px;font-size:24px">K</div>
<div class="t" style="left:62.5px;top:158px;font-size:16.5px">0V/nm</div>
<div class="t" style="left:183px;top:158px;font-size:16.5px">0<span class="p">.</span>75V/nm</div>
<div class="t" style="left:312.5px;top:158px;font-size:16.5px">1<span class="p">.</span>5V/nm</div>
<div class="t" style="left:441.2px;top:158px;font-size:16.5px">2<span class="p">.</span>25V/nm</div>
</body></html>
